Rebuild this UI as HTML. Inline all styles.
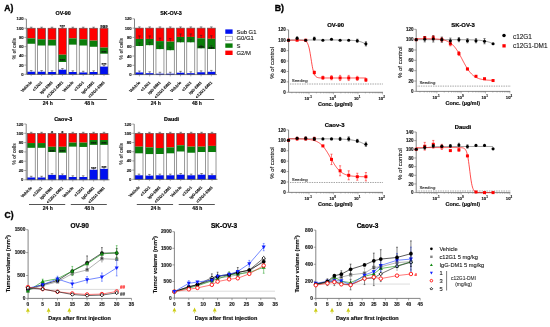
<!DOCTYPE html>
<html><head><meta charset="utf-8"><style>
html,body{margin:0;padding:0;background:#fff;width:550px;height:327px;overflow:hidden}
svg{display:block;will-change:transform}
text{font-family:"Liberation Sans",sans-serif}
</style></head><body>
<svg width="550" height="327" viewBox="0 0 550 327">
<rect width="550" height="327" fill="#fff"/>
<line x1="26.40" y1="18.98" x2="26.40" y2="74.30" stroke="#666" stroke-width="0.8" />
<line x1="26.40" y1="74.30" x2="109.50" y2="74.30" stroke="#666" stroke-width="0.8" />
<line x1="24.40" y1="74.30" x2="26.40" y2="74.30" stroke="#666" stroke-width="0.6" />
<text x="23.60" y="75.80" font-size="4.2" text-anchor="end" font-weight="bold" fill="#222"  stroke="#222" stroke-width="0.147">0</text>
<line x1="24.40" y1="65.08" x2="26.40" y2="65.08" stroke="#666" stroke-width="0.6" />
<text x="23.60" y="66.58" font-size="4.2" text-anchor="end" font-weight="bold" fill="#222"  stroke="#222" stroke-width="0.147">20</text>
<line x1="24.40" y1="55.86" x2="26.40" y2="55.86" stroke="#666" stroke-width="0.6" />
<text x="23.60" y="57.36" font-size="4.2" text-anchor="end" font-weight="bold" fill="#222"  stroke="#222" stroke-width="0.147">40</text>
<line x1="24.40" y1="46.64" x2="26.40" y2="46.64" stroke="#666" stroke-width="0.6" />
<text x="23.60" y="48.14" font-size="4.2" text-anchor="end" font-weight="bold" fill="#222"  stroke="#222" stroke-width="0.147">60</text>
<line x1="24.40" y1="37.42" x2="26.40" y2="37.42" stroke="#666" stroke-width="0.6" />
<text x="23.60" y="38.92" font-size="4.2" text-anchor="end" font-weight="bold" fill="#222"  stroke="#222" stroke-width="0.147">80</text>
<line x1="24.40" y1="28.20" x2="26.40" y2="28.20" stroke="#666" stroke-width="0.6" />
<text x="23.60" y="29.70" font-size="4.2" text-anchor="end" font-weight="bold" fill="#222"  stroke="#222" stroke-width="0.147">100</text>
<line x1="24.40" y1="18.98" x2="26.40" y2="18.98" stroke="#666" stroke-width="0.6" />
<text x="23.60" y="20.48" font-size="4.2" text-anchor="end" font-weight="bold" fill="#222"  stroke="#222" stroke-width="0.147">120</text>
<text x="16.00" y="48.64" font-size="5.0" text-anchor="middle" fill="#111" transform="rotate(-90 16.00 48.64)"  stroke="#111" stroke-width="0.100">% of cells</text>
<text x="63.20" y="15.30" font-size="5.4" text-anchor="middle" font-weight="bold" fill="#000"  stroke="#000" stroke-width="0.189">OV-90</text>
<rect x="27.20" y="28.20" width="8.00" height="10.14" fill="#ff0000" stroke="none" stroke-width="0"/>
<rect x="27.20" y="38.34" width="8.00" height="5.53" fill="#0a7d0a" stroke="none" stroke-width="0"/>
<rect x="27.20" y="43.87" width="8.00" height="27.89" fill="#fff" stroke="none" stroke-width="0"/>
<rect x="27.20" y="71.76" width="8.00" height="2.54" fill="#0010f0" stroke="none" stroke-width="0"/>
<rect x="27.20" y="28.20" width="8.00" height="46.10" fill="none" stroke="#555" stroke-width="0.6"/>
<line x1="31.20" y1="74.30" x2="31.20" y2="76.10" stroke="#666" stroke-width="0.5" />
<line x1="29.90" y1="27.20" x2="32.50" y2="27.20" stroke="#222" stroke-width="0.5" />
<line x1="31.20" y1="27.20" x2="31.20" y2="28.20" stroke="#222" stroke-width="0.5" />
<line x1="29.90" y1="70.56" x2="32.50" y2="70.56" stroke="#222" stroke-width="0.5" />
<line x1="31.20" y1="70.56" x2="31.20" y2="71.76" stroke="#222" stroke-width="0.5" />
<rect x="37.60" y="28.20" width="8.00" height="11.06" fill="#ff0000" stroke="none" stroke-width="0"/>
<rect x="37.60" y="39.26" width="8.00" height="6.45" fill="#0a7d0a" stroke="none" stroke-width="0"/>
<rect x="37.60" y="45.72" width="8.00" height="26.05" fill="#fff" stroke="none" stroke-width="0"/>
<rect x="37.60" y="71.76" width="8.00" height="2.54" fill="#0010f0" stroke="none" stroke-width="0"/>
<rect x="37.60" y="28.20" width="8.00" height="46.10" fill="none" stroke="#555" stroke-width="0.6"/>
<line x1="41.60" y1="74.30" x2="41.60" y2="76.10" stroke="#666" stroke-width="0.5" />
<line x1="40.30" y1="27.20" x2="42.90" y2="27.20" stroke="#222" stroke-width="0.5" />
<line x1="41.60" y1="27.20" x2="41.60" y2="28.20" stroke="#222" stroke-width="0.5" />
<line x1="40.30" y1="70.56" x2="42.90" y2="70.56" stroke="#222" stroke-width="0.5" />
<line x1="41.60" y1="70.56" x2="41.60" y2="71.76" stroke="#222" stroke-width="0.5" />
<rect x="48.00" y="28.20" width="8.00" height="11.52" fill="#ff0000" stroke="none" stroke-width="0"/>
<rect x="48.00" y="39.73" width="8.00" height="5.99" fill="#0a7d0a" stroke="none" stroke-width="0"/>
<rect x="48.00" y="45.72" width="8.00" height="26.28" fill="#fff" stroke="none" stroke-width="0"/>
<rect x="48.00" y="72.00" width="8.00" height="2.30" fill="#0010f0" stroke="none" stroke-width="0"/>
<rect x="48.00" y="28.20" width="8.00" height="46.10" fill="none" stroke="#555" stroke-width="0.6"/>
<line x1="52.00" y1="74.30" x2="52.00" y2="76.10" stroke="#666" stroke-width="0.5" />
<line x1="50.70" y1="27.20" x2="53.30" y2="27.20" stroke="#222" stroke-width="0.5" />
<line x1="52.00" y1="27.20" x2="52.00" y2="28.20" stroke="#222" stroke-width="0.5" />
<line x1="50.70" y1="70.80" x2="53.30" y2="70.80" stroke="#222" stroke-width="0.5" />
<line x1="52.00" y1="70.80" x2="52.00" y2="72.00" stroke="#222" stroke-width="0.5" />
<rect x="58.40" y="28.20" width="8.00" height="26.51" fill="#ff0000" stroke="none" stroke-width="0"/>
<rect x="58.40" y="54.71" width="8.00" height="7.33" fill="#0a7d0a" stroke="none" stroke-width="0"/>
<rect x="58.40" y="62.04" width="8.00" height="7.65" fill="#fff" stroke="none" stroke-width="0"/>
<rect x="58.40" y="69.69" width="8.00" height="4.61" fill="#0010f0" stroke="none" stroke-width="0"/>
<rect x="58.40" y="28.20" width="8.00" height="46.10" fill="none" stroke="#555" stroke-width="0.6"/>
<line x1="62.40" y1="74.30" x2="62.40" y2="76.10" stroke="#666" stroke-width="0.5" />
<line x1="61.10" y1="27.20" x2="63.70" y2="27.20" stroke="#222" stroke-width="0.5" />
<line x1="62.40" y1="27.20" x2="62.40" y2="28.20" stroke="#222" stroke-width="0.5" />
<line x1="61.10" y1="68.49" x2="63.70" y2="68.49" stroke="#222" stroke-width="0.5" />
<line x1="62.40" y1="68.49" x2="62.40" y2="69.69" stroke="#222" stroke-width="0.5" />
<rect x="68.80" y="28.20" width="8.00" height="10.14" fill="#ff0000" stroke="none" stroke-width="0"/>
<rect x="68.80" y="38.34" width="8.00" height="6.45" fill="#0a7d0a" stroke="none" stroke-width="0"/>
<rect x="68.80" y="44.80" width="8.00" height="27.20" fill="#fff" stroke="none" stroke-width="0"/>
<rect x="68.80" y="72.00" width="8.00" height="2.30" fill="#0010f0" stroke="none" stroke-width="0"/>
<rect x="68.80" y="28.20" width="8.00" height="46.10" fill="none" stroke="#555" stroke-width="0.6"/>
<line x1="72.80" y1="74.30" x2="72.80" y2="76.10" stroke="#666" stroke-width="0.5" />
<line x1="71.50" y1="27.20" x2="74.10" y2="27.20" stroke="#222" stroke-width="0.5" />
<line x1="72.80" y1="27.20" x2="72.80" y2="28.20" stroke="#222" stroke-width="0.5" />
<line x1="71.50" y1="70.80" x2="74.10" y2="70.80" stroke="#222" stroke-width="0.5" />
<line x1="72.80" y1="70.80" x2="72.80" y2="72.00" stroke="#222" stroke-width="0.5" />
<rect x="79.20" y="28.20" width="8.00" height="11.06" fill="#ff0000" stroke="none" stroke-width="0"/>
<rect x="79.20" y="39.26" width="8.00" height="6.45" fill="#0a7d0a" stroke="none" stroke-width="0"/>
<rect x="79.20" y="45.72" width="8.00" height="26.74" fill="#fff" stroke="none" stroke-width="0"/>
<rect x="79.20" y="72.46" width="8.00" height="1.84" fill="#0010f0" stroke="none" stroke-width="0"/>
<rect x="79.20" y="28.20" width="8.00" height="46.10" fill="none" stroke="#555" stroke-width="0.6"/>
<line x1="83.20" y1="74.30" x2="83.20" y2="76.10" stroke="#666" stroke-width="0.5" />
<line x1="81.90" y1="27.20" x2="84.50" y2="27.20" stroke="#222" stroke-width="0.5" />
<line x1="83.20" y1="27.20" x2="83.20" y2="28.20" stroke="#222" stroke-width="0.5" />
<line x1="81.90" y1="71.26" x2="84.50" y2="71.26" stroke="#222" stroke-width="0.5" />
<line x1="83.20" y1="71.26" x2="83.20" y2="72.46" stroke="#222" stroke-width="0.5" />
<rect x="89.60" y="28.20" width="8.00" height="12.45" fill="#ff0000" stroke="none" stroke-width="0"/>
<rect x="89.60" y="40.65" width="8.00" height="6.22" fill="#0a7d0a" stroke="none" stroke-width="0"/>
<rect x="89.60" y="46.87" width="8.00" height="25.12" fill="#fff" stroke="none" stroke-width="0"/>
<rect x="89.60" y="72.00" width="8.00" height="2.30" fill="#0010f0" stroke="none" stroke-width="0"/>
<rect x="89.60" y="28.20" width="8.00" height="46.10" fill="none" stroke="#555" stroke-width="0.6"/>
<line x1="93.60" y1="74.30" x2="93.60" y2="76.10" stroke="#666" stroke-width="0.5" />
<line x1="92.30" y1="27.20" x2="94.90" y2="27.20" stroke="#222" stroke-width="0.5" />
<line x1="93.60" y1="27.20" x2="93.60" y2="28.20" stroke="#222" stroke-width="0.5" />
<line x1="92.30" y1="70.80" x2="94.90" y2="70.80" stroke="#222" stroke-width="0.5" />
<line x1="93.60" y1="70.80" x2="93.60" y2="72.00" stroke="#222" stroke-width="0.5" />
<rect x="100.00" y="28.20" width="8.00" height="19.36" fill="#ff0000" stroke="none" stroke-width="0"/>
<rect x="100.00" y="47.56" width="8.00" height="6.27" fill="#0a7d0a" stroke="none" stroke-width="0"/>
<rect x="100.00" y="53.83" width="8.00" height="12.77" fill="#fff" stroke="none" stroke-width="0"/>
<rect x="100.00" y="66.60" width="8.00" height="7.70" fill="#0010f0" stroke="none" stroke-width="0"/>
<rect x="100.00" y="28.20" width="8.00" height="46.10" fill="none" stroke="#555" stroke-width="0.6"/>
<line x1="104.00" y1="74.30" x2="104.00" y2="76.10" stroke="#666" stroke-width="0.5" />
<line x1="102.70" y1="27.20" x2="105.30" y2="27.20" stroke="#222" stroke-width="0.5" />
<line x1="104.00" y1="27.20" x2="104.00" y2="28.20" stroke="#222" stroke-width="0.5" />
<line x1="102.70" y1="65.40" x2="105.30" y2="65.40" stroke="#222" stroke-width="0.5" />
<line x1="104.00" y1="65.40" x2="104.00" y2="66.60" stroke="#222" stroke-width="0.5" />
<text x="62.40" y="28.42" font-size="4.4" text-anchor="middle" font-weight="bold" fill="#111"  stroke="#111" stroke-width="0.154">***</text>
<text x="62.40" y="61.61" font-size="4.4" text-anchor="middle" font-weight="bold" fill="#111"  stroke="#111" stroke-width="0.154">***</text>
<text x="104.00" y="28.19" font-size="4.4" text-anchor="middle" font-weight="bold" fill="#111"  stroke="#111" stroke-width="0.154">§§§</text>
<text x="104.00" y="53.77" font-size="4.4" text-anchor="middle" font-weight="bold" fill="#111"  stroke="#111" stroke-width="0.154">***</text>
<text x="104.00" y="66.22" font-size="4.4" text-anchor="middle" font-weight="bold" fill="#111"  stroke="#111" stroke-width="0.154">***</text>
<text x="32.30" y="82.70" font-size="4.0" text-anchor="end" font-weight="bold" fill="#111" transform="rotate(-45 32.30 82.70)" stroke="#111" stroke-width="0.12">Vehicle</text>
<text x="42.70" y="82.70" font-size="4.0" text-anchor="end" font-weight="bold" fill="#111" transform="rotate(-45 42.70 82.70)" stroke="#111" stroke-width="0.12">c12G1</text>
<text x="53.10" y="82.70" font-size="4.0" text-anchor="end" font-weight="bold" fill="#111" transform="rotate(-45 53.10 82.70)" stroke="#111" stroke-width="0.12">IgG-DM1</text>
<text x="63.50" y="82.70" font-size="4.0" text-anchor="end" font-weight="bold" fill="#111" transform="rotate(-45 63.50 82.70)" stroke="#111" stroke-width="0.12">c12G1-DM1</text>
<text x="73.90" y="82.70" font-size="4.0" text-anchor="end" font-weight="bold" fill="#111" transform="rotate(-45 73.90 82.70)" stroke="#111" stroke-width="0.12">Vehicle</text>
<text x="84.30" y="82.70" font-size="4.0" text-anchor="end" font-weight="bold" fill="#111" transform="rotate(-45 84.30 82.70)" stroke="#111" stroke-width="0.12">c12G1</text>
<text x="94.70" y="82.70" font-size="4.0" text-anchor="end" font-weight="bold" fill="#111" transform="rotate(-45 94.70 82.70)" stroke="#111" stroke-width="0.12">IgG-DM1</text>
<text x="105.10" y="82.70" font-size="4.0" text-anchor="end" font-weight="bold" fill="#111" transform="rotate(-45 105.10 82.70)" stroke="#111" stroke-width="0.12">c12G1-DM1</text>
<line x1="29.00" y1="99.50" x2="65.20" y2="99.50" stroke="#555" stroke-width="1.0" />
<line x1="70.80" y1="99.50" x2="106.80" y2="99.50" stroke="#555" stroke-width="1.0" />
<text x="47.80" y="105.20" font-size="5.0" text-anchor="middle" font-weight="bold" fill="#111"  stroke="#111" stroke-width="0.175">24 h</text>
<text x="89.40" y="105.20" font-size="5.0" text-anchor="middle" font-weight="bold" fill="#111"  stroke="#111" stroke-width="0.175">48 h</text>
<line x1="134.50" y1="18.80" x2="134.50" y2="74.60" stroke="#666" stroke-width="0.8" />
<line x1="134.50" y1="74.60" x2="216.86" y2="74.60" stroke="#666" stroke-width="0.8" />
<line x1="132.50" y1="74.60" x2="134.50" y2="74.60" stroke="#666" stroke-width="0.6" />
<text x="131.70" y="76.10" font-size="4.2" text-anchor="end" font-weight="bold" fill="#222"  stroke="#222" stroke-width="0.147">0</text>
<line x1="132.50" y1="65.30" x2="134.50" y2="65.30" stroke="#666" stroke-width="0.6" />
<text x="131.70" y="66.80" font-size="4.2" text-anchor="end" font-weight="bold" fill="#222"  stroke="#222" stroke-width="0.147">20</text>
<line x1="132.50" y1="56.00" x2="134.50" y2="56.00" stroke="#666" stroke-width="0.6" />
<text x="131.70" y="57.50" font-size="4.2" text-anchor="end" font-weight="bold" fill="#222"  stroke="#222" stroke-width="0.147">40</text>
<line x1="132.50" y1="46.70" x2="134.50" y2="46.70" stroke="#666" stroke-width="0.6" />
<text x="131.70" y="48.20" font-size="4.2" text-anchor="end" font-weight="bold" fill="#222"  stroke="#222" stroke-width="0.147">60</text>
<line x1="132.50" y1="37.40" x2="134.50" y2="37.40" stroke="#666" stroke-width="0.6" />
<text x="131.70" y="38.90" font-size="4.2" text-anchor="end" font-weight="bold" fill="#222"  stroke="#222" stroke-width="0.147">80</text>
<line x1="132.50" y1="28.10" x2="134.50" y2="28.10" stroke="#666" stroke-width="0.6" />
<text x="131.70" y="29.60" font-size="4.2" text-anchor="end" font-weight="bold" fill="#222"  stroke="#222" stroke-width="0.147">100</text>
<line x1="132.50" y1="18.80" x2="134.50" y2="18.80" stroke="#666" stroke-width="0.6" />
<text x="131.70" y="20.30" font-size="4.2" text-anchor="end" font-weight="bold" fill="#222"  stroke="#222" stroke-width="0.147">120</text>
<text x="123.30" y="48.70" font-size="5.0" text-anchor="middle" fill="#111" transform="rotate(-90 123.30 48.70)"  stroke="#111" stroke-width="0.100">% of cells</text>
<text x="171.00" y="15.30" font-size="5.4" text-anchor="middle" font-weight="bold" fill="#000"  stroke="#000" stroke-width="0.189">SK-OV-3</text>
<rect x="135.40" y="28.10" width="8.00" height="10.83" fill="#ff0000" stroke="none" stroke-width="0"/>
<rect x="135.40" y="38.93" width="8.00" height="7.11" fill="#0a7d0a" stroke="none" stroke-width="0"/>
<rect x="135.40" y="46.05" width="8.00" height="26.41" fill="#fff" stroke="none" stroke-width="0"/>
<rect x="135.40" y="72.46" width="8.00" height="2.14" fill="#0010f0" stroke="none" stroke-width="0"/>
<rect x="135.40" y="28.10" width="8.00" height="46.50" fill="none" stroke="#555" stroke-width="0.6"/>
<line x1="139.40" y1="74.60" x2="139.40" y2="76.40" stroke="#666" stroke-width="0.5" />
<line x1="138.10" y1="26.90" x2="140.70" y2="26.90" stroke="#222" stroke-width="0.5" />
<line x1="139.40" y1="26.90" x2="139.40" y2="28.10" stroke="#222" stroke-width="0.5" />
<line x1="138.10" y1="35.93" x2="140.70" y2="35.93" stroke="#222" stroke-width="0.5" />
<line x1="139.40" y1="35.93" x2="139.40" y2="38.93" stroke="#222" stroke-width="0.5" />
<line x1="138.10" y1="42.85" x2="140.70" y2="42.85" stroke="#222" stroke-width="0.5" />
<line x1="139.40" y1="42.85" x2="139.40" y2="46.05" stroke="#222" stroke-width="0.5" />
<line x1="138.10" y1="71.06" x2="140.70" y2="71.06" stroke="#222" stroke-width="0.5" />
<line x1="139.40" y1="71.06" x2="139.40" y2="72.46" stroke="#222" stroke-width="0.5" />
<rect x="145.68" y="28.10" width="8.00" height="10.83" fill="#ff0000" stroke="none" stroke-width="0"/>
<rect x="145.68" y="38.93" width="8.00" height="6.46" fill="#0a7d0a" stroke="none" stroke-width="0"/>
<rect x="145.68" y="45.40" width="8.00" height="27.81" fill="#fff" stroke="none" stroke-width="0"/>
<rect x="145.68" y="73.20" width="8.00" height="1.39" fill="#0010f0" stroke="none" stroke-width="0"/>
<rect x="145.68" y="28.10" width="8.00" height="46.50" fill="none" stroke="#555" stroke-width="0.6"/>
<line x1="149.68" y1="74.60" x2="149.68" y2="76.40" stroke="#666" stroke-width="0.5" />
<line x1="148.38" y1="26.90" x2="150.98" y2="26.90" stroke="#222" stroke-width="0.5" />
<line x1="149.68" y1="26.90" x2="149.68" y2="28.10" stroke="#222" stroke-width="0.5" />
<line x1="148.38" y1="35.93" x2="150.98" y2="35.93" stroke="#222" stroke-width="0.5" />
<line x1="149.68" y1="35.93" x2="149.68" y2="38.93" stroke="#222" stroke-width="0.5" />
<line x1="148.38" y1="42.20" x2="150.98" y2="42.20" stroke="#222" stroke-width="0.5" />
<line x1="149.68" y1="42.20" x2="149.68" y2="45.40" stroke="#222" stroke-width="0.5" />
<line x1="148.38" y1="71.80" x2="150.98" y2="71.80" stroke="#222" stroke-width="0.5" />
<line x1="149.68" y1="71.80" x2="149.68" y2="73.20" stroke="#222" stroke-width="0.5" />
<rect x="155.96" y="28.10" width="8.00" height="13.02" fill="#ff0000" stroke="none" stroke-width="0"/>
<rect x="155.96" y="41.12" width="8.00" height="8.18" fill="#0a7d0a" stroke="none" stroke-width="0"/>
<rect x="155.96" y="49.30" width="8.00" height="24.37" fill="#fff" stroke="none" stroke-width="0"/>
<rect x="155.96" y="73.67" width="8.00" height="0.93" fill="#0010f0" stroke="none" stroke-width="0"/>
<rect x="155.96" y="28.10" width="8.00" height="46.50" fill="none" stroke="#555" stroke-width="0.6"/>
<line x1="159.96" y1="74.60" x2="159.96" y2="76.40" stroke="#666" stroke-width="0.5" />
<line x1="158.66" y1="26.90" x2="161.26" y2="26.90" stroke="#222" stroke-width="0.5" />
<line x1="159.96" y1="26.90" x2="159.96" y2="28.10" stroke="#222" stroke-width="0.5" />
<line x1="158.66" y1="38.12" x2="161.26" y2="38.12" stroke="#222" stroke-width="0.5" />
<line x1="159.96" y1="38.12" x2="159.96" y2="41.12" stroke="#222" stroke-width="0.5" />
<line x1="158.66" y1="46.10" x2="161.26" y2="46.10" stroke="#222" stroke-width="0.5" />
<line x1="159.96" y1="46.10" x2="159.96" y2="49.30" stroke="#222" stroke-width="0.5" />
<line x1="158.66" y1="72.27" x2="161.26" y2="72.27" stroke="#222" stroke-width="0.5" />
<line x1="159.96" y1="72.27" x2="159.96" y2="73.67" stroke="#222" stroke-width="0.5" />
<rect x="166.24" y="28.10" width="8.00" height="13.48" fill="#ff0000" stroke="none" stroke-width="0"/>
<rect x="166.24" y="41.59" width="8.00" height="8.83" fill="#0a7d0a" stroke="none" stroke-width="0"/>
<rect x="166.24" y="50.42" width="8.00" height="23.25" fill="#fff" stroke="none" stroke-width="0"/>
<rect x="166.24" y="73.67" width="8.00" height="0.93" fill="#0010f0" stroke="none" stroke-width="0"/>
<rect x="166.24" y="28.10" width="8.00" height="46.50" fill="none" stroke="#555" stroke-width="0.6"/>
<line x1="170.24" y1="74.60" x2="170.24" y2="76.40" stroke="#666" stroke-width="0.5" />
<line x1="168.94" y1="26.90" x2="171.54" y2="26.90" stroke="#222" stroke-width="0.5" />
<line x1="170.24" y1="26.90" x2="170.24" y2="28.10" stroke="#222" stroke-width="0.5" />
<line x1="168.94" y1="38.59" x2="171.54" y2="38.59" stroke="#222" stroke-width="0.5" />
<line x1="170.24" y1="38.59" x2="170.24" y2="41.59" stroke="#222" stroke-width="0.5" />
<line x1="168.94" y1="47.22" x2="171.54" y2="47.22" stroke="#222" stroke-width="0.5" />
<line x1="170.24" y1="47.22" x2="170.24" y2="50.42" stroke="#222" stroke-width="0.5" />
<line x1="168.94" y1="72.27" x2="171.54" y2="72.27" stroke="#222" stroke-width="0.5" />
<line x1="170.24" y1="72.27" x2="170.24" y2="73.67" stroke="#222" stroke-width="0.5" />
<rect x="176.52" y="28.10" width="8.00" height="8.83" fill="#ff0000" stroke="none" stroke-width="0"/>
<rect x="176.52" y="36.94" width="8.00" height="5.58" fill="#0a7d0a" stroke="none" stroke-width="0"/>
<rect x="176.52" y="42.52" width="8.00" height="30.22" fill="#fff" stroke="none" stroke-width="0"/>
<rect x="176.52" y="72.74" width="8.00" height="1.86" fill="#0010f0" stroke="none" stroke-width="0"/>
<rect x="176.52" y="28.10" width="8.00" height="46.50" fill="none" stroke="#555" stroke-width="0.6"/>
<line x1="180.52" y1="74.60" x2="180.52" y2="76.40" stroke="#666" stroke-width="0.5" />
<line x1="179.22" y1="26.90" x2="181.82" y2="26.90" stroke="#222" stroke-width="0.5" />
<line x1="180.52" y1="26.90" x2="180.52" y2="28.10" stroke="#222" stroke-width="0.5" />
<line x1="179.22" y1="33.94" x2="181.82" y2="33.94" stroke="#222" stroke-width="0.5" />
<line x1="180.52" y1="33.94" x2="180.52" y2="36.94" stroke="#222" stroke-width="0.5" />
<line x1="179.22" y1="39.31" x2="181.82" y2="39.31" stroke="#222" stroke-width="0.5" />
<line x1="180.52" y1="39.31" x2="180.52" y2="42.52" stroke="#222" stroke-width="0.5" />
<line x1="179.22" y1="71.34" x2="181.82" y2="71.34" stroke="#222" stroke-width="0.5" />
<line x1="180.52" y1="71.34" x2="180.52" y2="72.74" stroke="#222" stroke-width="0.5" />
<rect x="186.80" y="28.10" width="8.00" height="8.83" fill="#ff0000" stroke="none" stroke-width="0"/>
<rect x="186.80" y="36.94" width="8.00" height="5.58" fill="#0a7d0a" stroke="none" stroke-width="0"/>
<rect x="186.80" y="42.52" width="8.00" height="30.69" fill="#fff" stroke="none" stroke-width="0"/>
<rect x="186.80" y="73.20" width="8.00" height="1.39" fill="#0010f0" stroke="none" stroke-width="0"/>
<rect x="186.80" y="28.10" width="8.00" height="46.50" fill="none" stroke="#555" stroke-width="0.6"/>
<line x1="190.80" y1="74.60" x2="190.80" y2="76.40" stroke="#666" stroke-width="0.5" />
<line x1="189.50" y1="26.90" x2="192.10" y2="26.90" stroke="#222" stroke-width="0.5" />
<line x1="190.80" y1="26.90" x2="190.80" y2="28.10" stroke="#222" stroke-width="0.5" />
<line x1="189.50" y1="33.94" x2="192.10" y2="33.94" stroke="#222" stroke-width="0.5" />
<line x1="190.80" y1="33.94" x2="190.80" y2="36.94" stroke="#222" stroke-width="0.5" />
<line x1="189.50" y1="39.31" x2="192.10" y2="39.31" stroke="#222" stroke-width="0.5" />
<line x1="190.80" y1="39.31" x2="190.80" y2="42.52" stroke="#222" stroke-width="0.5" />
<line x1="189.50" y1="71.80" x2="192.10" y2="71.80" stroke="#222" stroke-width="0.5" />
<line x1="190.80" y1="71.80" x2="190.80" y2="73.20" stroke="#222" stroke-width="0.5" />
<rect x="197.08" y="28.10" width="8.00" height="10.23" fill="#ff0000" stroke="none" stroke-width="0"/>
<rect x="197.08" y="38.33" width="8.00" height="10.23" fill="#0a7d0a" stroke="none" stroke-width="0"/>
<rect x="197.08" y="48.56" width="8.00" height="23.71" fill="#fff" stroke="none" stroke-width="0"/>
<rect x="197.08" y="72.27" width="8.00" height="2.32" fill="#0010f0" stroke="none" stroke-width="0"/>
<rect x="197.08" y="28.10" width="8.00" height="46.50" fill="none" stroke="#555" stroke-width="0.6"/>
<line x1="201.08" y1="74.60" x2="201.08" y2="76.40" stroke="#666" stroke-width="0.5" />
<line x1="199.78" y1="26.90" x2="202.38" y2="26.90" stroke="#222" stroke-width="0.5" />
<line x1="201.08" y1="26.90" x2="201.08" y2="28.10" stroke="#222" stroke-width="0.5" />
<line x1="199.78" y1="35.33" x2="202.38" y2="35.33" stroke="#222" stroke-width="0.5" />
<line x1="201.08" y1="35.33" x2="201.08" y2="38.33" stroke="#222" stroke-width="0.5" />
<line x1="199.78" y1="45.36" x2="202.38" y2="45.36" stroke="#222" stroke-width="0.5" />
<line x1="201.08" y1="45.36" x2="201.08" y2="48.56" stroke="#222" stroke-width="0.5" />
<line x1="199.78" y1="70.87" x2="202.38" y2="70.87" stroke="#222" stroke-width="0.5" />
<line x1="201.08" y1="70.87" x2="201.08" y2="72.27" stroke="#222" stroke-width="0.5" />
<rect x="207.36" y="28.10" width="8.00" height="10.69" fill="#ff0000" stroke="none" stroke-width="0"/>
<rect x="207.36" y="38.80" width="8.00" height="10.23" fill="#0a7d0a" stroke="none" stroke-width="0"/>
<rect x="207.36" y="49.02" width="8.00" height="22.78" fill="#fff" stroke="none" stroke-width="0"/>
<rect x="207.36" y="71.81" width="8.00" height="2.79" fill="#0010f0" stroke="none" stroke-width="0"/>
<rect x="207.36" y="28.10" width="8.00" height="46.50" fill="none" stroke="#555" stroke-width="0.6"/>
<line x1="211.36" y1="74.60" x2="211.36" y2="76.40" stroke="#666" stroke-width="0.5" />
<line x1="210.06" y1="26.90" x2="212.66" y2="26.90" stroke="#222" stroke-width="0.5" />
<line x1="211.36" y1="26.90" x2="211.36" y2="28.10" stroke="#222" stroke-width="0.5" />
<line x1="210.06" y1="35.80" x2="212.66" y2="35.80" stroke="#222" stroke-width="0.5" />
<line x1="211.36" y1="35.80" x2="211.36" y2="38.80" stroke="#222" stroke-width="0.5" />
<line x1="210.06" y1="45.82" x2="212.66" y2="45.82" stroke="#222" stroke-width="0.5" />
<line x1="211.36" y1="45.82" x2="211.36" y2="49.02" stroke="#222" stroke-width="0.5" />
<line x1="210.06" y1="70.41" x2="212.66" y2="70.41" stroke="#222" stroke-width="0.5" />
<line x1="211.36" y1="70.41" x2="211.36" y2="71.81" stroke="#222" stroke-width="0.5" />
<text x="201.08" y="49.23" font-size="4.4" text-anchor="middle" font-weight="bold" fill="#111"  stroke="#111" stroke-width="0.154">***</text>
<text x="211.36" y="49.70" font-size="4.4" text-anchor="middle" font-weight="bold" fill="#111"  stroke="#111" stroke-width="0.154">***</text>
<text x="140.50" y="83.00" font-size="4.0" text-anchor="end" font-weight="bold" fill="#111" transform="rotate(-45 140.50 83.00)" stroke="#111" stroke-width="0.12">Vehicle</text>
<text x="150.78" y="83.00" font-size="4.0" text-anchor="end" font-weight="bold" fill="#111" transform="rotate(-45 150.78 83.00)" stroke="#111" stroke-width="0.12">c12G1</text>
<text x="161.06" y="83.00" font-size="4.0" text-anchor="end" font-weight="bold" fill="#111" transform="rotate(-45 161.06 83.00)" stroke="#111" stroke-width="0.12">IgG-DM1</text>
<text x="171.34" y="83.00" font-size="4.0" text-anchor="end" font-weight="bold" fill="#111" transform="rotate(-45 171.34 83.00)" stroke="#111" stroke-width="0.12">c12G1-DM1</text>
<text x="181.62" y="83.00" font-size="4.0" text-anchor="end" font-weight="bold" fill="#111" transform="rotate(-45 181.62 83.00)" stroke="#111" stroke-width="0.12">Vehicle</text>
<text x="191.90" y="83.00" font-size="4.0" text-anchor="end" font-weight="bold" fill="#111" transform="rotate(-45 191.90 83.00)" stroke="#111" stroke-width="0.12">c12G1</text>
<text x="202.18" y="83.00" font-size="4.0" text-anchor="end" font-weight="bold" fill="#111" transform="rotate(-45 202.18 83.00)" stroke="#111" stroke-width="0.12">IgG-DM1</text>
<text x="212.46" y="83.00" font-size="4.0" text-anchor="end" font-weight="bold" fill="#111" transform="rotate(-45 212.46 83.00)" stroke="#111" stroke-width="0.12">c12G1-DM1</text>
<line x1="137.20" y1="99.50" x2="173.04" y2="99.50" stroke="#555" stroke-width="1.0" />
<line x1="178.52" y1="99.50" x2="214.16" y2="99.50" stroke="#555" stroke-width="1.0" />
<text x="155.82" y="105.20" font-size="5.0" text-anchor="middle" font-weight="bold" fill="#111"  stroke="#111" stroke-width="0.175">24 h</text>
<text x="196.94" y="105.20" font-size="5.0" text-anchor="middle" font-weight="bold" fill="#111"  stroke="#111" stroke-width="0.175">48 h</text>
<line x1="26.20" y1="124.00" x2="26.20" y2="179.80" stroke="#666" stroke-width="0.8" />
<line x1="26.20" y1="179.80" x2="109.50" y2="179.80" stroke="#666" stroke-width="0.8" />
<line x1="24.20" y1="179.80" x2="26.20" y2="179.80" stroke="#666" stroke-width="0.6" />
<text x="23.40" y="181.30" font-size="4.2" text-anchor="end" font-weight="bold" fill="#222"  stroke="#222" stroke-width="0.147">0</text>
<line x1="24.20" y1="170.50" x2="26.20" y2="170.50" stroke="#666" stroke-width="0.6" />
<text x="23.40" y="172.00" font-size="4.2" text-anchor="end" font-weight="bold" fill="#222"  stroke="#222" stroke-width="0.147">20</text>
<line x1="24.20" y1="161.20" x2="26.20" y2="161.20" stroke="#666" stroke-width="0.6" />
<text x="23.40" y="162.70" font-size="4.2" text-anchor="end" font-weight="bold" fill="#222"  stroke="#222" stroke-width="0.147">40</text>
<line x1="24.20" y1="151.90" x2="26.20" y2="151.90" stroke="#666" stroke-width="0.6" />
<text x="23.40" y="153.40" font-size="4.2" text-anchor="end" font-weight="bold" fill="#222"  stroke="#222" stroke-width="0.147">60</text>
<line x1="24.20" y1="142.60" x2="26.20" y2="142.60" stroke="#666" stroke-width="0.6" />
<text x="23.40" y="144.10" font-size="4.2" text-anchor="end" font-weight="bold" fill="#222"  stroke="#222" stroke-width="0.147">80</text>
<line x1="24.20" y1="133.30" x2="26.20" y2="133.30" stroke="#666" stroke-width="0.6" />
<text x="23.40" y="134.80" font-size="4.2" text-anchor="end" font-weight="bold" fill="#222"  stroke="#222" stroke-width="0.147">100</text>
<line x1="24.20" y1="124.00" x2="26.20" y2="124.00" stroke="#666" stroke-width="0.6" />
<text x="23.40" y="125.50" font-size="4.2" text-anchor="end" font-weight="bold" fill="#222"  stroke="#222" stroke-width="0.147">120</text>
<text x="16.00" y="153.90" font-size="5.0" text-anchor="middle" fill="#111" transform="rotate(-90 16.00 153.90)"  stroke="#111" stroke-width="0.100">% of cells</text>
<text x="63.20" y="121.00" font-size="5.4" text-anchor="middle" font-weight="bold" fill="#000"  stroke="#000" stroke-width="0.189">Caov-3</text>
<rect x="27.20" y="133.30" width="8.00" height="9.77" fill="#ff0000" stroke="none" stroke-width="0"/>
<rect x="27.20" y="143.06" width="8.00" height="4.84" fill="#0a7d0a" stroke="none" stroke-width="0"/>
<rect x="27.20" y="147.90" width="8.00" height="29.57" fill="#fff" stroke="none" stroke-width="0"/>
<rect x="27.20" y="177.48" width="8.00" height="2.33" fill="#0010f0" stroke="none" stroke-width="0"/>
<rect x="27.20" y="133.30" width="8.00" height="46.50" fill="none" stroke="#555" stroke-width="0.6"/>
<line x1="31.20" y1="179.80" x2="31.20" y2="181.60" stroke="#666" stroke-width="0.5" />
<line x1="29.90" y1="132.30" x2="32.50" y2="132.30" stroke="#222" stroke-width="0.5" />
<line x1="31.20" y1="132.30" x2="31.20" y2="133.30" stroke="#222" stroke-width="0.5" />
<line x1="29.90" y1="176.28" x2="32.50" y2="176.28" stroke="#222" stroke-width="0.5" />
<line x1="31.20" y1="176.28" x2="31.20" y2="177.48" stroke="#222" stroke-width="0.5" />
<rect x="37.60" y="133.30" width="8.00" height="9.77" fill="#ff0000" stroke="none" stroke-width="0"/>
<rect x="37.60" y="143.06" width="8.00" height="4.84" fill="#0a7d0a" stroke="none" stroke-width="0"/>
<rect x="37.60" y="147.90" width="8.00" height="29.57" fill="#fff" stroke="none" stroke-width="0"/>
<rect x="37.60" y="177.48" width="8.00" height="2.33" fill="#0010f0" stroke="none" stroke-width="0"/>
<rect x="37.60" y="133.30" width="8.00" height="46.50" fill="none" stroke="#555" stroke-width="0.6"/>
<line x1="41.60" y1="179.80" x2="41.60" y2="181.60" stroke="#666" stroke-width="0.5" />
<line x1="40.30" y1="132.30" x2="42.90" y2="132.30" stroke="#222" stroke-width="0.5" />
<line x1="41.60" y1="132.30" x2="41.60" y2="133.30" stroke="#222" stroke-width="0.5" />
<line x1="40.30" y1="176.28" x2="42.90" y2="176.28" stroke="#222" stroke-width="0.5" />
<line x1="41.60" y1="176.28" x2="41.60" y2="177.48" stroke="#222" stroke-width="0.5" />
<rect x="48.00" y="133.30" width="8.00" height="13.49" fill="#ff0000" stroke="none" stroke-width="0"/>
<rect x="48.00" y="146.79" width="8.00" height="5.30" fill="#0a7d0a" stroke="none" stroke-width="0"/>
<rect x="48.00" y="152.09" width="8.00" height="22.79" fill="#fff" stroke="none" stroke-width="0"/>
<rect x="48.00" y="174.87" width="8.00" height="4.93" fill="#0010f0" stroke="none" stroke-width="0"/>
<rect x="48.00" y="133.30" width="8.00" height="46.50" fill="none" stroke="#555" stroke-width="0.6"/>
<line x1="52.00" y1="179.80" x2="52.00" y2="181.60" stroke="#666" stroke-width="0.5" />
<line x1="50.70" y1="132.30" x2="53.30" y2="132.30" stroke="#222" stroke-width="0.5" />
<line x1="52.00" y1="132.30" x2="52.00" y2="133.30" stroke="#222" stroke-width="0.5" />
<line x1="50.70" y1="173.67" x2="53.30" y2="173.67" stroke="#222" stroke-width="0.5" />
<line x1="52.00" y1="173.67" x2="52.00" y2="174.87" stroke="#222" stroke-width="0.5" />
<rect x="58.40" y="133.30" width="8.00" height="13.49" fill="#ff0000" stroke="none" stroke-width="0"/>
<rect x="58.40" y="146.79" width="8.00" height="6.04" fill="#0a7d0a" stroke="none" stroke-width="0"/>
<rect x="58.40" y="152.83" width="8.00" height="22.32" fill="#fff" stroke="none" stroke-width="0"/>
<rect x="58.40" y="175.15" width="8.00" height="4.65" fill="#0010f0" stroke="none" stroke-width="0"/>
<rect x="58.40" y="133.30" width="8.00" height="46.50" fill="none" stroke="#555" stroke-width="0.6"/>
<line x1="62.40" y1="179.80" x2="62.40" y2="181.60" stroke="#666" stroke-width="0.5" />
<line x1="61.10" y1="132.30" x2="63.70" y2="132.30" stroke="#222" stroke-width="0.5" />
<line x1="62.40" y1="132.30" x2="62.40" y2="133.30" stroke="#222" stroke-width="0.5" />
<line x1="61.10" y1="173.95" x2="63.70" y2="173.95" stroke="#222" stroke-width="0.5" />
<line x1="62.40" y1="173.95" x2="62.40" y2="175.15" stroke="#222" stroke-width="0.5" />
<rect x="68.80" y="133.30" width="8.00" height="9.30" fill="#ff0000" stroke="none" stroke-width="0"/>
<rect x="68.80" y="142.60" width="8.00" height="4.19" fill="#0a7d0a" stroke="none" stroke-width="0"/>
<rect x="68.80" y="146.79" width="8.00" height="30.23" fill="#fff" stroke="none" stroke-width="0"/>
<rect x="68.80" y="177.01" width="8.00" height="2.79" fill="#0010f0" stroke="none" stroke-width="0"/>
<rect x="68.80" y="133.30" width="8.00" height="46.50" fill="none" stroke="#555" stroke-width="0.6"/>
<line x1="72.80" y1="179.80" x2="72.80" y2="181.60" stroke="#666" stroke-width="0.5" />
<line x1="71.50" y1="132.30" x2="74.10" y2="132.30" stroke="#222" stroke-width="0.5" />
<line x1="72.80" y1="132.30" x2="72.80" y2="133.30" stroke="#222" stroke-width="0.5" />
<line x1="71.50" y1="175.81" x2="74.10" y2="175.81" stroke="#222" stroke-width="0.5" />
<line x1="72.80" y1="175.81" x2="72.80" y2="177.01" stroke="#222" stroke-width="0.5" />
<rect x="79.20" y="133.30" width="8.00" height="9.30" fill="#ff0000" stroke="none" stroke-width="0"/>
<rect x="79.20" y="142.60" width="8.00" height="4.37" fill="#0a7d0a" stroke="none" stroke-width="0"/>
<rect x="79.20" y="146.97" width="8.00" height="30.04" fill="#fff" stroke="none" stroke-width="0"/>
<rect x="79.20" y="177.01" width="8.00" height="2.79" fill="#0010f0" stroke="none" stroke-width="0"/>
<rect x="79.20" y="133.30" width="8.00" height="46.50" fill="none" stroke="#555" stroke-width="0.6"/>
<line x1="83.20" y1="179.80" x2="83.20" y2="181.60" stroke="#666" stroke-width="0.5" />
<line x1="81.90" y1="132.30" x2="84.50" y2="132.30" stroke="#222" stroke-width="0.5" />
<line x1="83.20" y1="132.30" x2="83.20" y2="133.30" stroke="#222" stroke-width="0.5" />
<line x1="81.90" y1="175.81" x2="84.50" y2="175.81" stroke="#222" stroke-width="0.5" />
<line x1="83.20" y1="175.81" x2="83.20" y2="177.01" stroke="#222" stroke-width="0.5" />
<rect x="89.60" y="133.30" width="8.00" height="6.74" fill="#ff0000" stroke="none" stroke-width="0"/>
<rect x="89.60" y="140.04" width="8.00" height="4.88" fill="#0a7d0a" stroke="none" stroke-width="0"/>
<rect x="89.60" y="144.93" width="8.00" height="24.83" fill="#fff" stroke="none" stroke-width="0"/>
<rect x="89.60" y="169.76" width="8.00" height="10.04" fill="#0010f0" stroke="none" stroke-width="0"/>
<rect x="89.60" y="133.30" width="8.00" height="46.50" fill="none" stroke="#555" stroke-width="0.6"/>
<line x1="93.60" y1="179.80" x2="93.60" y2="181.60" stroke="#666" stroke-width="0.5" />
<line x1="92.30" y1="132.30" x2="94.90" y2="132.30" stroke="#222" stroke-width="0.5" />
<line x1="93.60" y1="132.30" x2="93.60" y2="133.30" stroke="#222" stroke-width="0.5" />
<line x1="92.30" y1="168.56" x2="94.90" y2="168.56" stroke="#222" stroke-width="0.5" />
<line x1="93.60" y1="168.56" x2="93.60" y2="169.76" stroke="#222" stroke-width="0.5" />
<rect x="100.00" y="133.30" width="8.00" height="6.74" fill="#ff0000" stroke="none" stroke-width="0"/>
<rect x="100.00" y="140.04" width="8.00" height="4.88" fill="#0a7d0a" stroke="none" stroke-width="0"/>
<rect x="100.00" y="144.93" width="8.00" height="23.95" fill="#fff" stroke="none" stroke-width="0"/>
<rect x="100.00" y="168.87" width="8.00" height="10.93" fill="#0010f0" stroke="none" stroke-width="0"/>
<rect x="100.00" y="133.30" width="8.00" height="46.50" fill="none" stroke="#555" stroke-width="0.6"/>
<line x1="104.00" y1="179.80" x2="104.00" y2="181.60" stroke="#666" stroke-width="0.5" />
<line x1="102.70" y1="132.30" x2="105.30" y2="132.30" stroke="#222" stroke-width="0.5" />
<line x1="104.00" y1="132.30" x2="104.00" y2="133.30" stroke="#222" stroke-width="0.5" />
<line x1="102.70" y1="167.67" x2="105.30" y2="167.67" stroke="#222" stroke-width="0.5" />
<line x1="104.00" y1="167.67" x2="104.00" y2="168.87" stroke="#222" stroke-width="0.5" />
<text x="52.00" y="133.50" font-size="4.4" text-anchor="middle" font-weight="bold" fill="#111"  stroke="#111" stroke-width="0.154">*</text>
<text x="62.40" y="133.50" font-size="4.4" text-anchor="middle" font-weight="bold" fill="#111"  stroke="#111" stroke-width="0.154">*</text>
<text x="52.00" y="152.57" font-size="4.4" text-anchor="middle" font-weight="bold" fill="#111"  stroke="#111" stroke-width="0.154">***</text>
<text x="62.40" y="153.03" font-size="4.4" text-anchor="middle" font-weight="bold" fill="#111"  stroke="#111" stroke-width="0.154">***</text>
<text x="93.60" y="145.13" font-size="4.4" text-anchor="middle" font-weight="bold" fill="#111"  stroke="#111" stroke-width="0.154">***</text>
<text x="104.00" y="145.13" font-size="4.4" text-anchor="middle" font-weight="bold" fill="#111"  stroke="#111" stroke-width="0.154">***</text>
<text x="93.60" y="170.24" font-size="4.4" text-anchor="middle" font-weight="bold" fill="#111"  stroke="#111" stroke-width="0.154">***</text>
<text x="104.00" y="169.31" font-size="4.4" text-anchor="middle" font-weight="bold" fill="#111"  stroke="#111" stroke-width="0.154">***</text>
<text x="32.30" y="188.20" font-size="4.0" text-anchor="end" font-weight="bold" fill="#111" transform="rotate(-45 32.30 188.20)" stroke="#111" stroke-width="0.12">Vehicle</text>
<text x="42.70" y="188.20" font-size="4.0" text-anchor="end" font-weight="bold" fill="#111" transform="rotate(-45 42.70 188.20)" stroke="#111" stroke-width="0.12">c12G1</text>
<text x="53.10" y="188.20" font-size="4.0" text-anchor="end" font-weight="bold" fill="#111" transform="rotate(-45 53.10 188.20)" stroke="#111" stroke-width="0.12">IgG-DM1</text>
<text x="63.50" y="188.20" font-size="4.0" text-anchor="end" font-weight="bold" fill="#111" transform="rotate(-45 63.50 188.20)" stroke="#111" stroke-width="0.12">c12G1-DM1</text>
<text x="73.90" y="188.20" font-size="4.0" text-anchor="end" font-weight="bold" fill="#111" transform="rotate(-45 73.90 188.20)" stroke="#111" stroke-width="0.12">Vehicle</text>
<text x="84.30" y="188.20" font-size="4.0" text-anchor="end" font-weight="bold" fill="#111" transform="rotate(-45 84.30 188.20)" stroke="#111" stroke-width="0.12">c12G1</text>
<text x="94.70" y="188.20" font-size="4.0" text-anchor="end" font-weight="bold" fill="#111" transform="rotate(-45 94.70 188.20)" stroke="#111" stroke-width="0.12">IgG-DM1</text>
<text x="105.10" y="188.20" font-size="4.0" text-anchor="end" font-weight="bold" fill="#111" transform="rotate(-45 105.10 188.20)" stroke="#111" stroke-width="0.12">c12G1-DM1</text>
<line x1="29.00" y1="204.50" x2="65.20" y2="204.50" stroke="#555" stroke-width="1.0" />
<line x1="70.80" y1="204.50" x2="106.80" y2="204.50" stroke="#555" stroke-width="1.0" />
<text x="47.80" y="210.20" font-size="5.0" text-anchor="middle" font-weight="bold" fill="#111"  stroke="#111" stroke-width="0.175">24 h</text>
<text x="89.40" y="210.20" font-size="5.0" text-anchor="middle" font-weight="bold" fill="#111"  stroke="#111" stroke-width="0.175">48 h</text>
<line x1="134.20" y1="124.10" x2="134.20" y2="179.30" stroke="#666" stroke-width="0.8" />
<line x1="134.20" y1="179.30" x2="217.51" y2="179.30" stroke="#666" stroke-width="0.8" />
<line x1="132.20" y1="179.30" x2="134.20" y2="179.30" stroke="#666" stroke-width="0.6" />
<text x="131.40" y="180.80" font-size="4.2" text-anchor="end" font-weight="bold" fill="#222"  stroke="#222" stroke-width="0.147">0</text>
<line x1="132.20" y1="170.10" x2="134.20" y2="170.10" stroke="#666" stroke-width="0.6" />
<text x="131.40" y="171.60" font-size="4.2" text-anchor="end" font-weight="bold" fill="#222"  stroke="#222" stroke-width="0.147">20</text>
<line x1="132.20" y1="160.90" x2="134.20" y2="160.90" stroke="#666" stroke-width="0.6" />
<text x="131.40" y="162.40" font-size="4.2" text-anchor="end" font-weight="bold" fill="#222"  stroke="#222" stroke-width="0.147">40</text>
<line x1="132.20" y1="151.70" x2="134.20" y2="151.70" stroke="#666" stroke-width="0.6" />
<text x="131.40" y="153.20" font-size="4.2" text-anchor="end" font-weight="bold" fill="#222"  stroke="#222" stroke-width="0.147">60</text>
<line x1="132.20" y1="142.50" x2="134.20" y2="142.50" stroke="#666" stroke-width="0.6" />
<text x="131.40" y="144.00" font-size="4.2" text-anchor="end" font-weight="bold" fill="#222"  stroke="#222" stroke-width="0.147">80</text>
<line x1="132.20" y1="133.30" x2="134.20" y2="133.30" stroke="#666" stroke-width="0.6" />
<text x="131.40" y="134.80" font-size="4.2" text-anchor="end" font-weight="bold" fill="#222"  stroke="#222" stroke-width="0.147">100</text>
<line x1="132.20" y1="124.10" x2="134.20" y2="124.10" stroke="#666" stroke-width="0.6" />
<text x="131.40" y="125.60" font-size="4.2" text-anchor="end" font-weight="bold" fill="#222"  stroke="#222" stroke-width="0.147">120</text>
<text x="123.30" y="153.70" font-size="5.0" text-anchor="middle" fill="#111" transform="rotate(-90 123.30 153.70)"  stroke="#111" stroke-width="0.100">% of cells</text>
<text x="171.50" y="121.00" font-size="5.4" text-anchor="middle" font-weight="bold" fill="#000"  stroke="#000" stroke-width="0.189">Daudi</text>
<rect x="135.00" y="133.30" width="8.00" height="13.34" fill="#ff0000" stroke="none" stroke-width="0"/>
<rect x="135.00" y="146.64" width="8.00" height="6.90" fill="#0a7d0a" stroke="none" stroke-width="0"/>
<rect x="135.00" y="153.54" width="8.00" height="21.76" fill="#fff" stroke="none" stroke-width="0"/>
<rect x="135.00" y="175.30" width="8.00" height="4.00" fill="#0010f0" stroke="none" stroke-width="0"/>
<rect x="135.00" y="133.30" width="8.00" height="46.00" fill="none" stroke="#555" stroke-width="0.6"/>
<line x1="139.00" y1="179.30" x2="139.00" y2="181.10" stroke="#666" stroke-width="0.5" />
<line x1="137.70" y1="132.30" x2="140.30" y2="132.30" stroke="#222" stroke-width="0.5" />
<line x1="139.00" y1="132.30" x2="139.00" y2="133.30" stroke="#222" stroke-width="0.5" />
<line x1="137.70" y1="174.10" x2="140.30" y2="174.10" stroke="#222" stroke-width="0.5" />
<line x1="139.00" y1="174.10" x2="139.00" y2="175.30" stroke="#222" stroke-width="0.5" />
<rect x="145.43" y="133.30" width="8.00" height="14.08" fill="#ff0000" stroke="none" stroke-width="0"/>
<rect x="145.43" y="147.38" width="8.00" height="6.90" fill="#0a7d0a" stroke="none" stroke-width="0"/>
<rect x="145.43" y="154.28" width="8.00" height="21.34" fill="#fff" stroke="none" stroke-width="0"/>
<rect x="145.43" y="175.62" width="8.00" height="3.68" fill="#0010f0" stroke="none" stroke-width="0"/>
<rect x="145.43" y="133.30" width="8.00" height="46.00" fill="none" stroke="#555" stroke-width="0.6"/>
<line x1="149.43" y1="179.30" x2="149.43" y2="181.10" stroke="#666" stroke-width="0.5" />
<line x1="148.13" y1="132.30" x2="150.73" y2="132.30" stroke="#222" stroke-width="0.5" />
<line x1="149.43" y1="132.30" x2="149.43" y2="133.30" stroke="#222" stroke-width="0.5" />
<line x1="148.13" y1="174.42" x2="150.73" y2="174.42" stroke="#222" stroke-width="0.5" />
<line x1="149.43" y1="174.42" x2="149.43" y2="175.62" stroke="#222" stroke-width="0.5" />
<rect x="155.86" y="133.30" width="8.00" height="14.72" fill="#ff0000" stroke="none" stroke-width="0"/>
<rect x="155.86" y="148.02" width="8.00" height="5.98" fill="#0a7d0a" stroke="none" stroke-width="0"/>
<rect x="155.86" y="154.00" width="8.00" height="21.30" fill="#fff" stroke="none" stroke-width="0"/>
<rect x="155.86" y="175.30" width="8.00" height="4.00" fill="#0010f0" stroke="none" stroke-width="0"/>
<rect x="155.86" y="133.30" width="8.00" height="46.00" fill="none" stroke="#555" stroke-width="0.6"/>
<line x1="159.86" y1="179.30" x2="159.86" y2="181.10" stroke="#666" stroke-width="0.5" />
<line x1="158.56" y1="132.30" x2="161.16" y2="132.30" stroke="#222" stroke-width="0.5" />
<line x1="159.86" y1="132.30" x2="159.86" y2="133.30" stroke="#222" stroke-width="0.5" />
<line x1="158.56" y1="174.10" x2="161.16" y2="174.10" stroke="#222" stroke-width="0.5" />
<line x1="159.86" y1="174.10" x2="159.86" y2="175.30" stroke="#222" stroke-width="0.5" />
<rect x="166.29" y="133.30" width="8.00" height="14.08" fill="#ff0000" stroke="none" stroke-width="0"/>
<rect x="166.29" y="147.38" width="8.00" height="6.16" fill="#0a7d0a" stroke="none" stroke-width="0"/>
<rect x="166.29" y="153.54" width="8.00" height="21.76" fill="#fff" stroke="none" stroke-width="0"/>
<rect x="166.29" y="175.30" width="8.00" height="4.00" fill="#0010f0" stroke="none" stroke-width="0"/>
<rect x="166.29" y="133.30" width="8.00" height="46.00" fill="none" stroke="#555" stroke-width="0.6"/>
<line x1="170.29" y1="179.30" x2="170.29" y2="181.10" stroke="#666" stroke-width="0.5" />
<line x1="168.99" y1="132.30" x2="171.59" y2="132.30" stroke="#222" stroke-width="0.5" />
<line x1="170.29" y1="132.30" x2="170.29" y2="133.30" stroke="#222" stroke-width="0.5" />
<line x1="168.99" y1="174.10" x2="171.59" y2="174.10" stroke="#222" stroke-width="0.5" />
<line x1="170.29" y1="174.10" x2="170.29" y2="175.30" stroke="#222" stroke-width="0.5" />
<rect x="176.72" y="133.30" width="8.00" height="11.96" fill="#ff0000" stroke="none" stroke-width="0"/>
<rect x="176.72" y="145.26" width="8.00" height="6.44" fill="#0a7d0a" stroke="none" stroke-width="0"/>
<rect x="176.72" y="151.70" width="8.00" height="23.00" fill="#fff" stroke="none" stroke-width="0"/>
<rect x="176.72" y="174.70" width="8.00" height="4.60" fill="#0010f0" stroke="none" stroke-width="0"/>
<rect x="176.72" y="133.30" width="8.00" height="46.00" fill="none" stroke="#555" stroke-width="0.6"/>
<line x1="180.72" y1="179.30" x2="180.72" y2="181.10" stroke="#666" stroke-width="0.5" />
<line x1="179.42" y1="132.30" x2="182.02" y2="132.30" stroke="#222" stroke-width="0.5" />
<line x1="180.72" y1="132.30" x2="180.72" y2="133.30" stroke="#222" stroke-width="0.5" />
<line x1="179.42" y1="173.50" x2="182.02" y2="173.50" stroke="#222" stroke-width="0.5" />
<line x1="180.72" y1="173.50" x2="180.72" y2="174.70" stroke="#222" stroke-width="0.5" />
<rect x="187.15" y="133.30" width="8.00" height="13.34" fill="#ff0000" stroke="none" stroke-width="0"/>
<rect x="187.15" y="146.64" width="8.00" height="6.21" fill="#0a7d0a" stroke="none" stroke-width="0"/>
<rect x="187.15" y="152.85" width="8.00" height="22.45" fill="#fff" stroke="none" stroke-width="0"/>
<rect x="187.15" y="175.30" width="8.00" height="4.00" fill="#0010f0" stroke="none" stroke-width="0"/>
<rect x="187.15" y="133.30" width="8.00" height="46.00" fill="none" stroke="#555" stroke-width="0.6"/>
<line x1="191.15" y1="179.30" x2="191.15" y2="181.10" stroke="#666" stroke-width="0.5" />
<line x1="189.85" y1="132.30" x2="192.45" y2="132.30" stroke="#222" stroke-width="0.5" />
<line x1="191.15" y1="132.30" x2="191.15" y2="133.30" stroke="#222" stroke-width="0.5" />
<line x1="189.85" y1="174.10" x2="192.45" y2="174.10" stroke="#222" stroke-width="0.5" />
<line x1="191.15" y1="174.10" x2="191.15" y2="175.30" stroke="#222" stroke-width="0.5" />
<rect x="197.58" y="133.30" width="8.00" height="13.34" fill="#ff0000" stroke="none" stroke-width="0"/>
<rect x="197.58" y="146.64" width="8.00" height="5.52" fill="#0a7d0a" stroke="none" stroke-width="0"/>
<rect x="197.58" y="152.16" width="8.00" height="22.54" fill="#fff" stroke="none" stroke-width="0"/>
<rect x="197.58" y="174.70" width="8.00" height="4.60" fill="#0010f0" stroke="none" stroke-width="0"/>
<rect x="197.58" y="133.30" width="8.00" height="46.00" fill="none" stroke="#555" stroke-width="0.6"/>
<line x1="201.58" y1="179.30" x2="201.58" y2="181.10" stroke="#666" stroke-width="0.5" />
<line x1="200.28" y1="132.30" x2="202.88" y2="132.30" stroke="#222" stroke-width="0.5" />
<line x1="201.58" y1="132.30" x2="201.58" y2="133.30" stroke="#222" stroke-width="0.5" />
<line x1="200.28" y1="173.50" x2="202.88" y2="173.50" stroke="#222" stroke-width="0.5" />
<line x1="201.58" y1="173.50" x2="201.58" y2="174.70" stroke="#222" stroke-width="0.5" />
<rect x="208.01" y="133.30" width="8.00" height="12.60" fill="#ff0000" stroke="none" stroke-width="0"/>
<rect x="208.01" y="145.90" width="8.00" height="6.26" fill="#0a7d0a" stroke="none" stroke-width="0"/>
<rect x="208.01" y="152.16" width="8.00" height="23.00" fill="#fff" stroke="none" stroke-width="0"/>
<rect x="208.01" y="175.16" width="8.00" height="4.14" fill="#0010f0" stroke="none" stroke-width="0"/>
<rect x="208.01" y="133.30" width="8.00" height="46.00" fill="none" stroke="#555" stroke-width="0.6"/>
<line x1="212.01" y1="179.30" x2="212.01" y2="181.10" stroke="#666" stroke-width="0.5" />
<line x1="210.71" y1="132.30" x2="213.31" y2="132.30" stroke="#222" stroke-width="0.5" />
<line x1="212.01" y1="132.30" x2="212.01" y2="133.30" stroke="#222" stroke-width="0.5" />
<line x1="210.71" y1="173.96" x2="213.31" y2="173.96" stroke="#222" stroke-width="0.5" />
<line x1="212.01" y1="173.96" x2="212.01" y2="175.16" stroke="#222" stroke-width="0.5" />
<text x="140.10" y="187.70" font-size="4.0" text-anchor="end" font-weight="bold" fill="#111" transform="rotate(-45 140.10 187.70)" stroke="#111" stroke-width="0.12">Vehicle</text>
<text x="150.53" y="187.70" font-size="4.0" text-anchor="end" font-weight="bold" fill="#111" transform="rotate(-45 150.53 187.70)" stroke="#111" stroke-width="0.12">c12G1</text>
<text x="160.96" y="187.70" font-size="4.0" text-anchor="end" font-weight="bold" fill="#111" transform="rotate(-45 160.96 187.70)" stroke="#111" stroke-width="0.12">IgG-DM1</text>
<text x="171.39" y="187.70" font-size="4.0" text-anchor="end" font-weight="bold" fill="#111" transform="rotate(-45 171.39 187.70)" stroke="#111" stroke-width="0.12">c12G1-DM1</text>
<text x="181.82" y="187.70" font-size="4.0" text-anchor="end" font-weight="bold" fill="#111" transform="rotate(-45 181.82 187.70)" stroke="#111" stroke-width="0.12">Vehicle</text>
<text x="192.25" y="187.70" font-size="4.0" text-anchor="end" font-weight="bold" fill="#111" transform="rotate(-45 192.25 187.70)" stroke="#111" stroke-width="0.12">c12G1</text>
<text x="202.68" y="187.70" font-size="4.0" text-anchor="end" font-weight="bold" fill="#111" transform="rotate(-45 202.68 187.70)" stroke="#111" stroke-width="0.12">IgG-DM1</text>
<text x="213.11" y="187.70" font-size="4.0" text-anchor="end" font-weight="bold" fill="#111" transform="rotate(-45 213.11 187.70)" stroke="#111" stroke-width="0.12">c12G1-DM1</text>
<line x1="136.80" y1="204.50" x2="173.09" y2="204.50" stroke="#555" stroke-width="1.0" />
<line x1="178.72" y1="204.50" x2="214.81" y2="204.50" stroke="#555" stroke-width="1.0" />
<text x="155.65" y="210.20" font-size="5.0" text-anchor="middle" font-weight="bold" fill="#111"  stroke="#111" stroke-width="0.175">24 h</text>
<text x="197.37" y="210.20" font-size="5.0" text-anchor="middle" font-weight="bold" fill="#111"  stroke="#111" stroke-width="0.175">48 h</text>
<text x="4.20" y="11.00" font-size="8.6" text-anchor="start" font-weight="bold" fill="#000" stroke="#000" stroke-width="0.35">A)</text>
<rect x="225.3" y="29.40" width="7.3" height="4.4" fill="#0010f0" stroke="none" stroke-width="0.5"/>
<text x="236.50" y="33.60" font-size="5.9" text-anchor="start" fill="#222"  stroke="#222" stroke-width="0.118">Sub G1</text>
<rect x="225.3" y="36.20" width="7.3" height="4.4" fill="#fff" stroke="#777" stroke-width="0.5"/>
<text x="236.50" y="40.40" font-size="5.9" text-anchor="start" fill="#222"  stroke="#222" stroke-width="0.118">G0/G1</text>
<rect x="225.3" y="43.40" width="7.3" height="4.4" fill="#0a7d0a" stroke="none" stroke-width="0.5"/>
<text x="236.50" y="47.60" font-size="5.9" text-anchor="start" fill="#222"  stroke="#222" stroke-width="0.118">S</text>
<rect x="225.3" y="50.60" width="7.3" height="4.4" fill="#ff0000" stroke="none" stroke-width="0.5"/>
<text x="236.50" y="54.80" font-size="5.9" text-anchor="start" fill="#222"  stroke="#222" stroke-width="0.118">G2/M</text>
<text x="274.70" y="10.60" font-size="8.8" text-anchor="start" font-weight="bold" fill="#000" stroke="#000" stroke-width="0.35">B)</text>
<line x1="288.60" y1="29.80" x2="288.60" y2="92.30" stroke="#666" stroke-width="0.8" />
<line x1="288.60" y1="92.30" x2="383.00" y2="92.30" stroke="#666" stroke-width="0.8" />
<line x1="286.60" y1="92.30" x2="288.60" y2="92.30" stroke="#666" stroke-width="0.6" />
<text x="285.80" y="93.90" font-size="4.5" text-anchor="end" font-weight="bold" fill="#222"  stroke="#222" stroke-width="0.158">0</text>
<line x1="286.60" y1="81.88" x2="288.60" y2="81.88" stroke="#666" stroke-width="0.6" />
<text x="285.80" y="83.48" font-size="4.5" text-anchor="end" font-weight="bold" fill="#222"  stroke="#222" stroke-width="0.158">20</text>
<line x1="286.60" y1="71.47" x2="288.60" y2="71.47" stroke="#666" stroke-width="0.6" />
<text x="285.80" y="73.07" font-size="4.5" text-anchor="end" font-weight="bold" fill="#222"  stroke="#222" stroke-width="0.158">40</text>
<line x1="286.60" y1="61.05" x2="288.60" y2="61.05" stroke="#666" stroke-width="0.6" />
<text x="285.80" y="62.65" font-size="4.5" text-anchor="end" font-weight="bold" fill="#222"  stroke="#222" stroke-width="0.158">60</text>
<line x1="286.60" y1="50.64" x2="288.60" y2="50.64" stroke="#666" stroke-width="0.6" />
<text x="285.80" y="52.24" font-size="4.5" text-anchor="end" font-weight="bold" fill="#222"  stroke="#222" stroke-width="0.158">80</text>
<line x1="286.60" y1="40.22" x2="288.60" y2="40.22" stroke="#666" stroke-width="0.6" />
<text x="285.80" y="41.82" font-size="4.5" text-anchor="end" font-weight="bold" fill="#222"  stroke="#222" stroke-width="0.158">100</text>
<line x1="286.60" y1="29.80" x2="288.60" y2="29.80" stroke="#666" stroke-width="0.6" />
<text x="285.80" y="31.40" font-size="4.5" text-anchor="end" font-weight="bold" fill="#222"  stroke="#222" stroke-width="0.158">120</text>
<line x1="291.88" y1="92.30" x2="291.88" y2="93.40" stroke="#666" stroke-width="0.45" />
<line x1="296.19" y1="92.30" x2="296.19" y2="93.40" stroke="#666" stroke-width="0.45" />
<line x1="299.25" y1="92.30" x2="299.25" y2="93.40" stroke="#666" stroke-width="0.45" />
<line x1="301.62" y1="92.30" x2="301.62" y2="93.40" stroke="#666" stroke-width="0.45" />
<line x1="303.56" y1="92.30" x2="303.56" y2="93.40" stroke="#666" stroke-width="0.45" />
<line x1="305.20" y1="92.30" x2="305.20" y2="93.40" stroke="#666" stroke-width="0.45" />
<line x1="306.63" y1="92.30" x2="306.63" y2="93.40" stroke="#666" stroke-width="0.45" />
<line x1="307.88" y1="92.30" x2="307.88" y2="93.40" stroke="#666" stroke-width="0.45" />
<line x1="309.00" y1="92.30" x2="309.00" y2="94.30" stroke="#666" stroke-width="0.45" />
<line x1="316.38" y1="92.30" x2="316.38" y2="93.40" stroke="#666" stroke-width="0.45" />
<line x1="320.69" y1="92.30" x2="320.69" y2="93.40" stroke="#666" stroke-width="0.45" />
<line x1="323.75" y1="92.30" x2="323.75" y2="93.40" stroke="#666" stroke-width="0.45" />
<line x1="326.12" y1="92.30" x2="326.12" y2="93.40" stroke="#666" stroke-width="0.45" />
<line x1="328.06" y1="92.30" x2="328.06" y2="93.40" stroke="#666" stroke-width="0.45" />
<line x1="329.70" y1="92.30" x2="329.70" y2="93.40" stroke="#666" stroke-width="0.45" />
<line x1="331.13" y1="92.30" x2="331.13" y2="93.40" stroke="#666" stroke-width="0.45" />
<line x1="332.38" y1="92.30" x2="332.38" y2="93.40" stroke="#666" stroke-width="0.45" />
<line x1="333.50" y1="92.30" x2="333.50" y2="94.30" stroke="#666" stroke-width="0.45" />
<line x1="340.88" y1="92.30" x2="340.88" y2="93.40" stroke="#666" stroke-width="0.45" />
<line x1="345.19" y1="92.30" x2="345.19" y2="93.40" stroke="#666" stroke-width="0.45" />
<line x1="348.25" y1="92.30" x2="348.25" y2="93.40" stroke="#666" stroke-width="0.45" />
<line x1="350.62" y1="92.30" x2="350.62" y2="93.40" stroke="#666" stroke-width="0.45" />
<line x1="352.56" y1="92.30" x2="352.56" y2="93.40" stroke="#666" stroke-width="0.45" />
<line x1="354.20" y1="92.30" x2="354.20" y2="93.40" stroke="#666" stroke-width="0.45" />
<line x1="355.63" y1="92.30" x2="355.63" y2="93.40" stroke="#666" stroke-width="0.45" />
<line x1="356.88" y1="92.30" x2="356.88" y2="93.40" stroke="#666" stroke-width="0.45" />
<line x1="358.00" y1="92.30" x2="358.00" y2="94.30" stroke="#666" stroke-width="0.45" />
<line x1="365.38" y1="92.30" x2="365.38" y2="93.40" stroke="#666" stroke-width="0.45" />
<line x1="369.69" y1="92.30" x2="369.69" y2="93.40" stroke="#666" stroke-width="0.45" />
<line x1="372.75" y1="92.30" x2="372.75" y2="93.40" stroke="#666" stroke-width="0.45" />
<line x1="375.12" y1="92.30" x2="375.12" y2="93.40" stroke="#666" stroke-width="0.45" />
<line x1="377.06" y1="92.30" x2="377.06" y2="93.40" stroke="#666" stroke-width="0.45" />
<line x1="378.70" y1="92.30" x2="378.70" y2="93.40" stroke="#666" stroke-width="0.45" />
<line x1="380.13" y1="92.30" x2="380.13" y2="93.40" stroke="#666" stroke-width="0.45" />
<line x1="381.38" y1="92.30" x2="381.38" y2="93.40" stroke="#666" stroke-width="0.45" />
<line x1="382.50" y1="92.30" x2="382.50" y2="94.30" stroke="#666" stroke-width="0.45" />
<text x="308.20" y="99.60" font-size="4.2" text-anchor="middle" font-weight="bold" fill="#111" stroke="#111" stroke-width="0.12">10<tspan dy="-1.8" font-size="3.0">-1</tspan></text>
<text x="332.70" y="99.60" font-size="4.2" text-anchor="middle" font-weight="bold" fill="#111" stroke="#111" stroke-width="0.12">10<tspan dy="-1.8" font-size="3.0">0</tspan></text>
<text x="357.20" y="99.60" font-size="4.2" text-anchor="middle" font-weight="bold" fill="#111" stroke="#111" stroke-width="0.12">10<tspan dy="-1.8" font-size="3.0">1</tspan></text>
<text x="381.70" y="99.60" font-size="4.2" text-anchor="middle" font-weight="bold" fill="#111" stroke="#111" stroke-width="0.12">10<tspan dy="-1.8" font-size="3.0">2</tspan></text>
<text x="274.40" y="62.85" font-size="6.0" text-anchor="middle" fill="#111" transform="rotate(-90 274.40 62.85)"  stroke="#111" stroke-width="0.120">% of control</text>
<text x="335.60" y="27.00" font-size="5.9" text-anchor="middle" font-weight="bold" fill="#000"  stroke="#000" stroke-width="0.207">OV-90</text>
<text x="335.30" y="105.60" font-size="5.4" text-anchor="middle" font-weight="bold" fill="#111"  stroke="#111" stroke-width="0.189">Conc. (μg/ml)</text>
<line x1="290.10" y1="84.00" x2="383.00" y2="84.00" stroke="#111" stroke-width="0.55" stroke-dasharray="0.7 1.0"/>
<text x="291.80" y="82.30" font-size="4.35" text-anchor="start" fill="#222"  stroke="#222" stroke-width="0.087">Seeding</text>
<polyline points="288.60,39.96 289.47,39.96 290.34,39.96 291.21,39.96 292.07,39.96 292.94,39.96 293.81,39.96 294.68,39.96 295.55,39.96 296.42,39.96 297.29,39.96 298.15,39.96 299.02,39.96 299.89,39.96 300.76,39.96 301.63,39.96 302.50,39.96 303.37,39.96 304.23,39.96 305.10,39.96 305.97,39.96 306.84,39.96 307.71,39.96 308.58,39.96 309.44,39.96 310.31,39.96 311.18,39.96 312.05,39.96 312.92,39.96 313.79,39.96 314.66,39.96 315.52,39.96 316.39,39.96 317.26,39.96 318.13,39.96 319.00,39.96 319.87,39.96 320.74,39.96 321.60,39.96 322.47,39.96 323.34,39.96 324.21,39.96 325.08,39.96 325.95,39.96 326.82,39.96 327.68,39.96 328.55,39.97 329.42,39.97 330.29,39.97 331.16,39.97 332.03,39.97 332.90,39.97 333.76,39.97 334.63,39.98 335.50,39.98 336.37,39.98 337.24,39.99 338.11,39.99 338.98,40.00 339.84,40.00 340.71,40.01 341.58,40.02 342.45,40.03 343.32,40.04 344.19,40.05 345.06,40.07 345.92,40.09 346.79,40.11 347.66,40.13 348.53,40.16 349.40,40.20 350.27,40.24 351.13,40.29 352.00,40.34 352.87,40.41 353.74,40.48 354.61,40.57 355.48,40.68 356.35,40.80 357.21,40.94 358.08,41.10 358.95,41.29 359.82,41.51 360.69,41.77 361.56,42.07 362.43,42.41 363.29,42.81 364.16,43.26 365.03,43.79 365.90,44.39" fill="none" stroke="#555" stroke-width="0.6"/>
<polyline points="288.60,40.22 289.03,40.22 289.46,40.22 289.90,40.22 290.33,40.22 290.76,40.22 291.19,40.22 291.62,40.22 292.05,40.22 292.49,40.22 292.92,40.22 293.35,40.22 293.78,40.22 294.21,40.22 294.65,40.22 295.08,40.22 295.51,40.22 295.94,40.22 296.37,40.22 296.81,40.22 297.24,40.22 297.67,40.22 298.10,40.23 298.53,40.23 298.96,40.23 299.40,40.23 299.83,40.24 300.26,40.24 300.69,40.25 301.12,40.26 301.56,40.28 301.99,40.30 302.42,40.33 302.85,40.36 303.28,40.41 303.71,40.48 304.15,40.56 304.58,40.67 305.01,40.83 305.44,41.03 305.87,41.29 306.31,41.64 306.74,42.10 307.17,42.70 307.60,43.47 308.03,44.44 308.46,45.67 308.90,47.17 309.33,48.98 309.76,51.09 310.19,53.48 310.62,56.09 311.06,58.82 311.49,61.56 311.92,64.20 312.35,66.64 312.78,68.81 313.22,70.68 313.65,72.25 314.08,73.53 314.51,74.55 314.94,75.36 315.37,75.99 315.81,76.47 316.24,76.84 316.67,77.12 317.10,77.33 317.53,77.50 317.97,77.62 318.40,77.71 318.83,77.78 319.26,77.83 319.69,77.86 320.12,77.89 320.56,77.91 320.99,77.93 321.42,77.94 321.85,77.95 322.28,77.96 322.72,77.96 323.15,77.97 323.58,77.97 324.01,77.97 324.44,77.97 324.87,77.97 325.31,77.98 325.74,77.98 326.17,77.98 326.60,77.98 327.03,77.98 327.47,77.98 327.90,77.98 328.33,77.98 328.76,77.98 329.19,77.98 329.63,77.98 330.06,77.98 330.49,77.98 330.92,77.98 331.35,77.98 331.78,77.98 332.22,77.98 332.65,77.98 333.08,77.98 333.51,77.98 333.94,77.98 334.38,77.98 334.81,77.98 335.24,77.98 335.67,77.98 336.10,77.98 336.53,77.98 336.97,77.98 337.40,77.98 337.83,77.98 338.26,77.98 338.69,77.98 339.13,77.98 339.56,77.98 339.99,77.98 340.42,77.98 340.85,77.98 341.28,77.98 341.72,77.98 342.15,77.98 342.58,77.98 343.01,77.98 343.44,77.98 343.88,77.98 344.31,77.98 344.74,77.98 345.17,77.98 345.60,77.98 346.04,77.98 346.47,77.98 346.90,77.98 347.33,77.98 347.76,77.98 348.19,77.98 348.63,77.98 349.06,77.98 349.49,77.98 349.92,77.98 350.35,77.98 350.79,77.98 351.22,77.98 351.65,77.98 352.08,77.98 352.51,77.98 352.94,77.98 353.38,77.98 353.81,77.98 354.24,77.98 354.67,77.98 355.10,77.98 355.54,77.98 355.97,77.98 356.40,77.98 356.83,77.98 357.26,77.98 357.69,77.98 358.13,77.98 358.56,77.98 358.99,77.98 359.42,77.98 359.85,77.98 360.29,77.98 360.72,77.98 361.15,77.98 361.58,77.98 362.01,77.98 362.45,77.98 362.88,77.98 363.31,77.98 363.74,77.98 364.17,77.98 364.60,77.98 365.04,77.98 365.47,77.98 365.90,77.98" fill="none" stroke="#ff0000" stroke-width="0.7"/>
<rect x="287.00" y="38.72" width="3.0" height="3.0" fill="#ff0000"/>
<rect x="295.60" y="38.72" width="3.0" height="3.0" fill="#ff0000"/>
<rect x="304.20" y="38.72" width="3.0" height="3.0" fill="#ff0000"/>
<line x1="314.30" y1="70.95" x2="314.30" y2="74.07" stroke="#ff0000" stroke-width="0.5" />
<line x1="313.20" y1="70.95" x2="315.40" y2="70.95" stroke="#ff0000" stroke-width="0.5" />
<line x1="313.20" y1="74.07" x2="315.40" y2="74.07" stroke="#ff0000" stroke-width="0.5" />
<rect x="312.80" y="71.01" width="3.0" height="3.0" fill="#ff0000"/>
<line x1="322.90" y1="76.16" x2="322.90" y2="79.28" stroke="#ff0000" stroke-width="0.5" />
<line x1="321.80" y1="76.16" x2="324.00" y2="76.16" stroke="#ff0000" stroke-width="0.5" />
<line x1="321.80" y1="79.28" x2="324.00" y2="79.28" stroke="#ff0000" stroke-width="0.5" />
<rect x="321.40" y="76.22" width="3.0" height="3.0" fill="#ff0000"/>
<line x1="331.50" y1="75.63" x2="331.50" y2="79.80" stroke="#ff0000" stroke-width="0.5" />
<line x1="330.40" y1="75.63" x2="332.60" y2="75.63" stroke="#ff0000" stroke-width="0.5" />
<line x1="330.40" y1="79.80" x2="332.60" y2="79.80" stroke="#ff0000" stroke-width="0.5" />
<rect x="330.00" y="76.22" width="3.0" height="3.0" fill="#ff0000"/>
<line x1="340.10" y1="75.37" x2="340.10" y2="80.58" stroke="#ff0000" stroke-width="0.5" />
<line x1="339.00" y1="75.37" x2="341.20" y2="75.37" stroke="#ff0000" stroke-width="0.5" />
<line x1="339.00" y1="80.58" x2="341.20" y2="80.58" stroke="#ff0000" stroke-width="0.5" />
<rect x="338.60" y="76.48" width="3.0" height="3.0" fill="#ff0000"/>
<line x1="348.70" y1="75.37" x2="348.70" y2="80.58" stroke="#ff0000" stroke-width="0.5" />
<line x1="347.60" y1="75.37" x2="349.80" y2="75.37" stroke="#ff0000" stroke-width="0.5" />
<line x1="347.60" y1="80.58" x2="349.80" y2="80.58" stroke="#ff0000" stroke-width="0.5" />
<rect x="347.20" y="76.48" width="3.0" height="3.0" fill="#ff0000"/>
<line x1="357.30" y1="76.31" x2="357.30" y2="80.48" stroke="#ff0000" stroke-width="0.5" />
<line x1="356.20" y1="76.31" x2="358.40" y2="76.31" stroke="#ff0000" stroke-width="0.5" />
<line x1="356.20" y1="80.48" x2="358.40" y2="80.48" stroke="#ff0000" stroke-width="0.5" />
<rect x="355.80" y="76.89" width="3.0" height="3.0" fill="#ff0000"/>
<line x1="365.90" y1="78.34" x2="365.90" y2="81.47" stroke="#ff0000" stroke-width="0.5" />
<line x1="364.80" y1="78.34" x2="367.00" y2="78.34" stroke="#ff0000" stroke-width="0.5" />
<line x1="364.80" y1="81.47" x2="367.00" y2="81.47" stroke="#ff0000" stroke-width="0.5" />
<rect x="364.40" y="78.40" width="3.0" height="3.0" fill="#ff0000"/>
<circle cx="288.50" cy="40.22" r="1.55" fill="#000"/>
<line x1="297.10" y1="37.10" x2="297.10" y2="39.18" stroke="#000" stroke-width="0.5" />
<line x1="296.00" y1="37.10" x2="298.20" y2="37.10" stroke="#000" stroke-width="0.5" />
<line x1="296.00" y1="39.18" x2="298.20" y2="39.18" stroke="#000" stroke-width="0.5" />
<circle cx="297.10" cy="38.14" r="1.55" fill="#000"/>
<circle cx="305.70" cy="40.22" r="1.55" fill="#000"/>
<line x1="314.30" y1="37.10" x2="314.30" y2="40.22" stroke="#000" stroke-width="0.5" />
<line x1="313.20" y1="37.10" x2="315.40" y2="37.10" stroke="#000" stroke-width="0.5" />
<line x1="313.20" y1="40.22" x2="315.40" y2="40.22" stroke="#000" stroke-width="0.5" />
<circle cx="314.30" cy="38.66" r="1.55" fill="#000"/>
<circle cx="322.90" cy="40.22" r="1.55" fill="#000"/>
<circle cx="331.50" cy="39.18" r="1.55" fill="#000"/>
<circle cx="340.10" cy="40.22" r="1.55" fill="#000"/>
<circle cx="348.70" cy="40.22" r="1.55" fill="#000"/>
<line x1="357.30" y1="39.18" x2="357.30" y2="42.30" stroke="#000" stroke-width="0.5" />
<line x1="356.20" y1="39.18" x2="358.40" y2="39.18" stroke="#000" stroke-width="0.5" />
<line x1="356.20" y1="42.30" x2="358.40" y2="42.30" stroke="#000" stroke-width="0.5" />
<circle cx="357.30" cy="40.74" r="1.55" fill="#000"/>
<line x1="365.90" y1="41.78" x2="365.90" y2="45.95" stroke="#000" stroke-width="0.5" />
<line x1="364.80" y1="41.78" x2="367.00" y2="41.78" stroke="#000" stroke-width="0.5" />
<line x1="364.80" y1="45.95" x2="367.00" y2="45.95" stroke="#000" stroke-width="0.5" />
<circle cx="365.90" cy="43.87" r="1.55" fill="#000"/>
<line x1="416.20" y1="29.30" x2="416.20" y2="91.40" stroke="#666" stroke-width="0.8" />
<line x1="416.20" y1="91.40" x2="510.30" y2="91.40" stroke="#666" stroke-width="0.8" />
<line x1="414.20" y1="91.40" x2="416.20" y2="91.40" stroke="#666" stroke-width="0.6" />
<text x="413.40" y="93.00" font-size="4.5" text-anchor="end" font-weight="bold" fill="#222"  stroke="#222" stroke-width="0.158">0</text>
<line x1="414.20" y1="81.05" x2="416.20" y2="81.05" stroke="#666" stroke-width="0.6" />
<text x="413.40" y="82.65" font-size="4.5" text-anchor="end" font-weight="bold" fill="#222"  stroke="#222" stroke-width="0.158">20</text>
<line x1="414.20" y1="70.70" x2="416.20" y2="70.70" stroke="#666" stroke-width="0.6" />
<text x="413.40" y="72.30" font-size="4.5" text-anchor="end" font-weight="bold" fill="#222"  stroke="#222" stroke-width="0.158">40</text>
<line x1="414.20" y1="60.35" x2="416.20" y2="60.35" stroke="#666" stroke-width="0.6" />
<text x="413.40" y="61.95" font-size="4.5" text-anchor="end" font-weight="bold" fill="#222"  stroke="#222" stroke-width="0.158">60</text>
<line x1="414.20" y1="50.00" x2="416.20" y2="50.00" stroke="#666" stroke-width="0.6" />
<text x="413.40" y="51.60" font-size="4.5" text-anchor="end" font-weight="bold" fill="#222"  stroke="#222" stroke-width="0.158">80</text>
<line x1="414.20" y1="39.65" x2="416.20" y2="39.65" stroke="#666" stroke-width="0.6" />
<text x="413.40" y="41.25" font-size="4.5" text-anchor="end" font-weight="bold" fill="#222"  stroke="#222" stroke-width="0.158">100</text>
<line x1="414.20" y1="29.30" x2="416.20" y2="29.30" stroke="#666" stroke-width="0.6" />
<text x="413.40" y="30.90" font-size="4.5" text-anchor="end" font-weight="bold" fill="#222"  stroke="#222" stroke-width="0.158">120</text>
<line x1="419.92" y1="91.40" x2="419.92" y2="92.50" stroke="#666" stroke-width="0.45" />
<line x1="424.19" y1="91.40" x2="424.19" y2="92.50" stroke="#666" stroke-width="0.45" />
<line x1="427.23" y1="91.40" x2="427.23" y2="92.50" stroke="#666" stroke-width="0.45" />
<line x1="429.58" y1="91.40" x2="429.58" y2="92.50" stroke="#666" stroke-width="0.45" />
<line x1="431.51" y1="91.40" x2="431.51" y2="92.50" stroke="#666" stroke-width="0.45" />
<line x1="433.14" y1="91.40" x2="433.14" y2="92.50" stroke="#666" stroke-width="0.45" />
<line x1="434.55" y1="91.40" x2="434.55" y2="92.50" stroke="#666" stroke-width="0.45" />
<line x1="435.79" y1="91.40" x2="435.79" y2="92.50" stroke="#666" stroke-width="0.45" />
<line x1="436.90" y1="91.40" x2="436.90" y2="93.40" stroke="#666" stroke-width="0.45" />
<line x1="444.22" y1="91.40" x2="444.22" y2="92.50" stroke="#666" stroke-width="0.45" />
<line x1="448.49" y1="91.40" x2="448.49" y2="92.50" stroke="#666" stroke-width="0.45" />
<line x1="451.53" y1="91.40" x2="451.53" y2="92.50" stroke="#666" stroke-width="0.45" />
<line x1="453.88" y1="91.40" x2="453.88" y2="92.50" stroke="#666" stroke-width="0.45" />
<line x1="455.81" y1="91.40" x2="455.81" y2="92.50" stroke="#666" stroke-width="0.45" />
<line x1="457.44" y1="91.40" x2="457.44" y2="92.50" stroke="#666" stroke-width="0.45" />
<line x1="458.85" y1="91.40" x2="458.85" y2="92.50" stroke="#666" stroke-width="0.45" />
<line x1="460.09" y1="91.40" x2="460.09" y2="92.50" stroke="#666" stroke-width="0.45" />
<line x1="461.20" y1="91.40" x2="461.20" y2="93.40" stroke="#666" stroke-width="0.45" />
<line x1="468.52" y1="91.40" x2="468.52" y2="92.50" stroke="#666" stroke-width="0.45" />
<line x1="472.79" y1="91.40" x2="472.79" y2="92.50" stroke="#666" stroke-width="0.45" />
<line x1="475.83" y1="91.40" x2="475.83" y2="92.50" stroke="#666" stroke-width="0.45" />
<line x1="478.18" y1="91.40" x2="478.18" y2="92.50" stroke="#666" stroke-width="0.45" />
<line x1="480.11" y1="91.40" x2="480.11" y2="92.50" stroke="#666" stroke-width="0.45" />
<line x1="481.74" y1="91.40" x2="481.74" y2="92.50" stroke="#666" stroke-width="0.45" />
<line x1="483.15" y1="91.40" x2="483.15" y2="92.50" stroke="#666" stroke-width="0.45" />
<line x1="484.39" y1="91.40" x2="484.39" y2="92.50" stroke="#666" stroke-width="0.45" />
<line x1="485.50" y1="91.40" x2="485.50" y2="93.40" stroke="#666" stroke-width="0.45" />
<line x1="492.82" y1="91.40" x2="492.82" y2="92.50" stroke="#666" stroke-width="0.45" />
<line x1="497.09" y1="91.40" x2="497.09" y2="92.50" stroke="#666" stroke-width="0.45" />
<line x1="500.13" y1="91.40" x2="500.13" y2="92.50" stroke="#666" stroke-width="0.45" />
<line x1="502.48" y1="91.40" x2="502.48" y2="92.50" stroke="#666" stroke-width="0.45" />
<line x1="504.41" y1="91.40" x2="504.41" y2="92.50" stroke="#666" stroke-width="0.45" />
<line x1="506.04" y1="91.40" x2="506.04" y2="92.50" stroke="#666" stroke-width="0.45" />
<line x1="507.45" y1="91.40" x2="507.45" y2="92.50" stroke="#666" stroke-width="0.45" />
<line x1="508.69" y1="91.40" x2="508.69" y2="92.50" stroke="#666" stroke-width="0.45" />
<line x1="509.80" y1="91.40" x2="509.80" y2="93.40" stroke="#666" stroke-width="0.45" />
<text x="436.10" y="98.70" font-size="4.2" text-anchor="middle" font-weight="bold" fill="#111" stroke="#111" stroke-width="0.12">10<tspan dy="-1.8" font-size="3.0">-1</tspan></text>
<text x="460.40" y="98.70" font-size="4.2" text-anchor="middle" font-weight="bold" fill="#111" stroke="#111" stroke-width="0.12">10<tspan dy="-1.8" font-size="3.0">0</tspan></text>
<text x="484.70" y="98.70" font-size="4.2" text-anchor="middle" font-weight="bold" fill="#111" stroke="#111" stroke-width="0.12">10<tspan dy="-1.8" font-size="3.0">1</tspan></text>
<text x="509.00" y="98.70" font-size="4.2" text-anchor="middle" font-weight="bold" fill="#111" stroke="#111" stroke-width="0.12">10<tspan dy="-1.8" font-size="3.0">2</tspan></text>
<text x="402.00" y="62.15" font-size="6.0" text-anchor="middle" fill="#111" transform="rotate(-90 402.00 62.15)"  stroke="#111" stroke-width="0.120">% of control</text>
<text x="463.00" y="27.00" font-size="5.9" text-anchor="middle" font-weight="bold" fill="#000"  stroke="#000" stroke-width="0.207">SK-OV-3</text>
<text x="462.75" y="104.70" font-size="5.4" text-anchor="middle" font-weight="bold" fill="#111"  stroke="#111" stroke-width="0.189">Conc. (μg/ml)</text>
<line x1="417.70" y1="86.11" x2="510.30" y2="86.11" stroke="#111" stroke-width="0.55" stroke-dasharray="0.7 1.0"/>
<text x="419.40" y="84.41" font-size="4.35" text-anchor="start" fill="#222"  stroke="#222" stroke-width="0.087">Seeding</text>
<polyline points="416.20,39.65 417.06,39.65 417.93,39.65 418.79,39.65 419.65,39.65 420.52,39.65 421.38,39.65 422.25,39.65 423.11,39.65 423.97,39.65 424.84,39.65 425.70,39.65 426.56,39.65 427.43,39.65 428.29,39.65 429.15,39.65 430.02,39.65 430.88,39.65 431.74,39.65 432.61,39.65 433.47,39.65 434.34,39.65 435.20,39.65 436.06,39.65 436.93,39.65 437.79,39.65 438.65,39.65 439.52,39.65 440.38,39.65 441.24,39.65 442.11,39.65 442.97,39.65 443.84,39.65 444.70,39.65 445.56,39.66 446.43,39.66 447.29,39.66 448.15,39.66 449.02,39.66 449.88,39.66 450.74,39.66 451.61,39.66 452.47,39.66 453.33,39.67 454.20,39.67 455.06,39.67 455.93,39.67 456.79,39.68 457.65,39.68 458.52,39.68 459.38,39.69 460.24,39.69 461.11,39.70 461.97,39.70 462.83,39.71 463.70,39.72 464.56,39.73 465.42,39.74 466.29,39.75 467.15,39.76 468.02,39.78 468.88,39.80 469.74,39.81 470.61,39.84 471.47,39.86 472.33,39.89 473.20,39.92 474.06,39.95 474.92,39.99 475.79,40.04 476.65,40.09 477.52,40.14 478.38,40.21 479.24,40.28 480.11,40.36 480.97,40.46 481.83,40.56 482.70,40.68 483.56,40.81 484.42,40.96 485.29,41.12 486.15,41.31 487.01,41.52 487.88,41.76 488.74,42.02 489.61,42.31 490.47,42.64 491.33,43.01 492.20,43.42 493.06,43.88" fill="none" stroke="#555" stroke-width="0.6"/>
<polyline points="416.20,38.62 416.63,38.63 417.06,38.63 417.49,38.63 417.92,38.63 418.35,38.63 418.78,38.63 419.21,38.63 419.64,38.63 420.06,38.63 420.49,38.64 420.92,38.64 421.35,38.64 421.78,38.64 422.21,38.64 422.64,38.65 423.07,38.65 423.50,38.65 423.93,38.65 424.36,38.66 424.79,38.66 425.22,38.66 425.65,38.67 426.08,38.67 426.51,38.68 426.93,38.68 427.36,38.69 427.79,38.69 428.22,38.70 428.65,38.71 429.08,38.71 429.51,38.72 429.94,38.73 430.37,38.74 430.80,38.75 431.23,38.76 431.66,38.77 432.09,38.79 432.52,38.80 432.95,38.82 433.38,38.83 433.80,38.85 434.23,38.87 434.66,38.89 435.09,38.91 435.52,38.93 435.95,38.96 436.38,38.99 436.81,39.02 437.24,39.05 437.67,39.09 438.10,39.12 438.53,39.16 438.96,39.21 439.39,39.26 439.82,39.31 440.25,39.36 440.67,39.42 441.10,39.49 441.53,39.55 441.96,39.63 442.39,39.71 442.82,39.80 443.25,39.89 443.68,39.99 444.11,40.10 444.54,40.21 444.97,40.34 445.40,40.47 445.83,40.61 446.26,40.77 446.69,40.93 447.12,41.11 447.55,41.30 447.97,41.50 448.40,41.72 448.83,41.95 449.26,42.20 449.69,42.46 450.12,42.74 450.55,43.04 450.98,43.36 451.41,43.70 451.84,44.06 452.27,44.44 452.70,44.84 453.13,45.27 453.56,45.72 453.99,46.19 454.42,46.69 454.84,47.21 455.27,47.75 455.70,48.32 456.13,48.92 456.56,49.54 456.99,50.18 457.42,50.84 457.85,51.53 458.28,52.24 458.71,52.97 459.14,53.71 459.57,54.47 460.00,55.25 460.43,56.04 460.86,56.84 461.29,57.65 461.71,58.46 462.14,59.28 462.57,60.10 463.00,60.91 463.43,61.72 463.86,62.53 464.29,63.33 464.72,64.11 465.15,64.89 465.58,65.64 466.01,66.38 466.44,67.11 466.87,67.81 467.30,68.49 467.73,69.15 468.16,69.78 468.59,70.40 469.01,70.98 469.44,71.55 469.87,72.09 470.30,72.60 470.73,73.09 471.16,73.56 471.59,74.00 472.02,74.42 472.45,74.81 472.88,75.19 473.31,75.54 473.74,75.88 474.17,76.19 474.60,76.48 475.03,76.76 475.46,77.02 475.88,77.26 476.31,77.49 476.74,77.70 477.17,77.90 477.60,78.09 478.03,78.26 478.46,78.42 478.89,78.58 479.32,78.72 479.75,78.85 480.18,78.97 480.61,79.08 481.04,79.19 481.47,79.29 481.90,79.38 482.33,79.46 482.75,79.54 483.18,79.61 483.61,79.68 484.04,79.74 484.47,79.80 484.90,79.86 485.33,79.91 485.76,79.95 486.19,79.99 486.62,80.03 487.05,80.07 487.48,80.11 487.91,80.14 488.34,80.17 488.77,80.19 489.20,80.22 489.62,80.24 490.05,80.26 490.48,80.28 490.91,80.30 491.34,80.32 491.77,80.34 492.20,80.35 492.63,80.36 493.06,80.38" fill="none" stroke="#ff0000" stroke-width="0.7"/>
<rect x="414.70" y="38.15" width="3.0" height="3.0" fill="#ff0000"/>
<line x1="424.74" y1="36.70" x2="424.74" y2="38.77" stroke="#ff0000" stroke-width="0.5" />
<line x1="423.64" y1="36.70" x2="425.84" y2="36.70" stroke="#ff0000" stroke-width="0.5" />
<line x1="423.64" y1="38.77" x2="425.84" y2="38.77" stroke="#ff0000" stroke-width="0.5" />
<rect x="423.24" y="36.24" width="3.0" height="3.0" fill="#ff0000"/>
<line x1="433.28" y1="35.67" x2="433.28" y2="39.81" stroke="#ff0000" stroke-width="0.5" />
<line x1="432.18" y1="35.67" x2="434.38" y2="35.67" stroke="#ff0000" stroke-width="0.5" />
<line x1="432.18" y1="39.81" x2="434.38" y2="39.81" stroke="#ff0000" stroke-width="0.5" />
<rect x="431.78" y="36.24" width="3.0" height="3.0" fill="#ff0000"/>
<line x1="441.82" y1="37.58" x2="441.82" y2="41.72" stroke="#ff0000" stroke-width="0.5" />
<line x1="440.72" y1="37.58" x2="442.92" y2="37.58" stroke="#ff0000" stroke-width="0.5" />
<line x1="440.72" y1="41.72" x2="442.92" y2="41.72" stroke="#ff0000" stroke-width="0.5" />
<rect x="440.32" y="38.15" width="3.0" height="3.0" fill="#ff0000"/>
<line x1="450.36" y1="41.72" x2="450.36" y2="45.86" stroke="#ff0000" stroke-width="0.5" />
<line x1="449.26" y1="41.72" x2="451.46" y2="41.72" stroke="#ff0000" stroke-width="0.5" />
<line x1="449.26" y1="45.86" x2="451.46" y2="45.86" stroke="#ff0000" stroke-width="0.5" />
<rect x="448.86" y="42.29" width="3.0" height="3.0" fill="#ff0000"/>
<line x1="458.90" y1="51.45" x2="458.90" y2="55.59" stroke="#ff0000" stroke-width="0.5" />
<line x1="457.80" y1="51.45" x2="460.00" y2="51.45" stroke="#ff0000" stroke-width="0.5" />
<line x1="457.80" y1="55.59" x2="460.00" y2="55.59" stroke="#ff0000" stroke-width="0.5" />
<rect x="457.40" y="52.02" width="3.0" height="3.0" fill="#ff0000"/>
<line x1="467.44" y1="67.96" x2="467.44" y2="70.03" stroke="#ff0000" stroke-width="0.5" />
<line x1="466.34" y1="67.96" x2="468.54" y2="67.96" stroke="#ff0000" stroke-width="0.5" />
<line x1="466.34" y1="70.03" x2="468.54" y2="70.03" stroke="#ff0000" stroke-width="0.5" />
<rect x="465.94" y="67.49" width="3.0" height="3.0" fill="#ff0000"/>
<rect x="474.48" y="74.79" width="3.0" height="3.0" fill="#ff0000"/>
<rect x="483.02" y="77.22" width="3.0" height="3.0" fill="#ff0000"/>
<rect x="491.56" y="79.03" width="3.0" height="3.0" fill="#ff0000"/>
<circle cx="416.20" cy="39.65" r="1.55" fill="#000"/>
<line x1="424.74" y1="36.70" x2="424.74" y2="41.88" stroke="#000" stroke-width="0.5" />
<line x1="423.64" y1="36.70" x2="425.84" y2="36.70" stroke="#000" stroke-width="0.5" />
<line x1="423.64" y1="41.88" x2="425.84" y2="41.88" stroke="#000" stroke-width="0.5" />
<circle cx="424.74" cy="39.29" r="1.55" fill="#000"/>
<line x1="433.28" y1="35.82" x2="433.28" y2="42.03" stroke="#000" stroke-width="0.5" />
<line x1="432.18" y1="35.82" x2="434.38" y2="35.82" stroke="#000" stroke-width="0.5" />
<line x1="432.18" y1="42.03" x2="434.38" y2="42.03" stroke="#000" stroke-width="0.5" />
<circle cx="433.28" cy="38.93" r="1.55" fill="#000"/>
<line x1="441.82" y1="37.06" x2="441.82" y2="42.24" stroke="#000" stroke-width="0.5" />
<line x1="440.72" y1="37.06" x2="442.92" y2="37.06" stroke="#000" stroke-width="0.5" />
<line x1="440.72" y1="42.24" x2="442.92" y2="42.24" stroke="#000" stroke-width="0.5" />
<circle cx="441.82" cy="39.65" r="1.55" fill="#000"/>
<line x1="450.36" y1="38.10" x2="450.36" y2="43.27" stroke="#000" stroke-width="0.5" />
<line x1="449.26" y1="38.10" x2="451.46" y2="38.10" stroke="#000" stroke-width="0.5" />
<line x1="449.26" y1="43.27" x2="451.46" y2="43.27" stroke="#000" stroke-width="0.5" />
<circle cx="450.36" cy="40.69" r="1.55" fill="#000"/>
<line x1="458.90" y1="37.58" x2="458.90" y2="41.72" stroke="#000" stroke-width="0.5" />
<line x1="457.80" y1="37.58" x2="460.00" y2="37.58" stroke="#000" stroke-width="0.5" />
<line x1="457.80" y1="41.72" x2="460.00" y2="41.72" stroke="#000" stroke-width="0.5" />
<circle cx="458.90" cy="39.65" r="1.55" fill="#000"/>
<line x1="467.44" y1="38.62" x2="467.44" y2="42.76" stroke="#000" stroke-width="0.5" />
<line x1="466.34" y1="38.62" x2="468.54" y2="38.62" stroke="#000" stroke-width="0.5" />
<line x1="466.34" y1="42.76" x2="468.54" y2="42.76" stroke="#000" stroke-width="0.5" />
<circle cx="467.44" cy="40.69" r="1.55" fill="#000"/>
<line x1="475.98" y1="38.62" x2="475.98" y2="42.76" stroke="#000" stroke-width="0.5" />
<line x1="474.88" y1="38.62" x2="477.08" y2="38.62" stroke="#000" stroke-width="0.5" />
<line x1="474.88" y1="42.76" x2="477.08" y2="42.76" stroke="#000" stroke-width="0.5" />
<circle cx="475.98" cy="40.69" r="1.55" fill="#000"/>
<line x1="484.52" y1="38.62" x2="484.52" y2="43.79" stroke="#000" stroke-width="0.5" />
<line x1="483.42" y1="38.62" x2="485.62" y2="38.62" stroke="#000" stroke-width="0.5" />
<line x1="483.42" y1="43.79" x2="485.62" y2="43.79" stroke="#000" stroke-width="0.5" />
<circle cx="484.52" cy="41.20" r="1.55" fill="#000"/>
<circle cx="493.06" cy="43.79" r="1.55" fill="#000"/>
<line x1="288.60" y1="129.90" x2="288.60" y2="192.40" stroke="#666" stroke-width="0.8" />
<line x1="288.60" y1="192.40" x2="383.00" y2="192.40" stroke="#666" stroke-width="0.8" />
<line x1="286.60" y1="192.40" x2="288.60" y2="192.40" stroke="#666" stroke-width="0.6" />
<text x="285.80" y="194.00" font-size="4.5" text-anchor="end" font-weight="bold" fill="#222"  stroke="#222" stroke-width="0.158">0</text>
<line x1="286.60" y1="181.98" x2="288.60" y2="181.98" stroke="#666" stroke-width="0.6" />
<text x="285.80" y="183.58" font-size="4.5" text-anchor="end" font-weight="bold" fill="#222"  stroke="#222" stroke-width="0.158">20</text>
<line x1="286.60" y1="171.57" x2="288.60" y2="171.57" stroke="#666" stroke-width="0.6" />
<text x="285.80" y="173.17" font-size="4.5" text-anchor="end" font-weight="bold" fill="#222"  stroke="#222" stroke-width="0.158">40</text>
<line x1="286.60" y1="161.15" x2="288.60" y2="161.15" stroke="#666" stroke-width="0.6" />
<text x="285.80" y="162.75" font-size="4.5" text-anchor="end" font-weight="bold" fill="#222"  stroke="#222" stroke-width="0.158">60</text>
<line x1="286.60" y1="150.74" x2="288.60" y2="150.74" stroke="#666" stroke-width="0.6" />
<text x="285.80" y="152.34" font-size="4.5" text-anchor="end" font-weight="bold" fill="#222"  stroke="#222" stroke-width="0.158">80</text>
<line x1="286.60" y1="140.32" x2="288.60" y2="140.32" stroke="#666" stroke-width="0.6" />
<text x="285.80" y="141.92" font-size="4.5" text-anchor="end" font-weight="bold" fill="#222"  stroke="#222" stroke-width="0.158">100</text>
<line x1="286.60" y1="129.90" x2="288.60" y2="129.90" stroke="#666" stroke-width="0.6" />
<text x="285.80" y="131.50" font-size="4.5" text-anchor="end" font-weight="bold" fill="#222"  stroke="#222" stroke-width="0.158">120</text>
<line x1="291.88" y1="192.40" x2="291.88" y2="193.50" stroke="#666" stroke-width="0.45" />
<line x1="296.19" y1="192.40" x2="296.19" y2="193.50" stroke="#666" stroke-width="0.45" />
<line x1="299.25" y1="192.40" x2="299.25" y2="193.50" stroke="#666" stroke-width="0.45" />
<line x1="301.62" y1="192.40" x2="301.62" y2="193.50" stroke="#666" stroke-width="0.45" />
<line x1="303.56" y1="192.40" x2="303.56" y2="193.50" stroke="#666" stroke-width="0.45" />
<line x1="305.20" y1="192.40" x2="305.20" y2="193.50" stroke="#666" stroke-width="0.45" />
<line x1="306.63" y1="192.40" x2="306.63" y2="193.50" stroke="#666" stroke-width="0.45" />
<line x1="307.88" y1="192.40" x2="307.88" y2="193.50" stroke="#666" stroke-width="0.45" />
<line x1="309.00" y1="192.40" x2="309.00" y2="194.40" stroke="#666" stroke-width="0.45" />
<line x1="316.38" y1="192.40" x2="316.38" y2="193.50" stroke="#666" stroke-width="0.45" />
<line x1="320.69" y1="192.40" x2="320.69" y2="193.50" stroke="#666" stroke-width="0.45" />
<line x1="323.75" y1="192.40" x2="323.75" y2="193.50" stroke="#666" stroke-width="0.45" />
<line x1="326.12" y1="192.40" x2="326.12" y2="193.50" stroke="#666" stroke-width="0.45" />
<line x1="328.06" y1="192.40" x2="328.06" y2="193.50" stroke="#666" stroke-width="0.45" />
<line x1="329.70" y1="192.40" x2="329.70" y2="193.50" stroke="#666" stroke-width="0.45" />
<line x1="331.13" y1="192.40" x2="331.13" y2="193.50" stroke="#666" stroke-width="0.45" />
<line x1="332.38" y1="192.40" x2="332.38" y2="193.50" stroke="#666" stroke-width="0.45" />
<line x1="333.50" y1="192.40" x2="333.50" y2="194.40" stroke="#666" stroke-width="0.45" />
<line x1="340.88" y1="192.40" x2="340.88" y2="193.50" stroke="#666" stroke-width="0.45" />
<line x1="345.19" y1="192.40" x2="345.19" y2="193.50" stroke="#666" stroke-width="0.45" />
<line x1="348.25" y1="192.40" x2="348.25" y2="193.50" stroke="#666" stroke-width="0.45" />
<line x1="350.62" y1="192.40" x2="350.62" y2="193.50" stroke="#666" stroke-width="0.45" />
<line x1="352.56" y1="192.40" x2="352.56" y2="193.50" stroke="#666" stroke-width="0.45" />
<line x1="354.20" y1="192.40" x2="354.20" y2="193.50" stroke="#666" stroke-width="0.45" />
<line x1="355.63" y1="192.40" x2="355.63" y2="193.50" stroke="#666" stroke-width="0.45" />
<line x1="356.88" y1="192.40" x2="356.88" y2="193.50" stroke="#666" stroke-width="0.45" />
<line x1="358.00" y1="192.40" x2="358.00" y2="194.40" stroke="#666" stroke-width="0.45" />
<line x1="365.38" y1="192.40" x2="365.38" y2="193.50" stroke="#666" stroke-width="0.45" />
<line x1="369.69" y1="192.40" x2="369.69" y2="193.50" stroke="#666" stroke-width="0.45" />
<line x1="372.75" y1="192.40" x2="372.75" y2="193.50" stroke="#666" stroke-width="0.45" />
<line x1="375.12" y1="192.40" x2="375.12" y2="193.50" stroke="#666" stroke-width="0.45" />
<line x1="377.06" y1="192.40" x2="377.06" y2="193.50" stroke="#666" stroke-width="0.45" />
<line x1="378.70" y1="192.40" x2="378.70" y2="193.50" stroke="#666" stroke-width="0.45" />
<line x1="380.13" y1="192.40" x2="380.13" y2="193.50" stroke="#666" stroke-width="0.45" />
<line x1="381.38" y1="192.40" x2="381.38" y2="193.50" stroke="#666" stroke-width="0.45" />
<line x1="382.50" y1="192.40" x2="382.50" y2="194.40" stroke="#666" stroke-width="0.45" />
<text x="308.20" y="199.70" font-size="4.2" text-anchor="middle" font-weight="bold" fill="#111" stroke="#111" stroke-width="0.12">10<tspan dy="-1.8" font-size="3.0">-1</tspan></text>
<text x="332.70" y="199.70" font-size="4.2" text-anchor="middle" font-weight="bold" fill="#111" stroke="#111" stroke-width="0.12">10<tspan dy="-1.8" font-size="3.0">0</tspan></text>
<text x="357.20" y="199.70" font-size="4.2" text-anchor="middle" font-weight="bold" fill="#111" stroke="#111" stroke-width="0.12">10<tspan dy="-1.8" font-size="3.0">1</tspan></text>
<text x="381.70" y="199.70" font-size="4.2" text-anchor="middle" font-weight="bold" fill="#111" stroke="#111" stroke-width="0.12">10<tspan dy="-1.8" font-size="3.0">2</tspan></text>
<text x="274.40" y="162.95" font-size="6.0" text-anchor="middle" fill="#111" transform="rotate(-90 274.40 162.95)"  stroke="#111" stroke-width="0.120">% of control</text>
<text x="334.60" y="127.20" font-size="5.9" text-anchor="middle" font-weight="bold" fill="#000"  stroke="#000" stroke-width="0.207">Caov-3</text>
<text x="335.30" y="205.70" font-size="5.4" text-anchor="middle" font-weight="bold" fill="#111"  stroke="#111" stroke-width="0.189">Conc. (μg/ml)</text>
<line x1="290.10" y1="182.49" x2="383.00" y2="182.49" stroke="#111" stroke-width="0.55" stroke-dasharray="0.7 1.0"/>
<text x="291.80" y="180.79" font-size="4.35" text-anchor="start" fill="#222"  stroke="#222" stroke-width="0.087">Seeding</text>
<polyline points="288.60,138.76 289.47,138.76 290.34,138.76 291.21,138.76 292.07,138.76 292.94,138.76 293.81,138.76 294.68,138.76 295.55,138.76 296.42,138.76 297.29,138.76 298.15,138.76 299.02,138.76 299.89,138.76 300.76,138.76 301.63,138.76 302.50,138.76 303.37,138.76 304.23,138.76 305.10,138.76 305.97,138.76 306.84,138.76 307.71,138.76 308.58,138.76 309.44,138.76 310.31,138.77 311.18,138.77 312.05,138.77 312.92,138.77 313.79,138.77 314.66,138.77 315.52,138.77 316.39,138.77 317.26,138.78 318.13,138.78 319.00,138.78 319.87,138.78 320.74,138.78 321.60,138.79 322.47,138.79 323.34,138.79 324.21,138.80 325.08,138.80 325.95,138.81 326.82,138.82 327.68,138.82 328.55,138.83 329.42,138.84 330.29,138.85 331.16,138.86 332.03,138.87 332.90,138.88 333.76,138.89 334.63,138.91 335.50,138.93 336.37,138.94 337.24,138.97 338.11,138.99 338.98,139.02 339.84,139.05 340.71,139.08 341.58,139.11 342.45,139.15 343.32,139.20 344.19,139.25 345.06,139.30 345.92,139.36 346.79,139.43 347.66,139.51 348.53,139.59 349.40,139.69 350.27,139.79 351.13,139.90 352.00,140.03 352.87,140.17 353.74,140.33 354.61,140.50 355.48,140.69 356.35,140.90 357.21,141.13 358.08,141.39 358.95,141.67 359.82,141.99 360.69,142.33 361.56,142.70 362.43,143.12 363.29,143.57 364.16,144.06 365.03,144.60 365.90,145.18" fill="none" stroke="#555" stroke-width="0.6"/>
<polyline points="288.60,138.77 289.03,138.78 289.46,138.78 289.90,138.78 290.33,138.78 290.76,138.78 291.19,138.78 291.62,138.79 292.05,138.79 292.49,138.79 292.92,138.79 293.35,138.80 293.78,138.80 294.21,138.80 294.65,138.81 295.08,138.81 295.51,138.82 295.94,138.82 296.37,138.83 296.81,138.83 297.24,138.84 297.67,138.84 298.10,138.85 298.53,138.86 298.96,138.87 299.40,138.88 299.83,138.89 300.26,138.90 300.69,138.91 301.12,138.92 301.56,138.94 301.99,138.95 302.42,138.97 302.85,138.98 303.28,139.00 303.71,139.02 304.15,139.04 304.58,139.07 305.01,139.09 305.44,139.12 305.87,139.15 306.31,139.18 306.74,139.22 307.17,139.26 307.60,139.30 308.03,139.34 308.46,139.39 308.90,139.44 309.33,139.50 309.76,139.56 310.19,139.62 310.62,139.69 311.06,139.77 311.49,139.85 311.92,139.94 312.35,140.03 312.78,140.14 313.22,140.25 313.65,140.36 314.08,140.49 314.51,140.63 314.94,140.78 315.37,140.93 315.81,141.10 316.24,141.29 316.67,141.48 317.10,141.69 317.53,141.92 317.97,142.16 318.40,142.41 318.83,142.68 319.26,142.97 319.69,143.28 320.12,143.61 320.56,143.96 320.99,144.33 321.42,144.72 321.85,145.14 322.28,145.57 322.72,146.03 323.15,146.51 323.58,147.02 324.01,147.55 324.44,148.10 324.87,148.67 325.31,149.27 325.74,149.89 326.17,150.53 326.60,151.19 327.03,151.87 327.47,152.56 327.90,153.27 328.33,154.00 328.76,154.73 329.19,155.48 329.63,156.23 330.06,156.99 330.49,157.75 330.92,158.51 331.35,159.26 331.78,160.02 332.22,160.76 332.65,161.50 333.08,162.22 333.51,162.93 333.94,163.63 334.38,164.31 334.81,164.97 335.24,165.61 335.67,166.23 336.10,166.83 336.53,167.41 336.97,167.96 337.40,168.49 337.83,169.00 338.26,169.48 338.69,169.94 339.13,170.38 339.56,170.79 339.99,171.18 340.42,171.55 340.85,171.90 341.28,172.23 341.72,172.54 342.15,172.83 342.58,173.11 343.01,173.37 343.44,173.61 343.88,173.83 344.31,174.04 344.74,174.24 345.17,174.42 345.60,174.59 346.04,174.75 346.47,174.90 346.90,175.04 347.33,175.16 347.76,175.28 348.19,175.39 348.63,175.50 349.06,175.59 349.49,175.68 349.92,175.76 350.35,175.84 350.79,175.91 351.22,175.97 351.65,176.03 352.08,176.09 352.51,176.14 352.94,176.19 353.38,176.23 353.81,176.28 354.24,176.31 354.67,176.35 355.10,176.38 355.54,176.41 355.97,176.44 356.40,176.46 356.83,176.49 357.26,176.51 357.69,176.53 358.13,176.55 358.56,176.57 358.99,176.58 359.42,176.60 359.85,176.61 360.29,176.62 360.72,176.64 361.15,176.65 361.58,176.66 362.01,176.67 362.45,176.67 362.88,176.68 363.31,176.69 363.74,176.70 364.17,176.70 364.60,176.71 365.04,176.71 365.47,176.72 365.90,176.72" fill="none" stroke="#ff0000" stroke-width="0.7"/>
<rect x="287.00" y="138.82" width="3.0" height="3.0" fill="#ff0000"/>
<line x1="297.10" y1="137.20" x2="297.10" y2="140.32" stroke="#ff0000" stroke-width="0.5" />
<line x1="296.00" y1="137.20" x2="298.20" y2="137.20" stroke="#ff0000" stroke-width="0.5" />
<line x1="296.00" y1="140.32" x2="298.20" y2="140.32" stroke="#ff0000" stroke-width="0.5" />
<rect x="295.60" y="137.26" width="3.0" height="3.0" fill="#ff0000"/>
<line x1="305.70" y1="137.20" x2="305.70" y2="140.32" stroke="#ff0000" stroke-width="0.5" />
<line x1="304.60" y1="137.20" x2="306.80" y2="137.20" stroke="#ff0000" stroke-width="0.5" />
<line x1="304.60" y1="140.32" x2="306.80" y2="140.32" stroke="#ff0000" stroke-width="0.5" />
<rect x="304.20" y="137.26" width="3.0" height="3.0" fill="#ff0000"/>
<line x1="314.30" y1="137.20" x2="314.30" y2="140.32" stroke="#ff0000" stroke-width="0.5" />
<line x1="313.20" y1="137.20" x2="315.40" y2="137.20" stroke="#ff0000" stroke-width="0.5" />
<line x1="313.20" y1="140.32" x2="315.40" y2="140.32" stroke="#ff0000" stroke-width="0.5" />
<rect x="312.80" y="137.26" width="3.0" height="3.0" fill="#ff0000"/>
<rect x="321.40" y="144.39" width="3.0" height="3.0" fill="#ff0000"/>
<line x1="331.50" y1="154.17" x2="331.50" y2="164.59" stroke="#ff0000" stroke-width="0.5" />
<line x1="330.40" y1="154.17" x2="332.60" y2="154.17" stroke="#ff0000" stroke-width="0.5" />
<line x1="330.40" y1="164.59" x2="332.60" y2="164.59" stroke="#ff0000" stroke-width="0.5" />
<rect x="330.00" y="157.88" width="3.0" height="3.0" fill="#ff0000"/>
<line x1="340.10" y1="165.79" x2="340.10" y2="175.79" stroke="#ff0000" stroke-width="0.5" />
<line x1="339.00" y1="165.79" x2="341.20" y2="165.79" stroke="#ff0000" stroke-width="0.5" />
<line x1="339.00" y1="175.79" x2="341.20" y2="175.79" stroke="#ff0000" stroke-width="0.5" />
<rect x="338.60" y="169.29" width="3.0" height="3.0" fill="#ff0000"/>
<line x1="348.70" y1="170.84" x2="348.70" y2="179.80" stroke="#ff0000" stroke-width="0.5" />
<line x1="347.60" y1="170.84" x2="349.80" y2="170.84" stroke="#ff0000" stroke-width="0.5" />
<line x1="347.60" y1="179.80" x2="349.80" y2="179.80" stroke="#ff0000" stroke-width="0.5" />
<rect x="347.20" y="173.82" width="3.0" height="3.0" fill="#ff0000"/>
<line x1="357.30" y1="173.23" x2="357.30" y2="180.21" stroke="#ff0000" stroke-width="0.5" />
<line x1="356.20" y1="173.23" x2="358.40" y2="173.23" stroke="#ff0000" stroke-width="0.5" />
<line x1="356.20" y1="180.21" x2="358.40" y2="180.21" stroke="#ff0000" stroke-width="0.5" />
<rect x="355.80" y="175.22" width="3.0" height="3.0" fill="#ff0000"/>
<line x1="365.90" y1="172.56" x2="365.90" y2="180.89" stroke="#ff0000" stroke-width="0.5" />
<line x1="364.80" y1="172.56" x2="367.00" y2="172.56" stroke="#ff0000" stroke-width="0.5" />
<line x1="364.80" y1="180.89" x2="367.00" y2="180.89" stroke="#ff0000" stroke-width="0.5" />
<rect x="364.40" y="175.22" width="3.0" height="3.0" fill="#ff0000"/>
<circle cx="288.50" cy="140.32" r="1.55" fill="#000"/>
<line x1="297.10" y1="137.25" x2="297.10" y2="139.33" stroke="#000" stroke-width="0.5" />
<line x1="296.00" y1="137.25" x2="298.20" y2="137.25" stroke="#000" stroke-width="0.5" />
<line x1="296.00" y1="139.33" x2="298.20" y2="139.33" stroke="#000" stroke-width="0.5" />
<circle cx="297.10" cy="138.29" r="1.55" fill="#000"/>
<line x1="305.70" y1="136.73" x2="305.70" y2="139.85" stroke="#000" stroke-width="0.5" />
<line x1="304.60" y1="136.73" x2="306.80" y2="136.73" stroke="#000" stroke-width="0.5" />
<line x1="304.60" y1="139.85" x2="306.80" y2="139.85" stroke="#000" stroke-width="0.5" />
<circle cx="305.70" cy="138.29" r="1.55" fill="#000"/>
<line x1="314.30" y1="137.35" x2="314.30" y2="140.48" stroke="#000" stroke-width="0.5" />
<line x1="313.20" y1="137.35" x2="315.40" y2="137.35" stroke="#000" stroke-width="0.5" />
<line x1="313.20" y1="140.48" x2="315.40" y2="140.48" stroke="#000" stroke-width="0.5" />
<circle cx="314.30" cy="138.91" r="1.55" fill="#000"/>
<circle cx="322.90" cy="138.91" r="1.55" fill="#000"/>
<circle cx="331.50" cy="138.91" r="1.55" fill="#000"/>
<line x1="340.10" y1="137.35" x2="340.10" y2="140.48" stroke="#000" stroke-width="0.5" />
<line x1="339.00" y1="137.35" x2="341.20" y2="137.35" stroke="#000" stroke-width="0.5" />
<line x1="339.00" y1="140.48" x2="341.20" y2="140.48" stroke="#000" stroke-width="0.5" />
<circle cx="340.10" cy="138.91" r="1.55" fill="#000"/>
<line x1="348.70" y1="136.83" x2="348.70" y2="141.00" stroke="#000" stroke-width="0.5" />
<line x1="347.60" y1="136.83" x2="349.80" y2="136.83" stroke="#000" stroke-width="0.5" />
<line x1="347.60" y1="141.00" x2="349.80" y2="141.00" stroke="#000" stroke-width="0.5" />
<circle cx="348.70" cy="138.91" r="1.55" fill="#000"/>
<line x1="357.30" y1="139.33" x2="357.30" y2="142.46" stroke="#000" stroke-width="0.5" />
<line x1="356.20" y1="139.33" x2="358.40" y2="139.33" stroke="#000" stroke-width="0.5" />
<line x1="356.20" y1="142.46" x2="358.40" y2="142.46" stroke="#000" stroke-width="0.5" />
<circle cx="357.30" cy="140.89" r="1.55" fill="#000"/>
<line x1="365.90" y1="142.19" x2="365.90" y2="146.36" stroke="#000" stroke-width="0.5" />
<line x1="364.80" y1="142.19" x2="367.00" y2="142.19" stroke="#000" stroke-width="0.5" />
<line x1="364.80" y1="146.36" x2="367.00" y2="146.36" stroke="#000" stroke-width="0.5" />
<circle cx="365.90" cy="144.28" r="1.55" fill="#000"/>
<line x1="416.20" y1="131.98" x2="416.20" y2="192.60" stroke="#666" stroke-width="0.8" />
<line x1="416.20" y1="192.60" x2="510.30" y2="192.60" stroke="#666" stroke-width="0.8" />
<line x1="414.20" y1="192.60" x2="416.20" y2="192.60" stroke="#666" stroke-width="0.6" />
<text x="413.40" y="194.20" font-size="4.5" text-anchor="end" font-weight="bold" fill="#222"  stroke="#222" stroke-width="0.158">0</text>
<line x1="414.20" y1="183.94" x2="416.20" y2="183.94" stroke="#666" stroke-width="0.6" />
<text x="413.40" y="185.54" font-size="4.5" text-anchor="end" font-weight="bold" fill="#222"  stroke="#222" stroke-width="0.158">20</text>
<line x1="414.20" y1="175.28" x2="416.20" y2="175.28" stroke="#666" stroke-width="0.6" />
<text x="413.40" y="176.88" font-size="4.5" text-anchor="end" font-weight="bold" fill="#222"  stroke="#222" stroke-width="0.158">40</text>
<line x1="414.20" y1="166.62" x2="416.20" y2="166.62" stroke="#666" stroke-width="0.6" />
<text x="413.40" y="168.22" font-size="4.5" text-anchor="end" font-weight="bold" fill="#222"  stroke="#222" stroke-width="0.158">60</text>
<line x1="414.20" y1="157.96" x2="416.20" y2="157.96" stroke="#666" stroke-width="0.6" />
<text x="413.40" y="159.56" font-size="4.5" text-anchor="end" font-weight="bold" fill="#222"  stroke="#222" stroke-width="0.158">80</text>
<line x1="414.20" y1="149.30" x2="416.20" y2="149.30" stroke="#666" stroke-width="0.6" />
<text x="413.40" y="150.90" font-size="4.5" text-anchor="end" font-weight="bold" fill="#222"  stroke="#222" stroke-width="0.158">100</text>
<line x1="414.20" y1="140.64" x2="416.20" y2="140.64" stroke="#666" stroke-width="0.6" />
<text x="413.40" y="142.24" font-size="4.5" text-anchor="end" font-weight="bold" fill="#222"  stroke="#222" stroke-width="0.158">120</text>
<line x1="414.20" y1="131.98" x2="416.20" y2="131.98" stroke="#666" stroke-width="0.6" />
<text x="413.40" y="133.58" font-size="4.5" text-anchor="end" font-weight="bold" fill="#222"  stroke="#222" stroke-width="0.158">140</text>
<line x1="419.92" y1="192.60" x2="419.92" y2="193.70" stroke="#666" stroke-width="0.45" />
<line x1="424.19" y1="192.60" x2="424.19" y2="193.70" stroke="#666" stroke-width="0.45" />
<line x1="427.23" y1="192.60" x2="427.23" y2="193.70" stroke="#666" stroke-width="0.45" />
<line x1="429.58" y1="192.60" x2="429.58" y2="193.70" stroke="#666" stroke-width="0.45" />
<line x1="431.51" y1="192.60" x2="431.51" y2="193.70" stroke="#666" stroke-width="0.45" />
<line x1="433.14" y1="192.60" x2="433.14" y2="193.70" stroke="#666" stroke-width="0.45" />
<line x1="434.55" y1="192.60" x2="434.55" y2="193.70" stroke="#666" stroke-width="0.45" />
<line x1="435.79" y1="192.60" x2="435.79" y2="193.70" stroke="#666" stroke-width="0.45" />
<line x1="436.90" y1="192.60" x2="436.90" y2="194.60" stroke="#666" stroke-width="0.45" />
<line x1="444.22" y1="192.60" x2="444.22" y2="193.70" stroke="#666" stroke-width="0.45" />
<line x1="448.49" y1="192.60" x2="448.49" y2="193.70" stroke="#666" stroke-width="0.45" />
<line x1="451.53" y1="192.60" x2="451.53" y2="193.70" stroke="#666" stroke-width="0.45" />
<line x1="453.88" y1="192.60" x2="453.88" y2="193.70" stroke="#666" stroke-width="0.45" />
<line x1="455.81" y1="192.60" x2="455.81" y2="193.70" stroke="#666" stroke-width="0.45" />
<line x1="457.44" y1="192.60" x2="457.44" y2="193.70" stroke="#666" stroke-width="0.45" />
<line x1="458.85" y1="192.60" x2="458.85" y2="193.70" stroke="#666" stroke-width="0.45" />
<line x1="460.09" y1="192.60" x2="460.09" y2="193.70" stroke="#666" stroke-width="0.45" />
<line x1="461.20" y1="192.60" x2="461.20" y2="194.60" stroke="#666" stroke-width="0.45" />
<line x1="468.52" y1="192.60" x2="468.52" y2="193.70" stroke="#666" stroke-width="0.45" />
<line x1="472.79" y1="192.60" x2="472.79" y2="193.70" stroke="#666" stroke-width="0.45" />
<line x1="475.83" y1="192.60" x2="475.83" y2="193.70" stroke="#666" stroke-width="0.45" />
<line x1="478.18" y1="192.60" x2="478.18" y2="193.70" stroke="#666" stroke-width="0.45" />
<line x1="480.11" y1="192.60" x2="480.11" y2="193.70" stroke="#666" stroke-width="0.45" />
<line x1="481.74" y1="192.60" x2="481.74" y2="193.70" stroke="#666" stroke-width="0.45" />
<line x1="483.15" y1="192.60" x2="483.15" y2="193.70" stroke="#666" stroke-width="0.45" />
<line x1="484.39" y1="192.60" x2="484.39" y2="193.70" stroke="#666" stroke-width="0.45" />
<line x1="485.50" y1="192.60" x2="485.50" y2="194.60" stroke="#666" stroke-width="0.45" />
<line x1="492.82" y1="192.60" x2="492.82" y2="193.70" stroke="#666" stroke-width="0.45" />
<line x1="497.09" y1="192.60" x2="497.09" y2="193.70" stroke="#666" stroke-width="0.45" />
<line x1="500.13" y1="192.60" x2="500.13" y2="193.70" stroke="#666" stroke-width="0.45" />
<line x1="502.48" y1="192.60" x2="502.48" y2="193.70" stroke="#666" stroke-width="0.45" />
<line x1="504.41" y1="192.60" x2="504.41" y2="193.70" stroke="#666" stroke-width="0.45" />
<line x1="506.04" y1="192.60" x2="506.04" y2="193.70" stroke="#666" stroke-width="0.45" />
<line x1="507.45" y1="192.60" x2="507.45" y2="193.70" stroke="#666" stroke-width="0.45" />
<line x1="508.69" y1="192.60" x2="508.69" y2="193.70" stroke="#666" stroke-width="0.45" />
<line x1="509.80" y1="192.60" x2="509.80" y2="194.60" stroke="#666" stroke-width="0.45" />
<text x="436.10" y="199.90" font-size="4.2" text-anchor="middle" font-weight="bold" fill="#111" stroke="#111" stroke-width="0.12">10<tspan dy="-1.8" font-size="3.0">-1</tspan></text>
<text x="460.40" y="199.90" font-size="4.2" text-anchor="middle" font-weight="bold" fill="#111" stroke="#111" stroke-width="0.12">10<tspan dy="-1.8" font-size="3.0">0</tspan></text>
<text x="484.70" y="199.90" font-size="4.2" text-anchor="middle" font-weight="bold" fill="#111" stroke="#111" stroke-width="0.12">10<tspan dy="-1.8" font-size="3.0">1</tspan></text>
<text x="509.00" y="199.90" font-size="4.2" text-anchor="middle" font-weight="bold" fill="#111" stroke="#111" stroke-width="0.12">10<tspan dy="-1.8" font-size="3.0">2</tspan></text>
<text x="402.00" y="164.09" font-size="6.0" text-anchor="middle" fill="#111" transform="rotate(-90 402.00 164.09)"  stroke="#111" stroke-width="0.120">% of control</text>
<text x="463.00" y="129.00" font-size="5.9" text-anchor="middle" font-weight="bold" fill="#000"  stroke="#000" stroke-width="0.207">Daudi</text>
<text x="462.75" y="205.90" font-size="5.4" text-anchor="middle" font-weight="bold" fill="#111"  stroke="#111" stroke-width="0.189">Conc. (μg/ml)</text>
<line x1="417.70" y1="191.01" x2="510.30" y2="191.01" stroke="#111" stroke-width="0.55" stroke-dasharray="0.7 1.0"/>
<text x="419.40" y="189.31" font-size="4.35" text-anchor="start" fill="#222"  stroke="#222" stroke-width="0.087">Seeding</text>
<polyline points="416.20,148.89 417.06,148.82 417.93,148.75 418.79,148.67 419.65,148.58 420.52,148.48 421.38,148.38 422.25,148.27 423.11,148.16 423.97,148.04 424.84,147.92 425.70,147.79 426.56,147.67 427.43,147.56 428.29,147.45 429.15,147.34 430.02,147.24 430.88,147.15 431.74,147.07 432.61,146.99 433.47,146.92 434.34,146.86 435.20,146.81 436.06,146.76 436.93,146.72 437.79,146.69 438.65,146.66 439.52,146.63 440.38,146.61 441.24,146.59 442.11,146.57 442.97,146.56 443.84,146.55 444.70,146.54 445.56,146.53 446.43,146.52 447.29,146.52 448.15,146.51 449.02,146.51 449.88,146.50 450.74,146.50 451.61,146.50 452.47,146.50 453.33,146.50 454.20,146.49 455.06,146.49 455.93,146.49 456.79,146.49 457.65,146.49 458.52,146.49 459.38,146.49 460.24,146.49 461.11,146.49 461.97,146.49 462.83,146.49 463.70,146.49 464.56,146.49 465.42,146.49 466.29,146.49 467.15,146.49 468.02,146.49 468.88,146.49 469.74,146.49 470.61,146.49 471.47,146.49 472.33,146.49 473.20,146.49 474.06,146.49 474.92,146.49 475.79,146.49 476.65,146.49 477.52,146.49 478.38,146.49 479.24,146.49 480.11,146.49 480.97,146.49 481.83,146.49 482.70,146.49 483.56,146.49 484.42,146.49 485.29,146.49 486.15,146.49 487.01,146.49 487.88,146.49 488.74,146.49 489.61,146.49 490.47,146.49 491.33,146.49 492.20,146.49 493.06,146.49" fill="none" stroke="#555" stroke-width="0.6"/>
<polyline points="416.20,147.57 416.63,147.57 417.06,147.57 417.49,147.57 417.92,147.57 418.35,147.57 418.78,147.57 419.21,147.57 419.64,147.57 420.06,147.57 420.49,147.57 420.92,147.57 421.35,147.57 421.78,147.57 422.21,147.57 422.64,147.57 423.07,147.57 423.50,147.57 423.93,147.57 424.36,147.57 424.79,147.57 425.22,147.57 425.65,147.57 426.08,147.57 426.51,147.57 426.93,147.57 427.36,147.57 427.79,147.57 428.22,147.57 428.65,147.57 429.08,147.57 429.51,147.57 429.94,147.57 430.37,147.57 430.80,147.57 431.23,147.57 431.66,147.57 432.09,147.57 432.52,147.57 432.95,147.57 433.38,147.57 433.80,147.57 434.23,147.57 434.66,147.57 435.09,147.57 435.52,147.57 435.95,147.57 436.38,147.57 436.81,147.57 437.24,147.57 437.67,147.57 438.10,147.57 438.53,147.57 438.96,147.57 439.39,147.57 439.82,147.57 440.25,147.57 440.67,147.57 441.10,147.57 441.53,147.57 441.96,147.57 442.39,147.57 442.82,147.57 443.25,147.57 443.68,147.57 444.11,147.57 444.54,147.57 444.97,147.57 445.40,147.57 445.83,147.57 446.26,147.57 446.69,147.57 447.12,147.57 447.55,147.57 447.97,147.57 448.40,147.57 448.83,147.57 449.26,147.57 449.69,147.57 450.12,147.57 450.55,147.57 450.98,147.57 451.41,147.57 451.84,147.57 452.27,147.57 452.70,147.57 453.13,147.57 453.56,147.57 453.99,147.57 454.42,147.57 454.84,147.57 455.27,147.57 455.70,147.57 456.13,147.57 456.56,147.57 456.99,147.57 457.42,147.57 457.85,147.58 458.28,147.58 458.71,147.59 459.14,147.59 459.57,147.60 460.00,147.61 460.43,147.63 460.86,147.65 461.29,147.68 461.71,147.72 462.14,147.77 462.57,147.84 463.00,147.94 463.43,148.07 463.86,148.25 464.29,148.49 464.72,148.82 465.15,149.25 465.58,149.82 466.01,150.58 466.44,151.56 466.87,152.83 467.30,154.43 467.73,156.41 468.16,158.79 468.59,161.56 469.01,164.68 469.44,168.03 469.87,171.47 470.30,174.86 470.73,178.03 471.16,180.87 471.59,183.33 472.02,185.39 472.45,187.06 472.88,188.39 473.31,189.42 473.74,190.22 474.17,190.82 474.60,191.28 475.03,191.62 475.46,191.87 475.88,192.06 476.31,192.20 476.74,192.31 477.17,192.38 477.60,192.44 478.03,192.48 478.46,192.51 478.89,192.54 479.32,192.55 479.75,192.57 480.18,192.57 480.61,192.58 481.04,192.59 481.47,192.59 481.90,192.59 482.33,192.59 482.75,192.60 483.18,192.60 483.61,192.60 484.04,192.60 484.47,192.60 484.90,192.60 485.33,192.60 485.76,192.60 486.19,192.60 486.62,192.60 487.05,192.60 487.48,192.60 487.91,192.60 488.34,192.60 488.77,192.60 489.20,192.60 489.62,192.60 490.05,192.60 490.48,192.60 490.91,192.60 491.34,192.60 491.77,192.60 492.20,192.60 492.63,192.60 493.06,192.60" fill="none" stroke="#ff0000" stroke-width="0.7"/>
<rect x="414.70" y="147.80" width="3.0" height="3.0" fill="#ff0000"/>
<line x1="424.74" y1="142.37" x2="424.74" y2="150.17" stroke="#ff0000" stroke-width="0.5" />
<line x1="423.64" y1="142.37" x2="425.84" y2="142.37" stroke="#ff0000" stroke-width="0.5" />
<line x1="423.64" y1="150.17" x2="425.84" y2="150.17" stroke="#ff0000" stroke-width="0.5" />
<rect x="423.24" y="144.77" width="3.0" height="3.0" fill="#ff0000"/>
<line x1="433.28" y1="140.42" x2="433.28" y2="148.22" stroke="#ff0000" stroke-width="0.5" />
<line x1="432.18" y1="140.42" x2="434.38" y2="140.42" stroke="#ff0000" stroke-width="0.5" />
<line x1="432.18" y1="148.22" x2="434.38" y2="148.22" stroke="#ff0000" stroke-width="0.5" />
<rect x="431.78" y="142.82" width="3.0" height="3.0" fill="#ff0000"/>
<line x1="441.82" y1="144.32" x2="441.82" y2="149.52" stroke="#ff0000" stroke-width="0.5" />
<line x1="440.72" y1="144.32" x2="442.92" y2="144.32" stroke="#ff0000" stroke-width="0.5" />
<line x1="440.72" y1="149.52" x2="442.92" y2="149.52" stroke="#ff0000" stroke-width="0.5" />
<rect x="440.32" y="145.42" width="3.0" height="3.0" fill="#ff0000"/>
<rect x="448.86" y="149.10" width="3.0" height="3.0" fill="#ff0000"/>
<line x1="458.90" y1="148.61" x2="458.90" y2="151.21" stroke="#ff0000" stroke-width="0.5" />
<line x1="457.80" y1="148.61" x2="460.00" y2="148.61" stroke="#ff0000" stroke-width="0.5" />
<line x1="457.80" y1="151.21" x2="460.00" y2="151.21" stroke="#ff0000" stroke-width="0.5" />
<rect x="457.40" y="148.41" width="3.0" height="3.0" fill="#ff0000"/>
<rect x="465.94" y="154.38" width="3.0" height="3.0" fill="#ff0000"/>
<rect x="474.48" y="190.49" width="3.0" height="3.0" fill="#ff0000"/>
<rect x="483.02" y="191.10" width="3.0" height="3.0" fill="#ff0000"/>
<rect x="491.56" y="191.10" width="3.0" height="3.0" fill="#ff0000"/>
<circle cx="416.20" cy="149.30" r="1.55" fill="#000"/>
<line x1="424.74" y1="145.84" x2="424.74" y2="149.30" stroke="#000" stroke-width="0.5" />
<line x1="423.64" y1="145.84" x2="425.84" y2="145.84" stroke="#000" stroke-width="0.5" />
<line x1="423.64" y1="149.30" x2="425.84" y2="149.30" stroke="#000" stroke-width="0.5" />
<circle cx="424.74" cy="147.57" r="1.55" fill="#000"/>
<line x1="433.28" y1="144.62" x2="433.28" y2="147.22" stroke="#000" stroke-width="0.5" />
<line x1="432.18" y1="144.62" x2="434.38" y2="144.62" stroke="#000" stroke-width="0.5" />
<line x1="432.18" y1="147.22" x2="434.38" y2="147.22" stroke="#000" stroke-width="0.5" />
<circle cx="433.28" cy="145.92" r="1.55" fill="#000"/>
<line x1="441.82" y1="144.97" x2="441.82" y2="147.57" stroke="#000" stroke-width="0.5" />
<line x1="440.72" y1="144.97" x2="442.92" y2="144.97" stroke="#000" stroke-width="0.5" />
<line x1="440.72" y1="147.57" x2="442.92" y2="147.57" stroke="#000" stroke-width="0.5" />
<circle cx="441.82" cy="146.27" r="1.55" fill="#000"/>
<line x1="450.36" y1="144.62" x2="450.36" y2="147.22" stroke="#000" stroke-width="0.5" />
<line x1="449.26" y1="144.62" x2="451.46" y2="144.62" stroke="#000" stroke-width="0.5" />
<line x1="449.26" y1="147.22" x2="451.46" y2="147.22" stroke="#000" stroke-width="0.5" />
<circle cx="450.36" cy="145.92" r="1.55" fill="#000"/>
<line x1="458.90" y1="143.24" x2="458.90" y2="146.70" stroke="#000" stroke-width="0.5" />
<line x1="457.80" y1="143.24" x2="460.00" y2="143.24" stroke="#000" stroke-width="0.5" />
<line x1="457.80" y1="146.70" x2="460.00" y2="146.70" stroke="#000" stroke-width="0.5" />
<circle cx="458.90" cy="144.97" r="1.55" fill="#000"/>
<line x1="467.44" y1="144.75" x2="467.44" y2="148.22" stroke="#000" stroke-width="0.5" />
<line x1="466.34" y1="144.75" x2="468.54" y2="144.75" stroke="#000" stroke-width="0.5" />
<line x1="466.34" y1="148.22" x2="468.54" y2="148.22" stroke="#000" stroke-width="0.5" />
<circle cx="467.44" cy="146.49" r="1.55" fill="#000"/>
<circle cx="475.98" cy="145.40" r="1.55" fill="#000"/>
<circle cx="484.52" cy="145.40" r="1.55" fill="#000"/>
<circle cx="493.06" cy="148.87" r="1.55" fill="#000"/>
<circle cx="504" cy="35.5" r="1.75" fill="#000"/>
<text x="513.00" y="38.60" font-size="6.4" text-anchor="start" fill="#222"  stroke="#222" stroke-width="0.128">c12G1</text>
<rect x="502.40" y="44.20" width="3.30" height="3.30" fill="#ff0000" stroke="none" stroke-width="0"/>
<text x="513.00" y="48.00" font-size="6.4" text-anchor="start" fill="#222"  stroke="#222" stroke-width="0.128">c12G1-DM1</text>
<text x="4.60" y="218.30" font-size="8.5" text-anchor="start" font-weight="bold" fill="#000" stroke="#000" stroke-width="0.35">C)</text>
<line x1="28.10" y1="229.70" x2="28.10" y2="298.40" stroke="#666" stroke-width="0.8" />
<line x1="28.10" y1="298.40" x2="131.50" y2="298.40" stroke="#666" stroke-width="0.8" />
<line x1="26.10" y1="298.40" x2="28.10" y2="298.40" stroke="#666" stroke-width="0.6" />
<text x="25.30" y="300.10" font-size="4.8" text-anchor="end" font-weight="bold" fill="#222"  stroke="#222" stroke-width="0.168">0</text>
<line x1="26.10" y1="275.50" x2="28.10" y2="275.50" stroke="#666" stroke-width="0.6" />
<text x="25.30" y="277.20" font-size="4.8" text-anchor="end" font-weight="bold" fill="#222"  stroke="#222" stroke-width="0.168">500</text>
<line x1="26.10" y1="252.60" x2="28.10" y2="252.60" stroke="#666" stroke-width="0.6" />
<text x="25.30" y="254.30" font-size="4.8" text-anchor="end" font-weight="bold" fill="#222"  stroke="#222" stroke-width="0.168">1000</text>
<line x1="26.10" y1="229.70" x2="28.10" y2="229.70" stroke="#666" stroke-width="0.6" />
<text x="25.30" y="231.40" font-size="4.8" text-anchor="end" font-weight="bold" fill="#222"  stroke="#222" stroke-width="0.168">1500</text>
<line x1="27.90" y1="298.40" x2="27.90" y2="300.40" stroke="#666" stroke-width="0.6" />
<text x="27.90" y="306.10" font-size="4.8" text-anchor="middle" font-weight="bold" fill="#222"  stroke="#222" stroke-width="0.168">0</text>
<line x1="42.70" y1="298.40" x2="42.70" y2="300.40" stroke="#666" stroke-width="0.6" />
<text x="42.70" y="306.10" font-size="4.8" text-anchor="middle" font-weight="bold" fill="#222"  stroke="#222" stroke-width="0.168">5</text>
<line x1="57.50" y1="298.40" x2="57.50" y2="300.40" stroke="#666" stroke-width="0.6" />
<text x="57.50" y="306.10" font-size="4.8" text-anchor="middle" font-weight="bold" fill="#222"  stroke="#222" stroke-width="0.168">10</text>
<line x1="72.30" y1="298.40" x2="72.30" y2="300.40" stroke="#666" stroke-width="0.6" />
<text x="72.30" y="306.10" font-size="4.8" text-anchor="middle" font-weight="bold" fill="#222"  stroke="#222" stroke-width="0.168">15</text>
<line x1="87.10" y1="298.40" x2="87.10" y2="300.40" stroke="#666" stroke-width="0.6" />
<text x="87.10" y="306.10" font-size="4.8" text-anchor="middle" font-weight="bold" fill="#222"  stroke="#222" stroke-width="0.168">20</text>
<line x1="101.90" y1="298.40" x2="101.90" y2="300.40" stroke="#666" stroke-width="0.6" />
<text x="101.90" y="306.10" font-size="4.8" text-anchor="middle" font-weight="bold" fill="#222"  stroke="#222" stroke-width="0.168">25</text>
<line x1="116.70" y1="298.40" x2="116.70" y2="300.40" stroke="#666" stroke-width="0.6" />
<text x="116.70" y="306.10" font-size="4.8" text-anchor="middle" font-weight="bold" fill="#222"  stroke="#222" stroke-width="0.168">30</text>
<line x1="131.50" y1="298.40" x2="131.50" y2="300.40" stroke="#666" stroke-width="0.6" />
<text x="131.50" y="306.10" font-size="4.8" text-anchor="middle" font-weight="bold" fill="#222"  stroke="#222" stroke-width="0.168">35</text>
<text x="79.60" y="228.10" font-size="6.5" text-anchor="middle" font-weight="bold" fill="#000"  stroke="#000" stroke-width="0.228">OV-90</text>
<text x="10.20" y="263.75" font-size="5.8" text-anchor="middle" font-weight="bold" fill="#111" stroke="#111" stroke-width="0.1" transform="rotate(-90 10.20 263.75)">Tumor volume (mm<tspan dy="-1.9" font-size="3.5">3</tspan><tspan dy="1.9">)</tspan></text>
<text x="79.50" y="320.00" font-size="5.5" text-anchor="middle" font-weight="bold" fill="#111"  stroke="#111" stroke-width="0.193">Days after first injection</text>
<line x1="29.10" y1="289.42" x2="120.00" y2="289.42" stroke="#d4d4d4" stroke-width="0.8" />
<path d="M27.90,307.70 L29.80,311.70 L26.00,311.70Z" fill="#cccc10"/>
<line x1="27.90" y1="311.70" x2="27.90" y2="313.60" stroke="#dddd60" stroke-width="0.9" />
<path d="M48.62,307.70 L50.52,311.70 L46.72,311.70Z" fill="#cccc10"/>
<line x1="48.62" y1="311.70" x2="48.62" y2="313.60" stroke="#dddd60" stroke-width="0.9" />
<path d="M69.34,307.70 L71.24,311.70 L67.44,311.70Z" fill="#cccc10"/>
<line x1="69.34" y1="311.70" x2="69.34" y2="313.60" stroke="#dddd60" stroke-width="0.9" />
<polyline points="27.90,290.16 42.70,285.58 57.50,281.82 72.30,273.62 87.10,269.91 101.90,258.74 116.70,259.33" fill="none" stroke="#8a8a8a" stroke-width="0.65"/>
<polyline points="27.90,289.24 42.70,284.66 57.50,280.54 72.30,271.01 87.10,262.81 101.90,253.10 116.70,253.10" fill="none" stroke="#000" stroke-width="0.65"/>
<polyline points="27.90,291.07 42.70,281.45 57.50,278.71 72.30,271.01 87.10,263.82 101.90,253.97 116.70,252.51" fill="none" stroke="#1a9a1a" stroke-width="0.65"/>
<polyline points="27.90,288.32 42.70,284.66 57.50,278.98 72.30,283.88 87.10,279.81 101.90,277.10 116.70,267.90" fill="none" stroke="#2848ff" stroke-width="0.65"/>
<polyline points="27.90,287.09 42.70,289.10 57.50,291.76 72.30,293.50 87.10,294.51 101.90,294.09 116.70,291.48" fill="none" stroke="#ff3030" stroke-width="0.65"/>
<polyline points="27.90,287.87 42.70,289.15 57.50,291.76 72.30,294.51 87.10,295.61 101.90,295.10 116.70,292.90" fill="none" stroke="#222" stroke-width="0.65"/>
<rect x="26.23" y="288.49" width="3.33" height="3.33" fill="#858585"/>
<rect x="41.04" y="283.91" width="3.33" height="3.33" fill="#858585"/>
<rect x="55.84" y="280.16" width="3.33" height="3.33" fill="#858585"/>
<rect x="70.63" y="271.96" width="3.33" height="3.33" fill="#858585"/>
<rect x="85.43" y="268.25" width="3.33" height="3.33" fill="#858585"/>
<line x1="101.90" y1="255.53" x2="101.90" y2="261.94" stroke="#8a8a8a" stroke-width="0.5" />
<line x1="101.00" y1="255.53" x2="102.80" y2="255.53" stroke="#8a8a8a" stroke-width="0.5" />
<line x1="101.00" y1="261.94" x2="102.80" y2="261.94" stroke="#8a8a8a" stroke-width="0.5" />
<rect x="100.23" y="257.07" width="3.33" height="3.33" fill="#858585"/>
<rect x="115.03" y="257.67" width="3.33" height="3.33" fill="#858585"/>
<line x1="27.90" y1="286.49" x2="27.90" y2="291.99" stroke="#000" stroke-width="0.5" />
<line x1="27.00" y1="286.49" x2="28.80" y2="286.49" stroke="#000" stroke-width="0.5" />
<line x1="27.00" y1="291.99" x2="28.80" y2="291.99" stroke="#000" stroke-width="0.5" />
<circle cx="27.90" cy="289.24" r="1.85" fill="#000"/>
<circle cx="42.70" cy="284.66" r="1.85" fill="#000"/>
<circle cx="57.50" cy="280.54" r="1.85" fill="#000"/>
<circle cx="72.30" cy="271.01" r="1.85" fill="#000"/>
<line x1="87.10" y1="255.94" x2="87.10" y2="269.68" stroke="#000" stroke-width="0.5" />
<line x1="86.20" y1="255.94" x2="88.00" y2="255.94" stroke="#000" stroke-width="0.5" />
<line x1="86.20" y1="269.68" x2="88.00" y2="269.68" stroke="#000" stroke-width="0.5" />
<circle cx="87.10" cy="262.81" r="1.85" fill="#000"/>
<line x1="101.90" y1="247.61" x2="101.90" y2="258.60" stroke="#000" stroke-width="0.5" />
<line x1="101.00" y1="247.61" x2="102.80" y2="247.61" stroke="#000" stroke-width="0.5" />
<line x1="101.00" y1="258.60" x2="102.80" y2="258.60" stroke="#000" stroke-width="0.5" />
<circle cx="101.90" cy="253.10" r="1.85" fill="#000"/>
<line x1="116.70" y1="248.52" x2="116.70" y2="257.68" stroke="#000" stroke-width="0.5" />
<line x1="115.80" y1="248.52" x2="117.60" y2="248.52" stroke="#000" stroke-width="0.5" />
<line x1="115.80" y1="257.68" x2="117.60" y2="257.68" stroke="#000" stroke-width="0.5" />
<circle cx="116.70" cy="253.10" r="1.85" fill="#000"/>
<path d="M27.90,288.85 L29.93,292.55 L25.86,292.55Z" fill="#128a12"/>
<line x1="42.70" y1="279.16" x2="42.70" y2="283.74" stroke="#1a9a1a" stroke-width="0.5" />
<line x1="41.80" y1="279.16" x2="43.60" y2="279.16" stroke="#1a9a1a" stroke-width="0.5" />
<line x1="41.80" y1="283.74" x2="43.60" y2="283.74" stroke="#1a9a1a" stroke-width="0.5" />
<path d="M42.70,279.23 L44.73,282.93 L40.67,282.93Z" fill="#128a12"/>
<path d="M57.50,276.49 L59.53,280.19 L55.47,280.19Z" fill="#128a12"/>
<line x1="72.30" y1="266.43" x2="72.30" y2="275.59" stroke="#1a9a1a" stroke-width="0.5" />
<line x1="71.40" y1="266.43" x2="73.20" y2="266.43" stroke="#1a9a1a" stroke-width="0.5" />
<line x1="71.40" y1="275.59" x2="73.20" y2="275.59" stroke="#1a9a1a" stroke-width="0.5" />
<path d="M72.30,268.79 L74.33,272.49 L70.27,272.49Z" fill="#128a12"/>
<path d="M87.10,261.60 L89.13,265.30 L85.06,265.30Z" fill="#128a12"/>
<path d="M101.90,251.75 L103.94,255.45 L99.87,255.45Z" fill="#128a12"/>
<line x1="116.70" y1="245.64" x2="116.70" y2="259.38" stroke="#1a9a1a" stroke-width="0.5" />
<line x1="115.80" y1="245.64" x2="117.60" y2="245.64" stroke="#1a9a1a" stroke-width="0.5" />
<line x1="115.80" y1="259.38" x2="117.60" y2="259.38" stroke="#1a9a1a" stroke-width="0.5" />
<path d="M116.70,250.29 L118.73,253.99 L114.66,253.99Z" fill="#128a12"/>
<path d="M27.90,290.54 L29.93,286.84 L25.86,286.84Z" fill="#1020ff"/>
<path d="M42.70,286.88 L44.73,283.18 L40.67,283.18Z" fill="#1020ff"/>
<line x1="57.50" y1="276.23" x2="57.50" y2="281.73" stroke="#2848ff" stroke-width="0.5" />
<line x1="56.60" y1="276.23" x2="58.40" y2="276.23" stroke="#2848ff" stroke-width="0.5" />
<line x1="56.60" y1="281.73" x2="58.40" y2="281.73" stroke="#2848ff" stroke-width="0.5" />
<path d="M57.50,281.20 L59.53,277.50 L55.47,277.50Z" fill="#1020ff"/>
<line x1="72.30" y1="280.22" x2="72.30" y2="287.55" stroke="#2848ff" stroke-width="0.5" />
<line x1="71.40" y1="280.22" x2="73.20" y2="280.22" stroke="#2848ff" stroke-width="0.5" />
<line x1="71.40" y1="287.55" x2="73.20" y2="287.55" stroke="#2848ff" stroke-width="0.5" />
<path d="M72.30,286.10 L74.33,282.40 L70.27,282.40Z" fill="#1020ff"/>
<line x1="87.10" y1="276.60" x2="87.10" y2="283.01" stroke="#2848ff" stroke-width="0.5" />
<line x1="86.20" y1="276.60" x2="88.00" y2="276.60" stroke="#2848ff" stroke-width="0.5" />
<line x1="86.20" y1="283.01" x2="88.00" y2="283.01" stroke="#2848ff" stroke-width="0.5" />
<path d="M87.10,282.03 L89.13,278.33 L85.06,278.33Z" fill="#1020ff"/>
<line x1="101.90" y1="272.98" x2="101.90" y2="281.22" stroke="#2848ff" stroke-width="0.5" />
<line x1="101.00" y1="272.98" x2="102.80" y2="272.98" stroke="#2848ff" stroke-width="0.5" />
<line x1="101.00" y1="281.22" x2="102.80" y2="281.22" stroke="#2848ff" stroke-width="0.5" />
<path d="M101.90,279.32 L103.94,275.62 L99.87,275.62Z" fill="#1020ff"/>
<line x1="116.70" y1="259.88" x2="116.70" y2="275.91" stroke="#2848ff" stroke-width="0.5" />
<line x1="115.80" y1="259.88" x2="117.60" y2="259.88" stroke="#2848ff" stroke-width="0.5" />
<line x1="115.80" y1="275.91" x2="117.60" y2="275.91" stroke="#2848ff" stroke-width="0.5" />
<path d="M116.70,270.12 L118.73,266.42 L114.66,266.42Z" fill="#1020ff"/>
<circle cx="27.90" cy="287.09" r="1.76" fill="#fff" stroke="#ff2020" stroke-width="1.0"/>
<circle cx="42.70" cy="289.10" r="1.76" fill="#fff" stroke="#ff2020" stroke-width="1.0"/>
<circle cx="57.50" cy="291.76" r="1.76" fill="#fff" stroke="#ff2020" stroke-width="1.0"/>
<circle cx="72.30" cy="293.50" r="1.76" fill="#fff" stroke="#ff2020" stroke-width="1.0"/>
<circle cx="87.10" cy="294.51" r="1.76" fill="#fff" stroke="#ff2020" stroke-width="1.0"/>
<circle cx="101.90" cy="294.09" r="1.76" fill="#fff" stroke="#ff2020" stroke-width="1.0"/>
<circle cx="116.70" cy="291.48" r="1.76" fill="#fff" stroke="#ff2020" stroke-width="1.0"/>
<path d="M27.90,285.83 L29.93,287.87 L27.90,289.90 L25.86,287.87Z" fill="#fff" stroke="#000" stroke-width="1.0" transform="translate(27.90 287.87) scale(0.85) translate(-27.90 -287.87)"/>
<path d="M42.70,287.11 L44.73,289.15 L42.70,291.18 L40.67,289.15Z" fill="#fff" stroke="#000" stroke-width="1.0" transform="translate(42.70 289.15) scale(0.85) translate(-42.70 -289.15)"/>
<path d="M57.50,289.72 L59.53,291.76 L57.50,293.79 L55.47,291.76Z" fill="#fff" stroke="#000" stroke-width="1.0" transform="translate(57.50 291.76) scale(0.85) translate(-57.50 -291.76)"/>
<path d="M72.30,292.47 L74.33,294.51 L72.30,296.54 L70.27,294.51Z" fill="#fff" stroke="#000" stroke-width="1.0" transform="translate(72.30 294.51) scale(0.85) translate(-72.30 -294.51)"/>
<path d="M87.10,293.57 L89.13,295.61 L87.10,297.64 L85.06,295.61Z" fill="#fff" stroke="#000" stroke-width="1.0" transform="translate(87.10 295.61) scale(0.85) translate(-87.10 -295.61)"/>
<path d="M101.90,293.07 L103.94,295.10 L101.90,297.14 L99.87,295.10Z" fill="#fff" stroke="#000" stroke-width="1.0" transform="translate(101.90 295.10) scale(0.85) translate(-101.90 -295.10)"/>
<path d="M116.70,290.87 L118.73,292.90 L116.70,294.94 L114.66,292.90Z" fill="#fff" stroke="#000" stroke-width="1.0" transform="translate(116.70 292.90) scale(0.85) translate(-116.70 -292.90)"/>
<text x="122.60" y="289.40" font-size="4.6" text-anchor="middle" font-weight="bold" fill="#ff4040"  stroke="#ff4040" stroke-width="0.161">##</text>
<text x="122.60" y="296.00" font-size="4.6" text-anchor="middle" font-weight="bold" fill="#555"  stroke="#555" stroke-width="0.161">##</text>
<line x1="174.40" y1="231.70" x2="174.40" y2="298.10" stroke="#666" stroke-width="0.8" />
<line x1="174.40" y1="298.10" x2="275.20" y2="298.10" stroke="#666" stroke-width="0.8" />
<line x1="172.40" y1="298.10" x2="174.40" y2="298.10" stroke="#666" stroke-width="0.6" />
<text x="171.60" y="299.80" font-size="4.8" text-anchor="end" font-weight="bold" fill="#222"  stroke="#222" stroke-width="0.168">0</text>
<line x1="172.40" y1="281.50" x2="174.40" y2="281.50" stroke="#666" stroke-width="0.6" />
<text x="171.60" y="283.20" font-size="4.8" text-anchor="end" font-weight="bold" fill="#222"  stroke="#222" stroke-width="0.168">500</text>
<line x1="172.40" y1="264.90" x2="174.40" y2="264.90" stroke="#666" stroke-width="0.6" />
<text x="171.60" y="266.60" font-size="4.8" text-anchor="end" font-weight="bold" fill="#222"  stroke="#222" stroke-width="0.168">1000</text>
<line x1="172.40" y1="248.30" x2="174.40" y2="248.30" stroke="#666" stroke-width="0.6" />
<text x="171.60" y="250.00" font-size="4.8" text-anchor="end" font-weight="bold" fill="#222"  stroke="#222" stroke-width="0.168">1500</text>
<line x1="172.40" y1="231.70" x2="174.40" y2="231.70" stroke="#666" stroke-width="0.6" />
<text x="171.60" y="233.40" font-size="4.8" text-anchor="end" font-weight="bold" fill="#222"  stroke="#222" stroke-width="0.168">2000</text>
<line x1="174.40" y1="298.10" x2="174.40" y2="300.10" stroke="#666" stroke-width="0.6" />
<text x="174.40" y="305.80" font-size="4.8" text-anchor="middle" font-weight="bold" fill="#222"  stroke="#222" stroke-width="0.168">0</text>
<line x1="188.80" y1="298.10" x2="188.80" y2="300.10" stroke="#666" stroke-width="0.6" />
<text x="188.80" y="305.80" font-size="4.8" text-anchor="middle" font-weight="bold" fill="#222"  stroke="#222" stroke-width="0.168">5</text>
<line x1="203.20" y1="298.10" x2="203.20" y2="300.10" stroke="#666" stroke-width="0.6" />
<text x="203.20" y="305.80" font-size="4.8" text-anchor="middle" font-weight="bold" fill="#222"  stroke="#222" stroke-width="0.168">10</text>
<line x1="217.60" y1="298.10" x2="217.60" y2="300.10" stroke="#666" stroke-width="0.6" />
<text x="217.60" y="305.80" font-size="4.8" text-anchor="middle" font-weight="bold" fill="#222"  stroke="#222" stroke-width="0.168">15</text>
<line x1="232.00" y1="298.10" x2="232.00" y2="300.10" stroke="#666" stroke-width="0.6" />
<text x="232.00" y="305.80" font-size="4.8" text-anchor="middle" font-weight="bold" fill="#222"  stroke="#222" stroke-width="0.168">20</text>
<line x1="246.40" y1="298.10" x2="246.40" y2="300.10" stroke="#666" stroke-width="0.6" />
<text x="246.40" y="305.80" font-size="4.8" text-anchor="middle" font-weight="bold" fill="#222"  stroke="#222" stroke-width="0.168">25</text>
<line x1="260.80" y1="298.10" x2="260.80" y2="300.10" stroke="#666" stroke-width="0.6" />
<text x="260.80" y="305.80" font-size="4.8" text-anchor="middle" font-weight="bold" fill="#222"  stroke="#222" stroke-width="0.168">30</text>
<line x1="275.20" y1="298.10" x2="275.20" y2="300.10" stroke="#666" stroke-width="0.6" />
<text x="275.20" y="305.80" font-size="4.8" text-anchor="middle" font-weight="bold" fill="#222"  stroke="#222" stroke-width="0.168">35</text>
<text x="224.00" y="228.40" font-size="6.5" text-anchor="middle" font-weight="bold" fill="#000"  stroke="#000" stroke-width="0.228">SK-OV-3</text>
<text x="156.70" y="264.60" font-size="5.8" text-anchor="middle" font-weight="bold" fill="#111" stroke="#111" stroke-width="0.1" transform="rotate(-90 156.70 264.60)">Tumor volume (mm<tspan dy="-1.9" font-size="3.5">3</tspan><tspan dy="1.9">)</tspan></text>
<text x="226.00" y="319.70" font-size="5.5" text-anchor="middle" font-weight="bold" fill="#111"  stroke="#111" stroke-width="0.193">Days after first injection</text>
<line x1="175.40" y1="291.19" x2="275.00" y2="291.19" stroke="#d4d4d4" stroke-width="0.8" />
<path d="M174.40,307.40 L176.30,311.40 L172.50,311.40Z" fill="#cccc10"/>
<line x1="174.40" y1="311.40" x2="174.40" y2="313.30" stroke="#dddd60" stroke-width="0.9" />
<path d="M194.56,307.40 L196.46,311.40 L192.66,311.40Z" fill="#cccc10"/>
<line x1="194.56" y1="311.40" x2="194.56" y2="313.30" stroke="#dddd60" stroke-width="0.9" />
<path d="M214.72,307.40 L216.62,311.40 L212.82,311.40Z" fill="#cccc10"/>
<line x1="214.72" y1="311.40" x2="214.72" y2="313.30" stroke="#dddd60" stroke-width="0.9" />
<polyline points="174.40,291.59 188.80,287.48 197.44,284.82 211.84,280.84 217.60,278.18 229.12,276.52 237.76,274.86 249.28,271.41 263.68,260.29" fill="none" stroke="#8a8a8a" stroke-width="0.65"/>
<polyline points="174.40,291.59 188.80,288.14 197.44,285.82 211.84,280.80 217.60,278.84 229.12,275.03 237.76,273.83 249.28,272.50 263.68,267.29" fill="none" stroke="#1a9a1a" stroke-width="0.65"/>
<polyline points="174.40,291.59 188.80,286.81 197.44,284.72 211.84,277.72 217.60,276.12 229.12,274.33 237.76,272.50 249.28,270.11 263.68,258.09" fill="none" stroke="#222" stroke-width="0.65"/>
<polyline points="174.40,291.59 188.80,286.81 197.44,284.72 211.84,279.51 217.60,276.52 229.12,274.86 237.76,272.50 249.28,270.11 263.68,261.81" fill="none" stroke="#000" stroke-width="0.65"/>
<polyline points="174.40,291.59 188.80,289.30 197.44,287.91 211.84,284.82 217.60,281.60 229.12,279.28 237.76,278.28 249.28,273.83 263.68,265.50" fill="none" stroke="#ff3030" stroke-width="0.65"/>
<polyline points="174.40,291.59 188.80,283.33 197.44,282.00 211.84,280.17 217.60,276.12 229.12,274.33 237.76,271.41 249.28,263.70 263.68,247.10" fill="none" stroke="#2848ff" stroke-width="0.65"/>
<rect x="172.74" y="289.93" width="3.33" height="3.33" fill="#858585"/>
<rect x="187.14" y="285.81" width="3.33" height="3.33" fill="#858585"/>
<rect x="195.78" y="283.16" width="3.33" height="3.33" fill="#858585"/>
<rect x="210.18" y="279.17" width="3.33" height="3.33" fill="#858585"/>
<rect x="215.94" y="276.51" width="3.33" height="3.33" fill="#858585"/>
<rect x="227.46" y="274.86" width="3.33" height="3.33" fill="#858585"/>
<rect x="236.09" y="273.19" width="3.33" height="3.33" fill="#858585"/>
<rect x="247.62" y="269.74" width="3.33" height="3.33" fill="#858585"/>
<rect x="262.01" y="258.62" width="3.33" height="3.33" fill="#858585"/>
<path d="M174.40,289.37 L176.44,293.07 L172.37,293.07Z" fill="#128a12"/>
<path d="M188.80,285.92 L190.84,289.62 L186.77,289.62Z" fill="#128a12"/>
<path d="M197.44,283.60 L199.47,287.30 L195.41,287.30Z" fill="#128a12"/>
<path d="M211.84,278.58 L213.88,282.28 L209.81,282.28Z" fill="#128a12"/>
<path d="M217.60,276.62 L219.63,280.32 L215.56,280.32Z" fill="#128a12"/>
<line x1="229.12" y1="271.71" x2="229.12" y2="278.35" stroke="#1a9a1a" stroke-width="0.5" />
<line x1="228.22" y1="271.71" x2="230.02" y2="271.71" stroke="#1a9a1a" stroke-width="0.5" />
<line x1="228.22" y1="278.35" x2="230.02" y2="278.35" stroke="#1a9a1a" stroke-width="0.5" />
<path d="M229.12,272.81 L231.16,276.51 L227.09,276.51Z" fill="#128a12"/>
<path d="M237.76,271.61 L239.79,275.31 L235.72,275.31Z" fill="#128a12"/>
<path d="M249.28,270.28 L251.31,273.98 L247.25,273.98Z" fill="#128a12"/>
<line x1="263.68" y1="261.31" x2="263.68" y2="273.27" stroke="#1a9a1a" stroke-width="0.5" />
<line x1="262.78" y1="261.31" x2="264.58" y2="261.31" stroke="#1a9a1a" stroke-width="0.5" />
<line x1="262.78" y1="273.27" x2="264.58" y2="273.27" stroke="#1a9a1a" stroke-width="0.5" />
<path d="M263.68,265.07 L265.72,268.77 L261.64,268.77Z" fill="#128a12"/>
<path d="M174.40,289.56 L176.44,291.59 L174.40,293.63 L172.37,291.59Z" fill="#fff" stroke="#000" stroke-width="1.0" transform="translate(174.40 291.59) scale(0.85) translate(-174.40 -291.59)"/>
<path d="M188.80,284.78 L190.84,286.81 L188.80,288.85 L186.77,286.81Z" fill="#fff" stroke="#000" stroke-width="1.0" transform="translate(188.80 286.81) scale(0.85) translate(-188.80 -286.81)"/>
<path d="M197.44,282.69 L199.47,284.72 L197.44,286.76 L195.41,284.72Z" fill="#fff" stroke="#000" stroke-width="1.0" transform="translate(197.44 284.72) scale(0.85) translate(-197.44 -284.72)"/>
<path d="M211.84,275.68 L213.88,277.72 L211.84,279.75 L209.81,277.72Z" fill="#fff" stroke="#000" stroke-width="1.0" transform="translate(211.84 277.72) scale(0.85) translate(-211.84 -277.72)"/>
<path d="M217.60,274.09 L219.63,276.12 L217.60,278.16 L215.56,276.12Z" fill="#fff" stroke="#000" stroke-width="1.0" transform="translate(217.60 276.12) scale(0.85) translate(-217.60 -276.12)"/>
<path d="M229.12,272.29 L231.16,274.33 L229.12,276.36 L227.09,274.33Z" fill="#fff" stroke="#000" stroke-width="1.0" transform="translate(229.12 274.33) scale(0.85) translate(-229.12 -274.33)"/>
<path d="M237.76,270.47 L239.79,272.50 L237.76,274.54 L235.72,272.50Z" fill="#fff" stroke="#000" stroke-width="1.0" transform="translate(237.76 272.50) scale(0.85) translate(-237.76 -272.50)"/>
<path d="M249.28,268.08 L251.31,270.11 L249.28,272.15 L247.25,270.11Z" fill="#fff" stroke="#000" stroke-width="1.0" transform="translate(249.28 270.11) scale(0.85) translate(-249.28 -270.11)"/>
<path d="M263.68,256.06 L265.72,258.09 L263.68,260.13 L261.64,258.09Z" fill="#fff" stroke="#000" stroke-width="1.0" transform="translate(263.68 258.09) scale(0.85) translate(-263.68 -258.09)"/>
<circle cx="174.40" cy="291.59" r="1.85" fill="#000"/>
<circle cx="188.80" cy="286.81" r="1.85" fill="#000"/>
<circle cx="197.44" cy="284.72" r="1.85" fill="#000"/>
<line x1="211.84" y1="273.86" x2="211.84" y2="285.15" stroke="#000" stroke-width="0.5" />
<line x1="210.94" y1="273.86" x2="212.74" y2="273.86" stroke="#000" stroke-width="0.5" />
<line x1="210.94" y1="285.15" x2="212.74" y2="285.15" stroke="#000" stroke-width="0.5" />
<circle cx="211.84" cy="279.51" r="1.85" fill="#000"/>
<line x1="217.60" y1="272.20" x2="217.60" y2="280.84" stroke="#000" stroke-width="0.5" />
<line x1="216.70" y1="272.20" x2="218.50" y2="272.20" stroke="#000" stroke-width="0.5" />
<line x1="216.70" y1="280.84" x2="218.50" y2="280.84" stroke="#000" stroke-width="0.5" />
<circle cx="217.60" cy="276.52" r="1.85" fill="#000"/>
<circle cx="229.12" cy="274.86" r="1.85" fill="#000"/>
<line x1="237.76" y1="267.52" x2="237.76" y2="277.48" stroke="#000" stroke-width="0.5" />
<line x1="236.86" y1="267.52" x2="238.66" y2="267.52" stroke="#000" stroke-width="0.5" />
<line x1="236.86" y1="277.48" x2="238.66" y2="277.48" stroke="#000" stroke-width="0.5" />
<circle cx="237.76" cy="272.50" r="1.85" fill="#000"/>
<circle cx="249.28" cy="270.11" r="1.85" fill="#000"/>
<circle cx="263.68" cy="261.81" r="1.85" fill="#000"/>
<circle cx="174.40" cy="291.59" r="1.76" fill="#fff" stroke="#ff2020" stroke-width="1.0"/>
<circle cx="188.80" cy="289.30" r="1.76" fill="#fff" stroke="#ff2020" stroke-width="1.0"/>
<circle cx="197.44" cy="287.91" r="1.76" fill="#fff" stroke="#ff2020" stroke-width="1.0"/>
<circle cx="211.84" cy="284.82" r="1.76" fill="#fff" stroke="#ff2020" stroke-width="1.0"/>
<circle cx="217.60" cy="281.60" r="1.76" fill="#fff" stroke="#ff2020" stroke-width="1.0"/>
<circle cx="229.12" cy="279.28" r="1.76" fill="#fff" stroke="#ff2020" stroke-width="1.0"/>
<circle cx="237.76" cy="278.28" r="1.76" fill="#fff" stroke="#ff2020" stroke-width="1.0"/>
<circle cx="249.28" cy="273.83" r="1.76" fill="#fff" stroke="#ff2020" stroke-width="1.0"/>
<circle cx="263.68" cy="265.50" r="1.76" fill="#fff" stroke="#ff2020" stroke-width="1.0"/>
<path d="M174.40,293.81 L176.44,290.11 L172.37,290.11Z" fill="#1020ff"/>
<line x1="188.80" y1="280.67" x2="188.80" y2="285.98" stroke="#2848ff" stroke-width="0.5" />
<line x1="187.90" y1="280.67" x2="189.70" y2="280.67" stroke="#2848ff" stroke-width="0.5" />
<line x1="187.90" y1="285.98" x2="189.70" y2="285.98" stroke="#2848ff" stroke-width="0.5" />
<path d="M188.80,285.55 L190.84,281.85 L186.77,281.85Z" fill="#1020ff"/>
<path d="M197.44,284.22 L199.47,280.52 L195.41,280.52Z" fill="#1020ff"/>
<path d="M211.84,282.39 L213.88,278.69 L209.81,278.69Z" fill="#1020ff"/>
<path d="M217.60,278.34 L219.63,274.64 L215.56,274.64Z" fill="#1020ff"/>
<path d="M229.12,276.55 L231.16,272.85 L227.09,272.85Z" fill="#1020ff"/>
<path d="M237.76,273.63 L239.79,269.93 L235.72,269.93Z" fill="#1020ff"/>
<line x1="249.28" y1="260.38" x2="249.28" y2="267.02" stroke="#2848ff" stroke-width="0.5" />
<line x1="248.38" y1="260.38" x2="250.18" y2="260.38" stroke="#2848ff" stroke-width="0.5" />
<line x1="248.38" y1="267.02" x2="250.18" y2="267.02" stroke="#2848ff" stroke-width="0.5" />
<path d="M249.28,265.92 L251.31,262.22 L247.25,262.22Z" fill="#1020ff"/>
<line x1="263.68" y1="243.45" x2="263.68" y2="250.76" stroke="#2848ff" stroke-width="0.5" />
<line x1="262.78" y1="243.45" x2="264.58" y2="243.45" stroke="#2848ff" stroke-width="0.5" />
<line x1="262.78" y1="250.76" x2="264.58" y2="250.76" stroke="#2848ff" stroke-width="0.5" />
<path d="M263.68,249.32 L265.72,245.62 L261.64,245.62Z" fill="#1020ff"/>
<line x1="315.80" y1="230.16" x2="315.80" y2="298.40" stroke="#666" stroke-width="0.8" />
<line x1="315.80" y1="298.40" x2="420.20" y2="298.40" stroke="#666" stroke-width="0.8" />
<line x1="313.80" y1="298.40" x2="315.80" y2="298.40" stroke="#666" stroke-width="0.6" />
<text x="313.00" y="300.10" font-size="4.8" text-anchor="end" font-weight="bold" fill="#222"  stroke="#222" stroke-width="0.168">0</text>
<line x1="313.80" y1="281.34" x2="315.80" y2="281.34" stroke="#666" stroke-width="0.6" />
<text x="313.00" y="283.04" font-size="4.8" text-anchor="end" font-weight="bold" fill="#222"  stroke="#222" stroke-width="0.168">200</text>
<line x1="313.80" y1="264.28" x2="315.80" y2="264.28" stroke="#666" stroke-width="0.6" />
<text x="313.00" y="265.98" font-size="4.8" text-anchor="end" font-weight="bold" fill="#222"  stroke="#222" stroke-width="0.168">400</text>
<line x1="313.80" y1="247.22" x2="315.80" y2="247.22" stroke="#666" stroke-width="0.6" />
<text x="313.00" y="248.92" font-size="4.8" text-anchor="end" font-weight="bold" fill="#222"  stroke="#222" stroke-width="0.168">600</text>
<line x1="313.80" y1="230.16" x2="315.80" y2="230.16" stroke="#666" stroke-width="0.6" />
<text x="313.00" y="231.86" font-size="4.8" text-anchor="end" font-weight="bold" fill="#222"  stroke="#222" stroke-width="0.168">800</text>
<line x1="315.80" y1="298.40" x2="315.80" y2="300.40" stroke="#666" stroke-width="0.6" />
<text x="315.80" y="306.10" font-size="4.8" text-anchor="middle" font-weight="bold" fill="#222"  stroke="#222" stroke-width="0.168">0</text>
<line x1="327.40" y1="298.40" x2="327.40" y2="300.40" stroke="#666" stroke-width="0.6" />
<text x="327.40" y="306.10" font-size="4.8" text-anchor="middle" font-weight="bold" fill="#222"  stroke="#222" stroke-width="0.168">5</text>
<line x1="339.00" y1="298.40" x2="339.00" y2="300.40" stroke="#666" stroke-width="0.6" />
<text x="339.00" y="306.10" font-size="4.8" text-anchor="middle" font-weight="bold" fill="#222"  stroke="#222" stroke-width="0.168">10</text>
<line x1="350.60" y1="298.40" x2="350.60" y2="300.40" stroke="#666" stroke-width="0.6" />
<text x="350.60" y="306.10" font-size="4.8" text-anchor="middle" font-weight="bold" fill="#222"  stroke="#222" stroke-width="0.168">15</text>
<line x1="362.20" y1="298.40" x2="362.20" y2="300.40" stroke="#666" stroke-width="0.6" />
<text x="362.20" y="306.10" font-size="4.8" text-anchor="middle" font-weight="bold" fill="#222"  stroke="#222" stroke-width="0.168">20</text>
<line x1="373.80" y1="298.40" x2="373.80" y2="300.40" stroke="#666" stroke-width="0.6" />
<text x="373.80" y="306.10" font-size="4.8" text-anchor="middle" font-weight="bold" fill="#222"  stroke="#222" stroke-width="0.168">25</text>
<line x1="385.40" y1="298.40" x2="385.40" y2="300.40" stroke="#666" stroke-width="0.6" />
<text x="385.40" y="306.10" font-size="4.8" text-anchor="middle" font-weight="bold" fill="#222"  stroke="#222" stroke-width="0.168">30</text>
<line x1="397.00" y1="298.40" x2="397.00" y2="300.40" stroke="#666" stroke-width="0.6" />
<text x="397.00" y="306.10" font-size="4.8" text-anchor="middle" font-weight="bold" fill="#222"  stroke="#222" stroke-width="0.168">35</text>
<line x1="408.60" y1="298.40" x2="408.60" y2="300.40" stroke="#666" stroke-width="0.6" />
<text x="408.60" y="306.10" font-size="4.8" text-anchor="middle" font-weight="bold" fill="#222"  stroke="#222" stroke-width="0.168">40</text>
<line x1="420.20" y1="298.40" x2="420.20" y2="300.40" stroke="#666" stroke-width="0.6" />
<text x="420.20" y="306.10" font-size="4.8" text-anchor="middle" font-weight="bold" fill="#222"  stroke="#222" stroke-width="0.168">45</text>
<text x="367.50" y="228.40" font-size="6.5" text-anchor="middle" font-weight="bold" fill="#000"  stroke="#000" stroke-width="0.228">Caov-3</text>
<text x="299.40" y="263.98" font-size="5.8" text-anchor="middle" font-weight="bold" fill="#111" stroke="#111" stroke-width="0.1" transform="rotate(-90 299.40 263.98)">Tumor volume (mm<tspan dy="-1.9" font-size="3.5">3</tspan><tspan dy="1.9">)</tspan></text>
<text x="367.40" y="320.00" font-size="5.5" text-anchor="middle" font-weight="bold" fill="#111"  stroke="#111" stroke-width="0.193">Days after first injection</text>
<line x1="316.80" y1="284.07" x2="410.00" y2="284.07" stroke="#d4d4d4" stroke-width="0.8" />
<path d="M315.80,307.70 L317.70,311.70 L313.90,311.70Z" fill="#cccc10"/>
<line x1="315.80" y1="311.70" x2="315.80" y2="313.60" stroke="#dddd60" stroke-width="0.9" />
<path d="M332.04,307.70 L333.94,311.70 L330.14,311.70Z" fill="#cccc10"/>
<line x1="332.04" y1="311.70" x2="332.04" y2="313.60" stroke="#dddd60" stroke-width="0.9" />
<path d="M348.28,307.70 L350.18,311.70 L346.38,311.70Z" fill="#cccc10"/>
<line x1="348.28" y1="311.70" x2="348.28" y2="313.60" stroke="#dddd60" stroke-width="0.9" />
<polyline points="315.80,283.90 327.40,282.19 334.36,279.21 341.32,277.07 350.60,274.86 364.52,273.15 373.80,267.44 380.76,266.84 397.00,262.57 410.92,261.72" fill="none" stroke="#8a8a8a" stroke-width="0.65"/>
<polyline points="315.80,283.90 327.40,282.19 334.36,277.07 341.32,281.34 350.60,282.62 364.52,276.31 373.80,273.92 380.76,268.54 397.00,265.99 410.92,261.72" fill="none" stroke="#1a9a1a" stroke-width="0.65"/>
<polyline points="315.80,284.75 327.40,282.19 334.36,281.34 341.32,283.90 350.60,284.75 364.52,278.61 373.80,277.93 380.76,273.92 397.00,266.24 410.92,262.23" fill="none" stroke="#222" stroke-width="0.65"/>
<polyline points="315.80,283.30 327.40,281.34 334.36,280.83 341.32,280.83 350.60,284.75 364.52,275.11 373.80,271.62 380.76,265.47 397.00,260.27 410.92,259.08" fill="none" stroke="#2848ff" stroke-width="0.65"/>
<polyline points="315.80,284.33 327.40,281.43 334.36,275.71 341.32,274.17 350.60,269.23 364.52,264.96 373.80,260.78 380.76,259.08 397.00,257.46 410.92,253.70" fill="none" stroke="#000" stroke-width="0.65"/>
<polyline points="315.80,285.18 327.40,283.30 334.36,282.11 341.32,284.33 350.60,285.01 364.52,278.61 373.80,277.16 380.76,278.61 397.00,275.62 410.92,274.00" fill="none" stroke="#ff3030" stroke-width="0.65"/>
<rect x="314.13" y="282.23" width="3.33" height="3.33" fill="#858585"/>
<line x1="327.40" y1="279.63" x2="327.40" y2="284.75" stroke="#8a8a8a" stroke-width="0.5" />
<line x1="326.50" y1="279.63" x2="328.30" y2="279.63" stroke="#8a8a8a" stroke-width="0.5" />
<line x1="326.50" y1="284.75" x2="328.30" y2="284.75" stroke="#8a8a8a" stroke-width="0.5" />
<rect x="325.74" y="280.53" width="3.33" height="3.33" fill="#858585"/>
<rect x="332.69" y="277.54" width="3.33" height="3.33" fill="#858585"/>
<rect x="339.65" y="275.41" width="3.33" height="3.33" fill="#858585"/>
<line x1="350.60" y1="270.59" x2="350.60" y2="279.12" stroke="#8a8a8a" stroke-width="0.5" />
<line x1="349.70" y1="270.59" x2="351.50" y2="270.59" stroke="#8a8a8a" stroke-width="0.5" />
<line x1="349.70" y1="279.12" x2="351.50" y2="279.12" stroke="#8a8a8a" stroke-width="0.5" />
<rect x="348.94" y="273.19" width="3.33" height="3.33" fill="#858585"/>
<line x1="364.52" y1="268.03" x2="364.52" y2="278.27" stroke="#8a8a8a" stroke-width="0.5" />
<line x1="363.62" y1="268.03" x2="365.42" y2="268.03" stroke="#8a8a8a" stroke-width="0.5" />
<line x1="363.62" y1="278.27" x2="365.42" y2="278.27" stroke="#8a8a8a" stroke-width="0.5" />
<rect x="362.85" y="271.49" width="3.33" height="3.33" fill="#858585"/>
<line x1="373.80" y1="259.76" x2="373.80" y2="275.11" stroke="#8a8a8a" stroke-width="0.5" />
<line x1="372.90" y1="259.76" x2="374.70" y2="259.76" stroke="#8a8a8a" stroke-width="0.5" />
<line x1="372.90" y1="275.11" x2="374.70" y2="275.11" stroke="#8a8a8a" stroke-width="0.5" />
<rect x="372.13" y="265.77" width="3.33" height="3.33" fill="#858585"/>
<rect x="379.09" y="265.17" width="3.33" height="3.33" fill="#858585"/>
<line x1="397.00" y1="254.90" x2="397.00" y2="270.25" stroke="#8a8a8a" stroke-width="0.5" />
<line x1="396.10" y1="254.90" x2="397.90" y2="254.90" stroke="#8a8a8a" stroke-width="0.5" />
<line x1="396.10" y1="270.25" x2="397.90" y2="270.25" stroke="#8a8a8a" stroke-width="0.5" />
<rect x="395.33" y="260.91" width="3.33" height="3.33" fill="#858585"/>
<line x1="410.92" y1="251.49" x2="410.92" y2="271.96" stroke="#8a8a8a" stroke-width="0.5" />
<line x1="410.02" y1="251.49" x2="411.82" y2="251.49" stroke="#8a8a8a" stroke-width="0.5" />
<line x1="410.02" y1="271.96" x2="411.82" y2="271.96" stroke="#8a8a8a" stroke-width="0.5" />
<rect x="409.25" y="260.06" width="3.33" height="3.33" fill="#858585"/>
<path d="M315.80,281.68 L317.84,285.38 L313.76,285.38Z" fill="#128a12"/>
<path d="M327.40,279.97 L329.44,283.67 L325.37,283.67Z" fill="#128a12"/>
<path d="M334.36,274.85 L336.40,278.56 L332.32,278.56Z" fill="#128a12"/>
<path d="M341.32,279.12 L343.36,282.82 L339.28,282.82Z" fill="#128a12"/>
<path d="M350.60,280.40 L352.64,284.10 L348.56,284.10Z" fill="#128a12"/>
<path d="M364.52,274.09 L366.56,277.79 L362.48,277.79Z" fill="#128a12"/>
<path d="M373.80,271.70 L375.84,275.40 L371.76,275.40Z" fill="#128a12"/>
<path d="M380.76,266.32 L382.80,270.02 L378.72,270.02Z" fill="#128a12"/>
<path d="M397.00,263.77 L399.04,267.47 L394.96,267.47Z" fill="#128a12"/>
<path d="M410.92,259.50 L412.96,263.20 L408.88,263.20Z" fill="#128a12"/>
<path d="M315.80,282.72 L317.84,284.75 L315.80,286.79 L313.76,284.75Z" fill="#fff" stroke="#000" stroke-width="1.0" transform="translate(315.80 284.75) scale(0.85) translate(-315.80 -284.75)"/>
<line x1="327.40" y1="278.78" x2="327.40" y2="285.60" stroke="#222" stroke-width="0.5" />
<line x1="326.50" y1="278.78" x2="328.30" y2="278.78" stroke="#222" stroke-width="0.5" />
<line x1="326.50" y1="285.60" x2="328.30" y2="285.60" stroke="#222" stroke-width="0.5" />
<path d="M327.40,280.16 L329.44,282.19 L327.40,284.23 L325.37,282.19Z" fill="#fff" stroke="#000" stroke-width="1.0" transform="translate(327.40 282.19) scale(0.85) translate(-327.40 -282.19)"/>
<line x1="334.36" y1="277.07" x2="334.36" y2="285.60" stroke="#222" stroke-width="0.5" />
<line x1="333.46" y1="277.07" x2="335.26" y2="277.07" stroke="#222" stroke-width="0.5" />
<line x1="333.46" y1="285.60" x2="335.26" y2="285.60" stroke="#222" stroke-width="0.5" />
<path d="M334.36,279.30 L336.40,281.34 L334.36,283.38 L332.32,281.34Z" fill="#fff" stroke="#000" stroke-width="1.0" transform="translate(334.36 281.34) scale(0.85) translate(-334.36 -281.34)"/>
<path d="M341.32,281.86 L343.36,283.90 L341.32,285.93 L339.28,283.90Z" fill="#fff" stroke="#000" stroke-width="1.0" transform="translate(341.32 283.90) scale(0.85) translate(-341.32 -283.90)"/>
<line x1="350.60" y1="279.63" x2="350.60" y2="289.87" stroke="#222" stroke-width="0.5" />
<line x1="349.70" y1="279.63" x2="351.50" y2="279.63" stroke="#222" stroke-width="0.5" />
<line x1="349.70" y1="289.87" x2="351.50" y2="289.87" stroke="#222" stroke-width="0.5" />
<path d="M350.60,282.72 L352.64,284.75 L350.60,286.79 L348.56,284.75Z" fill="#fff" stroke="#000" stroke-width="1.0" transform="translate(350.60 284.75) scale(0.85) translate(-350.60 -284.75)"/>
<line x1="364.52" y1="272.64" x2="364.52" y2="284.58" stroke="#222" stroke-width="0.5" />
<line x1="363.62" y1="272.64" x2="365.42" y2="272.64" stroke="#222" stroke-width="0.5" />
<line x1="363.62" y1="284.58" x2="365.42" y2="284.58" stroke="#222" stroke-width="0.5" />
<path d="M364.52,276.58 L366.56,278.61 L364.52,280.65 L362.48,278.61Z" fill="#fff" stroke="#000" stroke-width="1.0" transform="translate(364.52 278.61) scale(0.85) translate(-364.52 -278.61)"/>
<line x1="373.80" y1="270.25" x2="373.80" y2="285.61" stroke="#222" stroke-width="0.5" />
<line x1="372.90" y1="270.25" x2="374.70" y2="270.25" stroke="#222" stroke-width="0.5" />
<line x1="372.90" y1="285.61" x2="374.70" y2="285.61" stroke="#222" stroke-width="0.5" />
<path d="M373.80,275.89 L375.84,277.93 L373.80,279.96 L371.76,277.93Z" fill="#fff" stroke="#000" stroke-width="1.0" transform="translate(373.80 277.93) scale(0.85) translate(-373.80 -277.93)"/>
<line x1="380.76" y1="266.24" x2="380.76" y2="281.60" stroke="#222" stroke-width="0.5" />
<line x1="379.86" y1="266.24" x2="381.66" y2="266.24" stroke="#222" stroke-width="0.5" />
<line x1="379.86" y1="281.60" x2="381.66" y2="281.60" stroke="#222" stroke-width="0.5" />
<path d="M380.76,271.88 L382.80,273.92 L380.76,275.95 L378.72,273.92Z" fill="#fff" stroke="#000" stroke-width="1.0" transform="translate(380.76 273.92) scale(0.85) translate(-380.76 -273.92)"/>
<path d="M397.00,264.21 L399.04,266.24 L397.00,268.28 L394.96,266.24Z" fill="#fff" stroke="#000" stroke-width="1.0" transform="translate(397.00 266.24) scale(0.85) translate(-397.00 -266.24)"/>
<line x1="410.92" y1="254.56" x2="410.92" y2="269.91" stroke="#222" stroke-width="0.5" />
<line x1="410.02" y1="254.56" x2="411.82" y2="254.56" stroke="#222" stroke-width="0.5" />
<line x1="410.02" y1="269.91" x2="411.82" y2="269.91" stroke="#222" stroke-width="0.5" />
<path d="M410.92,260.20 L412.96,262.23 L410.92,264.27 L408.88,262.23Z" fill="#fff" stroke="#000" stroke-width="1.0" transform="translate(410.92 262.23) scale(0.85) translate(-410.92 -262.23)"/>
<path d="M315.80,285.52 L317.84,281.82 L313.76,281.82Z" fill="#1020ff"/>
<path d="M327.40,283.56 L329.44,279.86 L325.37,279.86Z" fill="#1020ff"/>
<path d="M334.36,283.05 L336.40,279.35 L332.32,279.35Z" fill="#1020ff"/>
<path d="M341.32,283.05 L343.36,279.35 L339.28,279.35Z" fill="#1020ff"/>
<path d="M350.60,286.97 L352.64,283.27 L348.56,283.27Z" fill="#1020ff"/>
<path d="M364.52,277.33 L366.56,273.63 L362.48,273.63Z" fill="#1020ff"/>
<path d="M373.80,273.84 L375.84,270.14 L371.76,270.14Z" fill="#1020ff"/>
<line x1="380.76" y1="259.50" x2="380.76" y2="271.45" stroke="#2848ff" stroke-width="0.5" />
<line x1="379.86" y1="259.50" x2="381.66" y2="259.50" stroke="#2848ff" stroke-width="0.5" />
<line x1="379.86" y1="271.45" x2="381.66" y2="271.45" stroke="#2848ff" stroke-width="0.5" />
<path d="M380.76,267.69 L382.80,263.99 L378.72,263.99Z" fill="#1020ff"/>
<line x1="397.00" y1="253.45" x2="397.00" y2="267.09" stroke="#2848ff" stroke-width="0.5" />
<line x1="396.10" y1="253.45" x2="397.90" y2="253.45" stroke="#2848ff" stroke-width="0.5" />
<line x1="396.10" y1="267.09" x2="397.90" y2="267.09" stroke="#2848ff" stroke-width="0.5" />
<path d="M397.00,262.49 L399.04,258.79 L394.96,258.79Z" fill="#1020ff"/>
<line x1="410.92" y1="247.13" x2="410.92" y2="271.02" stroke="#2848ff" stroke-width="0.5" />
<line x1="410.02" y1="247.13" x2="411.82" y2="247.13" stroke="#2848ff" stroke-width="0.5" />
<line x1="410.02" y1="271.02" x2="411.82" y2="271.02" stroke="#2848ff" stroke-width="0.5" />
<path d="M410.92,261.30 L412.96,257.60 L408.88,257.60Z" fill="#1020ff"/>
<circle cx="315.80" cy="284.33" r="1.85" fill="#000"/>
<circle cx="327.40" cy="281.43" r="1.85" fill="#000"/>
<circle cx="334.36" cy="275.71" r="1.85" fill="#000"/>
<line x1="341.32" y1="270.76" x2="341.32" y2="277.59" stroke="#000" stroke-width="0.5" />
<line x1="340.42" y1="270.76" x2="342.22" y2="270.76" stroke="#000" stroke-width="0.5" />
<line x1="340.42" y1="277.59" x2="342.22" y2="277.59" stroke="#000" stroke-width="0.5" />
<circle cx="341.32" cy="274.17" r="1.85" fill="#000"/>
<line x1="350.60" y1="264.11" x2="350.60" y2="274.35" stroke="#000" stroke-width="0.5" />
<line x1="349.70" y1="264.11" x2="351.50" y2="264.11" stroke="#000" stroke-width="0.5" />
<line x1="349.70" y1="274.35" x2="351.50" y2="274.35" stroke="#000" stroke-width="0.5" />
<circle cx="350.60" cy="269.23" r="1.85" fill="#000"/>
<circle cx="364.52" cy="264.96" r="1.85" fill="#000"/>
<line x1="373.80" y1="253.11" x2="373.80" y2="268.46" stroke="#000" stroke-width="0.5" />
<line x1="372.90" y1="253.11" x2="374.70" y2="253.11" stroke="#000" stroke-width="0.5" />
<line x1="372.90" y1="268.46" x2="374.70" y2="268.46" stroke="#000" stroke-width="0.5" />
<circle cx="373.80" cy="260.78" r="1.85" fill="#000"/>
<line x1="380.76" y1="249.69" x2="380.76" y2="268.46" stroke="#000" stroke-width="0.5" />
<line x1="379.86" y1="249.69" x2="381.66" y2="249.69" stroke="#000" stroke-width="0.5" />
<line x1="379.86" y1="268.46" x2="381.66" y2="268.46" stroke="#000" stroke-width="0.5" />
<circle cx="380.76" cy="259.08" r="1.85" fill="#000"/>
<line x1="397.00" y1="247.22" x2="397.00" y2="267.69" stroke="#000" stroke-width="0.5" />
<line x1="396.10" y1="247.22" x2="397.90" y2="247.22" stroke="#000" stroke-width="0.5" />
<line x1="396.10" y1="267.69" x2="397.90" y2="267.69" stroke="#000" stroke-width="0.5" />
<circle cx="397.00" cy="257.46" r="1.85" fill="#000"/>
<line x1="410.92" y1="240.91" x2="410.92" y2="266.50" stroke="#000" stroke-width="0.5" />
<line x1="410.02" y1="240.91" x2="411.82" y2="240.91" stroke="#000" stroke-width="0.5" />
<line x1="410.02" y1="266.50" x2="411.82" y2="266.50" stroke="#000" stroke-width="0.5" />
<circle cx="410.92" cy="253.70" r="1.85" fill="#000"/>
<circle cx="315.80" cy="285.18" r="1.76" fill="#fff" stroke="#ff2020" stroke-width="1.0"/>
<circle cx="327.40" cy="283.30" r="1.76" fill="#fff" stroke="#ff2020" stroke-width="1.0"/>
<circle cx="334.36" cy="282.11" r="1.76" fill="#fff" stroke="#ff2020" stroke-width="1.0"/>
<circle cx="341.32" cy="284.33" r="1.76" fill="#fff" stroke="#ff2020" stroke-width="1.0"/>
<circle cx="350.60" cy="285.01" r="1.76" fill="#fff" stroke="#ff2020" stroke-width="1.0"/>
<circle cx="364.52" cy="278.61" r="1.76" fill="#fff" stroke="#ff2020" stroke-width="1.0"/>
<circle cx="373.80" cy="277.16" r="1.76" fill="#fff" stroke="#ff2020" stroke-width="1.0"/>
<circle cx="380.76" cy="278.61" r="1.76" fill="#fff" stroke="#ff2020" stroke-width="1.0"/>
<circle cx="397.00" cy="275.62" r="1.76" fill="#fff" stroke="#ff2020" stroke-width="1.0"/>
<circle cx="410.92" cy="274.00" r="1.76" fill="#fff" stroke="#ff2020" stroke-width="1.0"/>
<text x="415.60" y="275.50" font-size="4.3" text-anchor="middle" font-weight="bold" fill="#ff4040"  stroke="#ff4040" stroke-width="0.150">#</text>
<circle cx="431.40" cy="248.80" r="1.35" fill="#000"/>
<text x="439.40" y="250.80" font-size="5.7" text-anchor="start" fill="#222"  stroke="#222" stroke-width="0.114">Vehicle</text>
<rect x="430.19" y="255.59" width="2.43" height="2.43" fill="#858585"/>
<text x="439.40" y="258.80" font-size="5.7" text-anchor="start" fill="#222"  stroke="#222" stroke-width="0.114">c12G1 5 mg/kg</text>
<path d="M431.40,263.38 L432.88,266.08 L429.91,266.08Z" fill="#128a12"/>
<text x="439.40" y="267.00" font-size="5.7" text-anchor="start" fill="#222"  stroke="#222" stroke-width="0.114">IgG-DM1 5 mg/kg</text>
<path d="M431.40,274.42 L432.88,271.72 L429.91,271.72Z" fill="#1020ff"/>
<text x="439.40" y="274.80" font-size="5.7" text-anchor="start" fill="#222"  stroke="#222" stroke-width="0.114">1</text>
<circle cx="431.40" cy="280.70" r="1.28" fill="#fff" stroke="#ff2020" stroke-width="1.0"/>
<text x="439.40" y="282.70" font-size="5.7" text-anchor="start" fill="#222"  stroke="#222" stroke-width="0.114">3</text>
<path d="M431.40,287.31 L432.88,288.80 L431.40,290.29 L429.91,288.80Z" fill="#fff" stroke="#000" stroke-width="1.0" transform="translate(431.40 288.80) scale(0.85) translate(-431.40 -288.80)"/>
<text x="439.40" y="290.80" font-size="5.7" text-anchor="start" fill="#222"  stroke="#222" stroke-width="0.114">5</text>
<line x1="446.60" y1="271.00" x2="446.60" y2="290.50" stroke="#444" stroke-width="0.7" />
<text x="463.50" y="279.60" font-size="4.9" text-anchor="middle" fill="#333"  stroke="#333" stroke-width="0.098">c12G1-DMI</text>
<text x="463.50" y="286.40" font-size="4.9" text-anchor="middle" fill="#333"  stroke="#333" stroke-width="0.098">(mg/kg)</text>
</svg></body></html>
